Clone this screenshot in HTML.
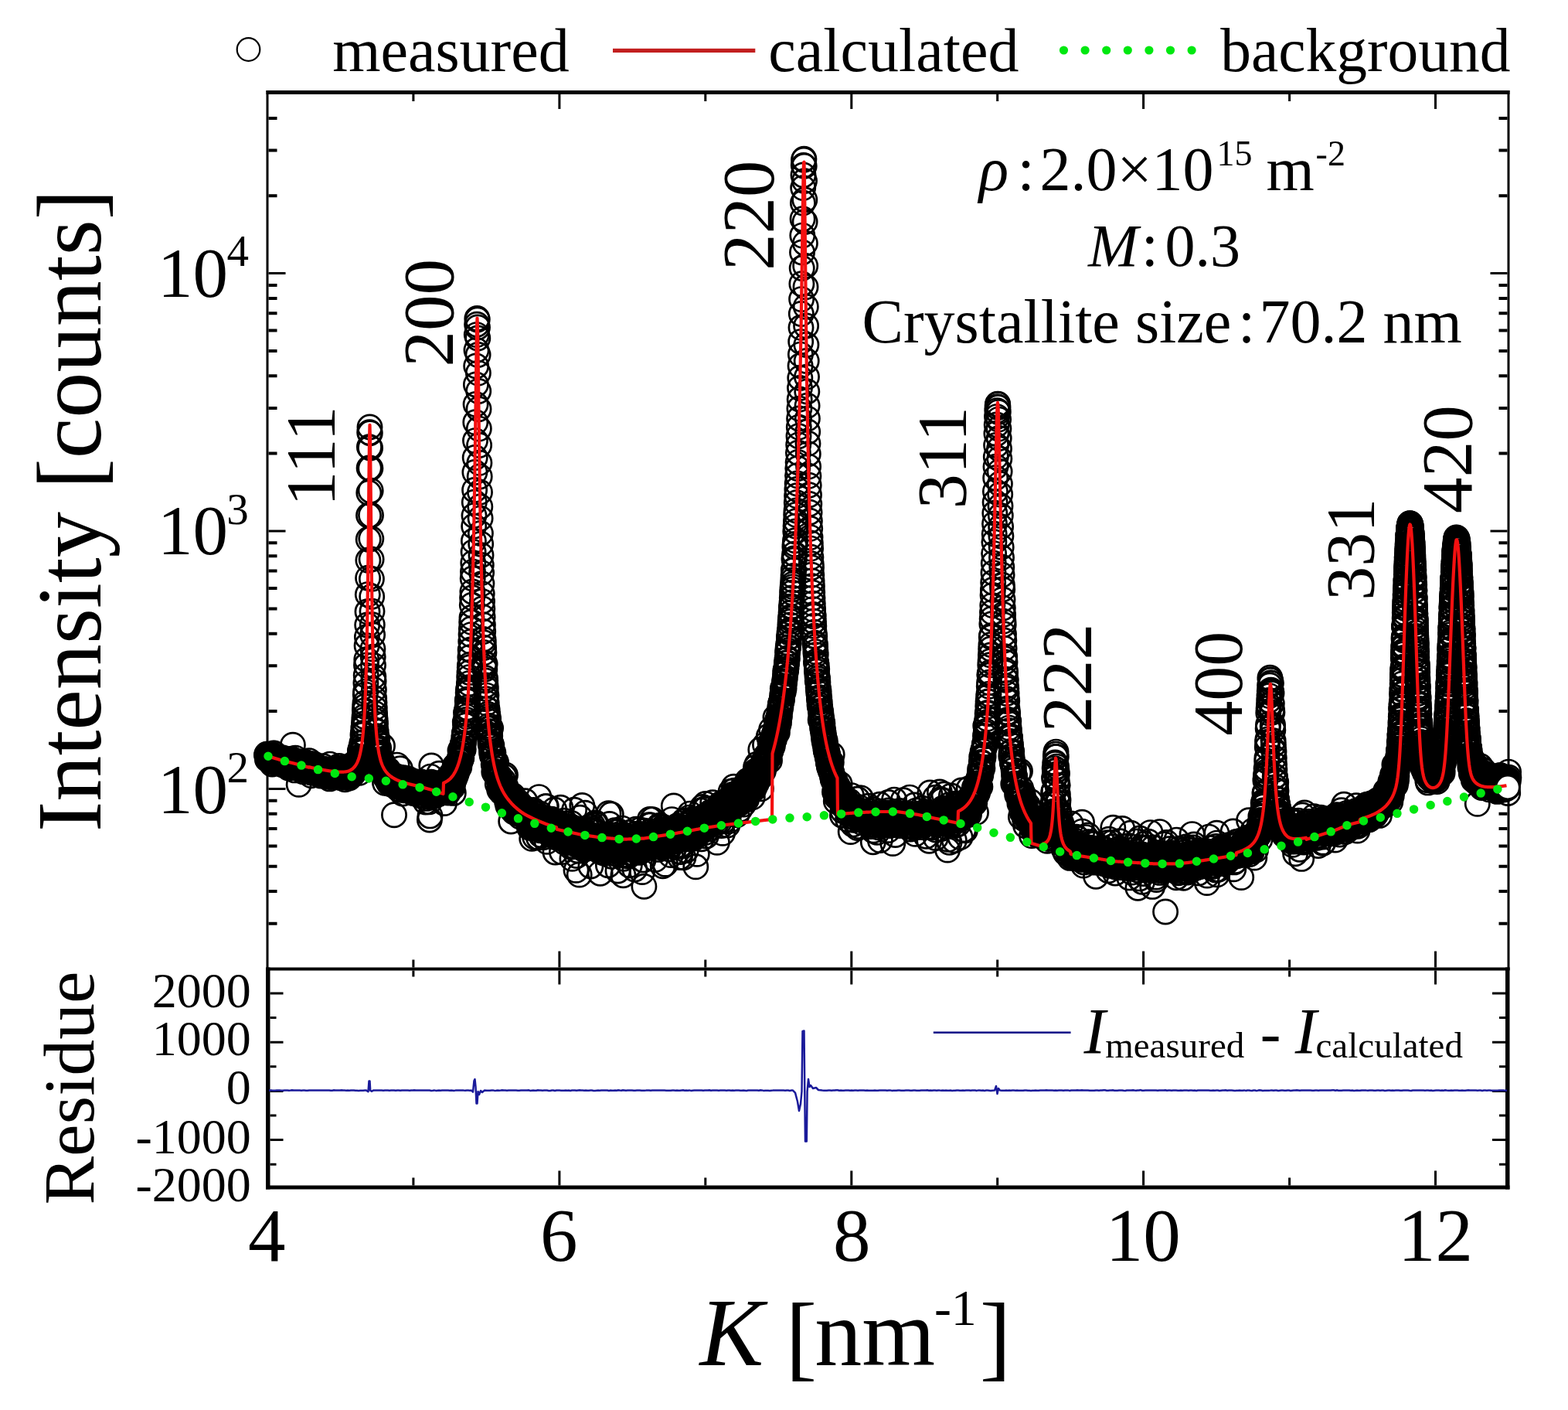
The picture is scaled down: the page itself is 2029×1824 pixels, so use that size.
<!DOCTYPE html>
<html><head><meta charset="utf-8"><title>XRD profile</title><style>html,body{margin:0;padding:0;background:#fff;}svg{display:block;}</style></head><body>
<svg width="2029" height="1824" viewBox="0 0 2029 1824">
<rect width="100%" height="100%" fill="#fff"/>
<rect x="344.5" y="117" width="1609" height="5" fill="#000"/>
<rect x="344.5" y="117" width="3" height="1138" fill="#000"/>
<rect x="1950.5" y="117" width="3" height="1138" fill="#000"/>
<rect x="344.5" y="1251.5" width="1609" height="4" fill="#000"/>
<rect x="344" y="1251.5" width="5.5" height="287" fill="#000"/>
<rect x="1948" y="1251.5" width="5.5" height="287" fill="#000"/>
<rect x="344" y="1533.5" width="1609.5" height="5" fill="#000"/>
<path d="M534.9 122V131M534.9 1251.5V1241.5M534.9 1255.5V1263.5M534.9 1533.5V1523.5M723.9 122V141M723.9 1251.5V1230.5M723.9 1255.5V1273.5M723.9 1533.5V1514.5M912.8 122V131M912.8 1251.5V1241.5M912.8 1255.5V1263.5M912.8 1533.5V1523.5M1101.8 122V141M1101.8 1251.5V1230.5M1101.8 1255.5V1273.5M1101.8 1533.5V1514.5M1290.7 122V131M1290.7 1251.5V1241.5M1290.7 1255.5V1263.5M1290.7 1533.5V1523.5M1479.6 122V141M1479.6 1251.5V1230.5M1479.6 1255.5V1273.5M1479.6 1533.5V1514.5M1668.6 122V131M1668.6 1251.5V1241.5M1668.6 1255.5V1263.5M1668.6 1533.5V1523.5M1857.5 122V141M1857.5 1251.5V1230.5M1857.5 1255.5V1273.5M1857.5 1533.5V1514.5M347.5 1020.4H369.5M1950.5 1020.4H1928.5M347.5 687H369.5M1950.5 687H1928.5M347.5 353.6H369.5M1950.5 353.6H1928.5M349.5 1506.2H357.5M1948 1506.2H1940M349.5 1474.6H366.5M1948 1474.6H1931M349.5 1443H357.5M1948 1443H1940M349.5 1411.4H366.5M1948 1411.4H1931M349.5 1379.8H357.5M1948 1379.8H1940M349.5 1348.2H366.5M1948 1348.2H1931M349.5 1316.6H357.5M1948 1316.6H1940M349.5 1285H366.5M1948 1285H1931" stroke="#000" stroke-width="3" fill="none"/><path d="M347.5 1194.7H358.5M1950.5 1194.7H1939.5M347.5 1153.1H358.5M1950.5 1153.1H1939.5M347.5 1120.8H358.5M1950.5 1120.8H1939.5M347.5 1094.4H358.5M1950.5 1094.4H1939.5M347.5 1072H358.5M1950.5 1072H1939.5M347.5 1052.7H358.5M1950.5 1052.7H1939.5M347.5 1035.7H358.5M1950.5 1035.7H1939.5M347.5 920H358.5M1950.5 920H1939.5M347.5 861.3H358.5M1950.5 861.3H1939.5M347.5 819.7H358.5M1950.5 819.7H1939.5M347.5 787.4H358.5M1950.5 787.4H1939.5M347.5 761H358.5M1950.5 761H1939.5M347.5 738.6H358.5M1950.5 738.6H1939.5M347.5 719.3H358.5M1950.5 719.3H1939.5M347.5 702.3H358.5M1950.5 702.3H1939.5M347.5 586.6H358.5M1950.5 586.6H1939.5M347.5 527.9H358.5M1950.5 527.9H1939.5M347.5 486.3H358.5M1950.5 486.3H1939.5M347.5 454H358.5M1950.5 454H1939.5M347.5 427.6H358.5M1950.5 427.6H1939.5M347.5 405.2H358.5M1950.5 405.2H1939.5M347.5 385.9H358.5M1950.5 385.9H1939.5M347.5 368.9H358.5M1950.5 368.9H1939.5M347.5 253.2H358.5M1950.5 253.2H1939.5M347.5 194.5H358.5M1950.5 194.5H1939.5M347.5 152.9H358.5M1950.5 152.9H1939.5" stroke="#000" stroke-width="4" fill="none"/>
<defs><marker id="o" markerUnits="userSpaceOnUse" markerWidth="40" markerHeight="40" refX="20" refY="20" overflow="visible"><circle cx="20" cy="20" r="15.6" fill="none" stroke="#000" stroke-width="2.7"/></marker></defs><polyline points="345,977 345.3,975.7 345.6,977.2 345.9,982.2 346.2,975.6 346.5,977 346.8,980 347.1,976.8 347.4,977.5 347.7,977.8 348,978.7 348.3,977.2 348.6,981.2 348.9,979.5 349.2,980.6 349.5,977.4 349.8,979.2 350.1,980.3 350.4,981.9 350.7,980.4 351,979.7 351.3,980.6 351.6,976 351.9,977 352.2,988.5 352.5,986 352.8,980.8 353.1,981.6 353.4,979.8 353.7,979.9 354,974.4 354.3,984.1 354.6,982 354.9,974.8 355.2,979.1 355.5,979.1 355.8,982.8 356.1,986.4 356.4,980.9 356.7,981.1 357,985.3 357.3,983.8 357.6,982 357.9,984.8 358.2,982.2 358.5,981.7 358.8,982 359.1,983.8 359.4,980.5 359.7,979.7 360,981.5 360.3,985.1 360.6,980.5 360.9,984.3 361.2,980.2 361.5,986.3 361.8,980.3 362.1,983.2 362.4,987.1 362.7,984.3 363,983.3 363.3,982.7 363.6,986.7 363.9,987.2 364.2,983.2 364.5,985.3 364.8,983.2 365.1,981.7 365.4,989.3 365.7,983.4 366,980.5 366.3,985.3 366.6,987 366.9,982.2 367.2,983.8 367.5,981.9 367.8,985.8 368.1,989.5 368.4,985.2 368.7,986.4 369,982.7 369.3,984.5 369.6,990.4 369.9,989.1 370.2,982.6 370.5,983.3 370.8,987.5 371.1,985.6 371.4,984.3 371.7,984.3 372,983.1 372.3,985.1 372.6,986.3 372.9,986.9 373.2,982.9 373.5,993.5 373.8,986.7 374.1,986.3 374.4,991 374.7,985.5 375,988.7 375.3,984 375.6,987.2 375.9,984.7 376.2,983.1 376.5,985.8 376.8,989.9 377.1,992 377.4,981.8 377.7,987.7 378,989.6 378.3,987 378.6,988.1 378.9,963.7 379.2,987.6 379.5,987.7 379.8,990.1 380.1,986.4 380.4,991.3 380.7,986 381,986 381.3,993.1 381.6,996.4 381.9,986.4 382.2,980.6 382.5,991.8 382.8,992.7 383.1,986.8 383.4,991.5 383.7,990.5 384,990.1 384.3,987.3 384.6,990.4 384.9,988.3 385.2,989.8 385.5,992.1 385.8,990.5 386.1,992.6 386.4,989.6 386.7,1014.8 387,993.3 387.3,985.2 387.6,990.1 387.9,990.2 388.2,988.5 388.5,991.5 388.8,991 389.1,989 389.4,989.5 389.7,994.3 390,987.9 390.3,992.6 390.6,994.2 390.9,993.8 391.2,992.2 391.5,985.8 391.8,994.9 392.1,990.6 392.4,998.3 392.7,991.3 393,988.5 393.3,992.2 393.6,993.6 393.9,990.9 394.2,989.5 394.5,989.7 394.8,985.6 395.1,991.3 395.4,994 395.7,994.1 396,992.4 396.3,991.9 396.6,992.5 396.9,991.9 397.2,998.1 397.5,989.9 397.8,994.6 398.1,996.6 398.4,990.8 398.7,988.7 399,991.4 399.3,992.6 399.6,996.2 399.9,984.1 400.2,990.5 400.5,997.2 400.8,996.1 401.1,993.3 401.4,998.8 401.7,993.2 402,995.3 402.3,989.9 402.6,990.8 402.9,1003.2 403.2,994 403.5,999.6 403.8,990.7 404.1,993.8 404.4,992.6 404.7,998 405,988.6 405.3,988.1 405.6,998.2 405.9,993.5 406.2,997 406.5,994.9 406.8,999.2 407.1,988.9 407.4,998.3 407.7,996.1 408,993.5 408.3,997.4 408.6,996.1 408.9,997.3 409.2,995.9 409.5,999.4 409.8,997 410.1,996.3 410.4,996.8 410.7,995.6 411,996.8 411.3,993.4 411.6,997 411.9,996.5 412.2,998.3 412.5,997.9 412.8,1000.5 413.1,994.5 413.4,1000.2 413.7,998.9 414,995.2 414.3,995.1 414.6,997.9 414.9,1003.5 415.2,995.3 415.5,995.9 415.8,1001.6 416.1,994.3 416.4,999.3 416.7,1000.8 417,996.7 417.3,997.7 417.6,996.5 417.9,1002.7 418.2,991.3 418.5,999.4 418.8,1002.7 419.1,995.3 419.4,998.7 419.7,996.4 420,998.7 420.3,997.8 420.6,996.9 420.9,1000.3 421.2,995.5 421.5,999.5 421.8,1000.9 422.1,997.7 422.4,996.5 422.7,998.9 423,1001.1 423.3,996.1 423.6,1004.3 423.9,1001.8 424.2,998.2 424.5,1003.1 424.8,998.4 425.1,998.7 425.4,995.5 425.7,1001.8 426,1000.8 426.3,997.6 426.6,1007.4 426.9,988.6 427.2,1001.2 427.5,1001.4 427.8,996 428.1,999.1 428.4,1005.2 428.7,996.9 429,996.2 429.3,1000.7 429.6,1000.2 429.9,997.6 430.2,1002.4 430.5,997.8 430.8,998.7 431.1,1001.7 431.4,1004.3 431.7,1000.2 432,1002.5 432.3,996.1 432.6,999.1 432.9,996.9 433.2,999.2 433.5,998.8 433.8,1002.4 434.1,997.4 434.4,993.7 434.7,1000.9 435,1001.9 435.3,1000.4 435.6,1001.5 435.9,1002.3 436.2,999.5 436.5,1001 436.8,995.1 437.1,1000 437.4,998.9 437.7,996.8 438,1001.1 438.3,995.2 438.6,1002.3 438.9,991 439.2,1001.4 439.5,1000.5 439.8,1005.1 440.1,1000.3 440.4,1006.1 440.7,995.4 441,1000.5 441.3,1002.5 441.6,1003.4 441.9,1001.6 442.2,1001 442.5,1003.9 442.8,1003.4 443.1,1000.9 443.4,1002 443.7,997 444,996.3 444.3,1000.1 444.6,998.5 444.9,1004.9 445.2,997.9 445.5,1000.2 445.8,992.9 446.1,994.6 446.4,1008.2 446.7,999.1 447,1003.9 447.3,997.9 447.6,1004.6 447.9,1001.6 448.2,999.1 448.5,997.6 448.8,999.5 449.1,1002.5 449.4,1001.5 449.7,996.5 450,999.5 450.3,1005.4 450.6,996.4 450.9,997.8 451.2,996.1 451.5,1000.2 451.8,1006.6 452.1,1002.5 452.4,996.6 452.7,1000.2 453,996 453.3,994.7 453.6,1000.6 453.9,998 454.2,997.5 454.5,993.4 454.8,994.8 455.1,1001.3 455.4,995.3 455.7,994.1 456,989.2 456.3,1002.1 456.6,997.8 456.9,991.1 457.2,1000.2 457.5,999.3 457.8,993.1 458.1,991 458.4,996.5 458.7,992 459,993.1 459.3,988 459.6,992.8 459.9,989 460.2,995.1 460.5,992.1 460.8,991.3 461.1,986.6 461.4,988 461.7,992 462,986.5 462.3,985.6 462.6,988 462.9,987.8 463.2,989.1 463.5,991.3 463.8,984 464.1,983 464.4,985.8 464.7,979.4 465,999.8 465.3,981.6 465.6,980.2 465.9,971 466.2,981.5 466.5,972.9 466.8,970.2 467.1,970.4 467.4,966.2 467.7,971.4 468,973.6 468.3,961.6 468.6,965.6 468.9,960.4 469.2,960.5 469.5,950.7 469.8,948.3 470.1,949.8 470.4,941.4 470.7,939.8 471,936.3 471.3,931.2 471.6,926.9 471.9,919.1 472.2,914 472.5,909.2 472.8,898.4 473.1,894.6 473.4,883.6 473.7,873.6 474,860.6 474.3,853.2 474.6,835.3 474.9,824 475.2,808.5 475.5,791.3 475.8,769.1 476.1,747.7 476.4,724.8 476.7,697.8 477,666.8 477.3,637.5 477.6,605.5 477.9,578.2 478.2,559.3 478.5,552.5 478.8,560.3 479.1,579.4 479.4,605.8 479.7,634.7 480,666.4 480.3,696.9 480.6,723.5 480.9,748.9 481.2,771.7 481.5,790.8 481.8,808.2 482.1,821.2 482.4,839.4 482.7,849.8 483,860.6 483.3,875.3 483.6,881.3 483.9,892.3 484.2,903.3 484.5,908.8 484.8,916.1 485.1,922.9 485.4,928.4 485.7,932.5 486,936.4 486.3,944.7 486.6,946 486.9,954.5 487.2,952.2 487.5,954.2 487.8,958.6 488.1,960.9 488.4,955.9 488.7,968.9 489,969.7 489.3,969.2 489.6,969.5 489.9,973.3 490.2,967.7 490.5,978.2 490.8,975.9 491.1,976.4 491.4,982.6 491.7,986.3 492,988.8 492.3,985.1 492.6,982.7 492.9,986.7 493.2,988 493.5,990.9 493.8,988.3 494.1,999.3 494.4,991.1 494.7,992.6 495,965 495.3,986.2 495.6,1000 495.9,999.4 496.2,1000.5 496.5,992.4 496.8,1000.5 497.1,995.1 497.4,995.9 497.7,997.7 498,1012.8 498.3,995 498.6,993.8 498.9,1005.5 499.2,1004.1 499.5,1001.9 499.8,998.6 500.1,1001.1 500.4,999.6 500.7,1006.9 501,999.5 501.3,1001.2 501.6,1010.1 501.9,998.2 502.2,995.7 502.5,1007.7 502.8,1004.7 503.1,999.8 503.4,1011.4 503.7,1013.8 504,1011.2 504.3,1008.5 504.6,1005 504.9,1004.3 505.2,1005.9 505.5,1012.2 505.8,1005.2 506.1,1000.4 506.4,1003.1 506.7,1004.1 507,1008.2 507.3,1004.6 507.6,1012.5 507.9,1005.9 508.2,1009.4 508.5,1004.7 508.8,1007.5 509.1,1014 509.4,1009.2 509.7,1005.1 510,1054.2 510.3,1012.5 510.6,1013.5 510.9,1016.7 511.2,1006.9 511.5,1005.6 511.8,1007.8 512.1,1010.2 512.4,1011.5 512.7,1010.5 513,1014.6 513.3,1008.1 513.6,989.6 513.9,1008.2 514.2,1014.3 514.5,1011.9 514.8,1013.1 515.1,1005.3 515.4,1011.9 515.7,1020.7 516,1011.2 516.3,1005.4 516.6,1010.3 516.9,1009.6 517.2,1013.2 517.5,1021.8 517.8,994.3 518.1,1018.9 518.4,1014.3 518.7,1012.6 519,1011.2 519.3,1015.5 519.6,1010.3 519.9,1015.5 520.2,1017.4 520.5,1011 520.8,1018.4 521.1,1026.5 521.4,1019.2 521.7,1014.4 522,1006.2 522.3,1016.5 522.6,1016.5 522.9,1021.3 523.2,1021.6 523.5,1017.3 523.8,1017.7 524.1,1010.3 524.4,1014 524.7,1022.4 525,1019.3 525.3,1012.8 525.6,1008 525.9,1014.3 526.2,1014.7 526.5,1008.4 526.8,1016.2 527.1,1017.5 527.4,1022.3 527.7,1018.5 528,1007.4 528.3,1022.6 528.6,1016.4 528.9,1022.7 529.2,1016.1 529.5,1012.9 529.8,1017.8 530.1,1013.7 530.4,1013.8 530.7,1015 531,1009.8 531.3,1013.7 531.6,1018.4 531.9,1020.1 532.2,1020.8 532.5,1015.2 532.8,1018.7 533.1,1010.6 533.4,1020.7 533.7,1018.4 534,1018.9 534.3,1010.4 534.6,1025.9 534.9,1019.6 535.2,1013.6 535.5,1021.7 535.8,1019.8 536.1,1019.3 536.4,1015 536.7,1017.3 537,1016.2 537.3,1015.4 537.6,1017.9 537.9,1013.3 538.2,1021.3 538.5,1011.7 538.8,1026.1 539.1,1025.5 539.4,1020.7 539.7,1013.9 540,1017.6 540.3,1021 540.6,1023.2 540.9,1020.8 541.2,1020.3 541.5,1021.1 541.8,1025 542.1,1020.8 542.4,1014.4 542.7,1028.7 543,1019.9 543.3,1028.5 543.6,1018.2 543.9,1022.4 544.2,1028.6 544.5,1018.7 544.8,1011.4 545.1,1018.8 545.4,1014.3 545.7,1019.7 546,1029.2 546.3,1017.3 546.6,1021.3 546.9,1026.1 547.2,1016.2 547.5,1018.4 547.8,1022 548.1,1015.6 548.4,1023.7 548.7,1017 549,1024.1 549.3,1017.5 549.6,1024.9 549.9,1013.5 550.2,1015.1 550.5,1013.8 550.8,1037.5 551.1,1022.2 551.4,1016.5 551.7,1032.9 552,1025 552.3,1015.7 552.6,1018.2 552.9,1016 553.2,1021.7 553.5,1017.9 553.8,1023.7 554.1,1026.7 554.4,1028.2 554.7,1022.9 555,1022.9 555.3,1023.3 555.6,1037.3 555.9,1060.5 556.2,1023 556.5,1055.4 556.8,1023.2 557.1,1004.6 557.4,1031.4 557.7,1011.8 558,1025.7 558.3,990.5 558.6,1013.8 558.9,1019.4 559.2,1023.2 559.5,1020.1 559.8,1025.9 560.1,1019.5 560.4,1020.6 560.7,1018.2 561,1016.3 561.3,1012.9 561.6,1022.2 561.9,1015.8 562.2,1023.9 562.5,1024.4 562.8,1023.1 563.1,1024.7 563.4,1015.8 563.7,1016 564,1014.5 564.3,1020.1 564.6,1018.7 564.9,1022.5 565.2,1025.1 565.5,1017.8 565.8,1018.5 566.1,1024.7 566.4,1017 566.7,1027.6 567,1020.3 567.3,1022.3 567.6,1021.7 567.9,1024.2 568.2,1000.8 568.5,1016.6 568.8,1013.8 569.1,1018.3 569.4,1024.8 569.7,1019 570,1024.1 570.3,1016.5 570.6,1013.2 570.9,1016.9 571.2,1021 571.5,1019.8 571.8,1017.1 572.1,1024.5 572.4,1017.1 572.7,1016.8 573,1020 573.3,1019.3 573.6,1016.5 573.9,1020.8 574.2,1020.7 574.5,1013.4 574.8,1015.7 575.1,1039.1 575.4,1020.8 575.7,1024.3 576,1011.9 576.3,1011.7 576.6,1019 576.9,1012.8 577.2,1015.5 577.5,1023.1 577.8,1016.4 578.1,1024.7 578.4,1015.6 578.7,1023.9 579,1015.1 579.3,1007.3 579.6,1014.8 579.9,1025.5 580.2,1016 580.5,1007.6 580.8,1019.3 581.1,1007.9 581.4,1012.3 581.7,1004.9 582,1016.7 582.3,1012.2 582.6,1010.5 582.9,1008.8 583.2,1002.5 583.5,1012.7 583.8,1014.5 584.1,1016.9 584.4,1003.1 584.7,1008.8 585,1010.8 585.3,1007.8 585.6,1018.6 585.9,1014.4 586.2,1002.4 586.5,1004.2 586.8,1025.9 587.1,1009.2 587.4,1001.9 587.7,996.5 588,1008.6 588.3,1002.8 588.6,990.9 588.9,1000.2 589.2,1001 589.5,1001.1 589.8,1003.5 590.1,999.2 590.4,1001.1 590.7,988.8 591,997.3 591.3,993.6 591.6,998 591.9,996.1 592.2,989.6 592.5,994 592.8,993.3 593.1,987.8 593.4,989.3 593.7,989 594,987.5 594.3,992.4 594.6,984.5 594.9,980 595.2,981.8 595.5,970.9 595.8,980.5 596.1,984 596.4,979.9 596.7,976.2 597,981 597.3,980.5 597.6,973.6 597.9,968.8 598.2,967.8 598.5,963.5 598.8,962.4 599.1,970.5 599.4,962.9 599.7,969.2 600,960.8 600.3,954.5 600.6,951.6 600.9,948.1 601.2,951.6 601.5,946.7 601.8,934.1 602.1,938.3 602.4,934.6 602.7,938.2 603,921.9 603.3,930.9 603.6,927.1 603.9,922.4 604.2,918.4 604.5,915.4 604.8,907.1 605.1,904.8 605.4,905 605.7,896.3 606,892.2 606.3,895.2 606.6,889.3 606.9,884.1 607.2,876.1 607.5,870 607.8,863.5 608.1,860 608.4,850.3 608.7,841.1 609,840.4 609.3,830.1 609.6,821.1 609.9,813.5 610.2,804.8 610.5,798.8 610.8,782.7 611.1,773.3 611.4,765.4 611.7,748.5 612,739.6 612.3,728.2 612.6,714.1 612.9,699.8 613.2,680.7 613.5,667 613.8,649.7 614.1,633.9 614.4,610.9 614.7,592 615,570.1 615.3,546.3 615.6,523 615.9,497.5 616.2,473.5 616.5,453 616.8,433.1 617.1,419.7 617.4,412 617.7,413.5 618,423.4 618.3,437.4 618.6,459 618.9,482.6 619.2,505.9 619.5,529.2 619.8,554.6 620.1,575.9 620.4,598.8 620.7,616.4 621,636.7 621.3,655.5 621.6,670.6 621.9,689.9 622.2,703.7 622.5,718.2 622.8,731 623.1,741.1 623.4,755.1 623.7,768.1 624,778 624.3,787.5 624.6,798.2 624.9,808.3 625.2,817 625.5,826.9 625.8,831.2 626.1,838 626.4,844.3 626.7,857.5 627,862.7 627.3,865.7 627.6,859.1 627.9,877 628.2,880.5 628.5,886.5 628.8,890.9 629.1,904.2 629.4,899.6 629.7,909.6 630,917.4 630.3,917.3 630.6,917.7 630.9,924 631.2,923.9 631.5,927 631.8,932.7 632.1,929.9 632.4,942.5 632.7,938.9 633,946.6 633.3,950.4 633.6,946.3 633.9,955.1 634.2,952.3 634.5,962 634.8,959.9 635.1,941.9 635.4,965.3 635.7,965.7 636,972.8 636.3,964 636.6,977.1 636.9,976.7 637.2,972.5 637.5,973.9 637.8,976.7 638.1,979.5 638.4,973.7 638.7,988.8 639,988.4 639.3,998.6 639.6,984.6 639.9,988.4 640.2,986.4 640.5,1000.4 640.8,994.2 641.1,997.9 641.4,999.8 641.7,987.9 642,986.1 642.3,1000.3 642.6,1001.3 642.9,1001.7 643.2,1003.3 643.5,1002.3 643.8,1014.2 644.1,1004.8 644.4,1007.1 644.7,1005.1 645,1006.2 645.3,1004.3 645.6,1008.8 645.9,1006.1 646.2,1021.7 646.5,1015.8 646.8,1004.4 647.1,1017.8 647.4,1014.3 647.7,1010.7 648,1018.3 648.3,1011.9 648.6,1022 648.9,1024.9 649.2,1022.8 649.5,1024.9 649.8,1018.3 650.1,1019.9 650.4,1017.7 650.7,1024.4 651,1009.4 651.3,1021.3 651.6,1021.7 651.9,1020 652.2,1023.7 652.5,1004.6 652.8,1023.3 653.1,1020.1 653.4,1021.7 653.7,1021 654,1002.4 654.3,1029.8 654.6,1017.8 654.9,1028.2 655.2,1026.8 655.5,1024.7 655.8,1022.2 656.1,1037.2 656.4,1031.6 656.7,1031.8 657,1031.7 657.3,1042.2 657.6,1031.5 657.9,1037.9 658.2,1030.5 658.5,1029.9 658.8,1030 659.1,1038.8 659.4,1029.2 659.7,1038 660,1040.1 660.3,1039.3 660.6,1039.1 660.9,1034.7 661.2,1062.5 661.5,1046.4 661.8,1039.1 662.1,1032.8 662.4,1036.3 662.7,1035.3 663,1042.9 663.3,1033.9 663.6,1029 663.9,1029.8 664.2,1033 664.5,1031 664.8,1037.6 665.1,1050.4 665.4,1043.5 665.7,1043.2 666,1035.8 666.3,1041.5 666.6,1042.5 666.9,1042.4 667.2,1041.8 667.5,1039.7 667.8,1046.9 668.1,1045.8 668.4,1036.3 668.7,1043.1 669,1045.6 669.3,1050.1 669.6,1047.8 669.9,1046.3 670.2,1052.5 670.5,1048.6 670.8,1037.6 671.1,1050.7 671.4,1048.2 671.7,1042.8 672,1048.2 672.3,1051.3 672.6,1048.2 672.9,1045.7 673.2,1056.6 673.5,1049.5 673.8,1049.1 674.1,1050.8 674.4,1045.6 674.7,1052.1 675,1051.4 675.3,1049.7 675.6,1046.6 675.9,1051.4 676.2,1043.5 676.5,1055.3 676.8,1045 677.1,1055.6 677.4,1052.4 677.7,1050 678,1051.3 678.3,1047.9 678.6,1054.4 678.9,1046.5 679.2,1053.9 679.5,1036.3 679.8,1051.1 680.1,1053 680.4,1049.1 680.7,1049.3 681,1052.2 681.3,1051.2 681.6,1053.1 681.9,1054.8 682.2,1058.3 682.5,1050.7 682.8,1054.6 683.1,1053.1 683.4,1057.4 683.7,1055.8 684,1061.2 684.3,1055.8 684.6,1052.7 684.9,1070.4 685.2,1052.7 685.5,1055.5 685.8,1064.5 686.1,1058.3 686.4,1065.8 686.7,1055.6 687,1058.7 687.3,1071 687.6,1056.2 687.9,1064.5 688.2,1084.8 688.5,1069.9 688.8,1058 689.1,1057.9 689.4,1050.9 689.7,1062.9 690,1059.8 690.3,1047.9 690.6,1068.8 690.9,1068.4 691.2,1050.1 691.5,1069.6 691.8,1057.9 692.1,1082.8 692.4,1064.9 692.7,1071.4 693,1066 693.3,1057.8 693.6,1068.8 693.9,1059 694.2,1060.6 694.5,1052.6 694.8,1064.8 695.1,1056.5 695.4,1058.4 695.7,1064.4 696,1071.6 696.3,1056 696.6,1070.4 696.9,1083.4 697.2,1058.7 697.5,1031.1 697.8,1068.4 698.1,1064.4 698.4,1065.7 698.7,1058.8 699,1052.7 699.3,1074.3 699.6,1060.5 699.9,1080.2 700.2,1065.3 700.5,1071.1 700.8,1060.2 701.1,1064.9 701.4,1069.6 701.7,1068.6 702,1069.1 702.3,1065.4 702.6,1067.3 702.9,1063.4 703.2,1059.3 703.5,1083.1 703.8,1073.3 704.1,1073.2 704.4,1071.1 704.7,1062.3 705,1069.3 705.3,1071.1 705.6,1059.4 705.9,1075.2 706.2,1043.3 706.5,1065.7 706.8,1043.1 707.1,1070.8 707.4,1067.1 707.7,1088.8 708,1072.4 708.3,1071.4 708.6,1066.2 708.9,1069 709.2,1075.6 709.5,1071.1 709.8,1066.5 710.1,1060.8 710.4,1075.8 710.7,1068.4 711,1071.5 711.3,1066.3 711.6,1068.3 711.9,1080.1 712.2,1075.2 712.5,1073.6 712.8,1073.7 713.1,1069.1 713.4,1069.2 713.7,1059.7 714,1063.2 714.3,1077.5 714.6,1069.9 714.9,1078.6 715.2,1080.4 715.5,1071.9 715.8,1061.1 716.1,1077.5 716.4,1066.1 716.7,1077.4 717,1074.6 717.3,1047.4 717.6,1071.6 717.9,1073.6 718.2,1071.4 718.5,1102.5 718.8,1073.8 719.1,1074.1 719.4,1083.2 719.7,1080.3 720,1070.5 720.3,1077.2 720.6,1071 720.9,1067.8 721.2,1075.8 721.5,1072.7 721.8,1074 722.1,1070.8 722.4,1065.4 722.7,1067 723,1070.9 723.3,1075.3 723.6,1079.1 723.9,1083.8 724.2,1072.6 724.5,1078.6 724.8,1076.1 725.1,1071.1 725.4,1044.8 725.7,1066.6 726,1075.4 726.3,1075.9 726.6,1075.8 726.9,1102.1 727.2,1073.3 727.5,1084.5 727.8,1075.3 728.1,1068 728.4,1072.9 728.7,1078.1 729,1068.1 729.3,1082.2 729.6,1085 729.9,1061.8 730.2,1084.5 730.5,1089.6 730.8,1072.9 731.1,1073.5 731.4,1086.6 731.7,1080 732,1065.4 732.3,1082.7 732.6,1069.3 732.9,1074 733.2,1074.3 733.5,1088.3 733.8,1074.2 734.1,1071 734.4,1072.4 734.7,1074.6 735,1078.6 735.3,1080.4 735.6,1089.8 735.9,1077 736.2,1077.8 736.5,1080.7 736.8,1071 737.1,1085.3 737.4,1079.5 737.7,1082.4 738,1074.5 738.3,1072.6 738.6,1095.5 738.9,1076.1 739.2,1065 739.5,1069.9 739.8,1077.6 740.1,1080.8 740.4,1110.8 740.7,1082.2 741,1078.4 741.3,1079.1 741.6,1082.6 741.9,1094.4 742.2,1081.1 742.5,1078.6 742.8,1078.5 743.1,1047.7 743.4,1084 743.7,1076.3 744,1083.9 744.3,1074.4 744.6,1091.9 744.9,1088.3 745.2,1086.5 745.5,1125.8 745.8,1087.2 746.1,1076 746.4,1106.9 746.7,1081.9 747,1074 747.3,1100.2 747.6,1085.2 747.9,1081.5 748.2,1083.5 748.5,1079.3 748.8,1090.8 749.1,1078.1 749.4,1085.5 749.7,1131.6 750,1091.4 750.3,1085.6 750.6,1057.8 750.9,1079.2 751.2,1090 751.5,1075.7 751.8,1081.5 752.1,1086.7 752.4,1078 752.7,1083.6 753,1078.5 753.3,1041.9 753.6,1080.5 753.9,1087.1 754.2,1086.7 754.5,1098.2 754.8,1083.2 755.1,1089 755.4,1088.2 755.7,1081.5 756,1073.5 756.3,1098.9 756.6,1081.5 756.9,1076.3 757.2,1051.8 757.5,1081 757.8,1085.1 758.1,1090.7 758.4,1092.7 758.7,1095.4 759,1079.6 759.3,1086.8 759.6,1088.5 759.9,1087.3 760.2,1092.8 760.5,1084.4 760.8,1079.5 761.1,1080.4 761.4,1094.7 761.7,1079.4 762,1074.3 762.3,1096.3 762.6,1092.7 762.9,1091.3 763.2,1086.5 763.5,1069.3 763.8,1094.4 764.1,1087.9 764.4,1120.5 764.7,1090.3 765,1081.1 765.3,1086.4 765.6,1074 765.9,1096.8 766.2,1081.5 766.5,1093.6 766.8,1067.6 767.1,1084.7 767.4,1071.9 767.7,1091.1 768,1097.1 768.3,1080.9 768.6,1091.6 768.9,1083.7 769.2,1087.5 769.5,1087 769.8,1088.4 770.1,1066.2 770.4,1085.7 770.7,1064.5 771,1089.9 771.3,1091.6 771.6,1093.3 771.9,1084.9 772.2,1088.1 772.5,1085.2 772.8,1085.3 773.1,1089.2 773.4,1087.1 773.7,1084.4 774,1094.4 774.3,1093.8 774.6,1089.9 774.9,1094.6 775.2,1085 775.5,1095.3 775.8,1088.1 776.1,1101.5 776.4,1094.3 776.7,1129.7 777,1094.7 777.3,1098 777.6,1088.1 777.9,1083.9 778.2,1085.5 778.5,1092.1 778.8,1091.8 779.1,1089.7 779.4,1085.7 779.7,1081.8 780,1091.6 780.3,1097.8 780.6,1087.9 780.9,1088.3 781.2,1103.5 781.5,1088.3 781.8,1085.6 782.1,1085 782.4,1086.4 782.7,1102.6 783,1083.9 783.3,1094 783.6,1093.6 783.9,1087.2 784.2,1092.8 784.5,1088 784.8,1099.3 785.1,1085.6 785.4,1085.2 785.7,1089.2 786,1088.6 786.3,1081.5 786.6,1088.7 786.9,1119.2 787.2,1095.2 787.5,1052.3 787.8,1094.8 788.1,1096 788.4,1098.2 788.7,1066 789,1097.8 789.3,1083.7 789.6,1092.5 789.9,1090.9 790.2,1086 790.5,1090.3 790.8,1053.5 791.1,1087.1 791.4,1107.7 791.7,1094.2 792,1089.1 792.3,1096.5 792.6,1083.1 792.9,1094.8 793.2,1100.7 793.5,1094.4 793.8,1094.2 794.1,1088.5 794.4,1094.7 794.7,1083.9 795,1088.3 795.3,1084 795.6,1074.3 795.9,1076.6 796.2,1083.7 796.5,1096.3 796.8,1092.4 797.1,1089.2 797.4,1080.3 797.7,1087.1 798,1084.5 798.3,1105.1 798.6,1087.6 798.9,1087 799.2,1099.9 799.5,1126.5 799.8,1085.3 800.1,1075.2 800.4,1097.6 800.7,1082.6 801,1090.4 801.3,1090.8 801.6,1092.4 801.9,1094 802.2,1101.2 802.5,1092.9 802.8,1092.5 803.1,1094.9 803.4,1098.9 803.7,1095.8 804,1085.5 804.3,1097.1 804.6,1094.3 804.9,1083 805.2,1071.6 805.5,1094.6 805.8,1088.1 806.1,1105.9 806.4,1132.2 806.7,1094.1 807,1110.7 807.3,1084.2 807.6,1081.5 807.9,1084.6 808.2,1095.2 808.5,1089.8 808.8,1092.5 809.1,1091.4 809.4,1086.9 809.7,1091.3 810,1096.1 810.3,1086.6 810.6,1087.3 810.9,1107 811.2,1085 811.5,1097.8 811.8,1098.3 812.1,1090.4 812.4,1093.5 812.7,1085.6 813,1107.5 813.3,1093.5 813.6,1097.9 813.9,1092.5 814.2,1077.2 814.5,1089.5 814.8,1119.2 815.1,1091.9 815.4,1095.7 815.7,1092.6 816,1087 816.3,1104.1 816.6,1082.3 816.9,1083.6 817.2,1090.7 817.5,1092.4 817.8,1085.1 818.1,1097 818.4,1096.9 818.7,1097.6 819,1091.2 819.3,1088.4 819.6,1090.8 819.9,1087.6 820.2,1086.2 820.5,1087.8 820.8,1094.5 821.1,1091.7 821.4,1124.4 821.7,1095.7 822,1078.9 822.3,1092.4 822.6,1091.1 822.9,1072.7 823.2,1097.2 823.5,1101.9 823.8,1085.4 824.1,1093.8 824.4,1092.8 824.7,1092.2 825,1096.9 825.3,1087 825.6,1093.2 825.9,1091.8 826.2,1090.6 826.5,1092.3 826.8,1102.9 827.1,1089.8 827.4,1088.6 827.7,1087.5 828,1073.4 828.3,1088.1 828.6,1088.8 828.9,1099.1 829.2,1101.4 829.5,1087.4 829.8,1094.7 830.1,1084.8 830.4,1079.3 830.7,1080 831,1128.1 831.3,1089.8 831.6,1086.3 831.9,1095.9 832.2,1093.8 832.5,1112.4 832.8,1086.3 833.1,1092.3 833.4,1146.7 833.7,1085.2 834,1074.7 834.3,1079.1 834.6,1082.5 834.9,1087.4 835.2,1091.8 835.5,1081.9 835.8,1095 836.1,1093.1 836.4,1097.6 836.7,1091.2 837,1095.6 837.3,1092.7 837.6,1089.4 837.9,1089 838.2,1082.3 838.5,1093.8 838.8,1086.8 839.1,1091.1 839.4,1081.7 839.7,1067.2 840,1086.8 840.3,1080 840.6,1090.9 840.9,1060 841.2,1094.7 841.5,1096.2 841.8,1067.4 842.1,1089.1 842.4,1082.2 842.7,1075.5 843,1085.4 843.3,1089.9 843.6,1091.3 843.9,1087.4 844.2,1060.3 844.5,1086.2 844.8,1085.6 845.1,1088 845.4,1083.7 845.7,1093 846,1091.4 846.3,1078.8 846.6,1076.5 846.9,1083.7 847.2,1079.8 847.5,1085.3 847.8,1088.9 848.1,1111.8 848.4,1093.7 848.7,1085.2 849,1081.1 849.3,1083.7 849.6,1082.7 849.9,1082.9 850.2,1076.7 850.5,1089.6 850.8,1085.5 851.1,1082.7 851.4,1080 851.7,1098.9 852,1088.7 852.3,1087.1 852.6,1091.2 852.9,1081.7 853.2,1068 853.5,1069.9 853.8,1094.2 854.1,1092.5 854.4,1090.7 854.7,1073.9 855,1091.8 855.3,1096.3 855.6,1092.9 855.9,1088.3 856.2,1077.1 856.5,1073.1 856.8,1087.6 857.1,1080.4 857.4,1086.1 857.7,1120.2 858,1094.9 858.3,1070 858.6,1087.3 858.9,1094.4 859.2,1083.5 859.5,1080.7 859.8,1094.4 860.1,1084.8 860.4,1083 860.7,1078.2 861,1117.8 861.3,1080.3 861.6,1087.7 861.9,1086 862.2,1078.1 862.5,1087.1 862.8,1084.2 863.1,1076.2 863.4,1083.2 863.7,1090.9 864,1085.2 864.3,1080.5 864.6,1077.6 864.9,1077.8 865.2,1077.1 865.5,1098.3 865.8,1085.9 866.1,1083.8 866.4,1089.4 866.7,1081.3 867,1084 867.3,1079.1 867.6,1093.4 867.9,1106.1 868.2,1073.9 868.5,1087.3 868.8,1085.7 869.1,1086.4 869.4,1060.1 869.7,1087.2 870,1079.5 870.3,1086 870.6,1082.8 870.9,1080.4 871.2,1078.7 871.5,1079.8 871.8,1042.5 872.1,1080 872.4,1082.5 872.7,1082.4 873,1095.4 873.3,1077.4 873.6,1082.3 873.9,1073.2 874.2,1078.3 874.5,1087.1 874.8,1088.4 875.1,1075.6 875.4,1085.6 875.7,1077.7 876,1082.6 876.3,1070.8 876.6,1068.3 876.9,1073.4 877.2,1074.2 877.5,1076.8 877.8,1082.2 878.1,1073.2 878.4,1080.4 878.7,1084.7 879,1074.3 879.3,1077.6 879.6,1080.2 879.9,1109 880.2,1093.3 880.5,1094.7 880.8,1102 881.1,1073 881.4,1074.3 881.7,1080.3 882,1078.1 882.3,1081.9 882.6,1084.9 882.9,1084.4 883.2,1079.2 883.5,1084.2 883.8,1076.6 884.1,1076 884.4,1109.2 884.7,1062 885,1078.1 885.3,1078.4 885.6,1071.7 885.9,1062.4 886.2,1082.4 886.5,1079.1 886.8,1077.2 887.1,1071.3 887.4,1080.9 887.7,1100.1 888,1080.8 888.3,1072.9 888.6,1067.5 888.9,1071 889.2,1081.4 889.5,1073.3 889.8,1074.7 890.1,1074.3 890.4,1085.2 890.7,1073 891,1082.2 891.3,1070.3 891.6,1071.3 891.9,1057.6 892.2,1078.3 892.5,1079.7 892.8,1052.6 893.1,1064.8 893.4,1078 893.7,1069.3 894,1081.8 894.3,1082.4 894.6,1077.5 894.9,1082.1 895.2,1060.2 895.5,1074.5 895.8,1078.9 896.1,1076.3 896.4,1078 896.7,1075.5 897,1076.4 897.3,1076.4 897.6,1075.3 897.9,1084.6 898.2,1059.8 898.5,1079.8 898.8,1073.9 899.1,1081.9 899.4,1069.8 899.7,1073 900,1081 900.3,1121.3 900.6,1077.5 900.9,1064.7 901.2,1070.7 901.5,1081.6 901.8,1104.8 902.1,1072.6 902.4,1066.3 902.7,1070.2 903,1069.1 903.3,1077.1 903.6,1067.3 903.9,1060.9 904.2,1067.6 904.5,1070.6 904.8,1069.4 905.1,1074.7 905.4,1062.8 905.7,1075 906,1069 906.3,1070.9 906.6,1070.7 906.9,1048.5 907.2,1075.7 907.5,1068.1 907.8,1085.2 908.1,1058.7 908.4,1057.8 908.7,1062.8 909,1044 909.3,1063.5 909.6,1063.5 909.9,1068 910.2,1070.2 910.5,1064.8 910.8,1067.8 911.1,1067.1 911.4,1047.1 911.7,1065.1 912,1072 912.3,1065 912.6,1077 912.9,1040 913.2,1068.7 913.5,1045.6 913.8,1081.5 914.1,1068 914.4,1059.1 914.7,1059.1 915,1067.1 915.3,1061 915.6,1054.5 915.9,1056.9 916.2,1053.1 916.5,1066.3 916.8,1063.9 917.1,1058.6 917.4,1053.9 917.7,1059.4 918,1061.2 918.3,1057.3 918.6,1061.7 918.9,1056.3 919.2,1072.3 919.5,1050.4 919.8,1051.4 920.1,1064.6 920.4,1054.7 920.7,1058.5 921,1055.1 921.3,1058.8 921.6,1053.8 921.9,1052.7 922.2,1038.3 922.5,1058.5 922.8,1059.3 923.1,1055.8 923.4,1062.5 923.7,1052.5 924,1054.5 924.3,1061.6 924.6,1049 924.9,1048.2 925.2,1060.9 925.5,1051.5 925.8,1048.1 926.1,1049.8 926.4,1058.1 926.7,1060.3 927,1053.8 927.3,1055.4 927.6,1063.2 927.9,1089.8 928.2,1045.8 928.5,1054.9 928.8,1052.8 929.1,1053.9 929.4,1052.2 929.7,1047.6 930,1049.8 930.3,1050 930.6,1050.8 930.9,1063.2 931.2,1050.7 931.5,1046.4 931.8,1040.5 932.1,1048.9 932.4,1046 932.7,1054.3 933,1048.6 933.3,1041.8 933.6,1068 933.9,1051.6 934.2,1047.3 934.5,1049 934.8,1049 935.1,1077.8 935.4,1038.3 935.7,1051.4 936,1049 936.3,1062 936.6,1040.8 936.9,1045.7 937.2,1040.1 937.5,1045.2 937.8,1045.8 938.1,1052.6 938.4,1039.7 938.7,1042.6 939,1043 939.3,1045.2 939.6,1046.4 939.9,1050.3 940.2,1039.6 940.5,1047.6 940.8,1045.2 941.1,1043.5 941.4,1067.4 941.7,1052.6 942,1035.1 942.3,1038.8 942.6,1045 942.9,1062.3 943.2,1042.8 943.5,1045.8 943.8,1040.9 944.1,1039.1 944.4,1037.8 944.7,1038.6 945,1041.2 945.3,1037.3 945.6,1024 945.9,1039.9 946.2,1040.5 946.5,1040.9 946.8,1044.8 947.1,1044 947.4,1046 947.7,1027.9 948,1045.1 948.3,1038.2 948.6,1029.1 948.9,1032.2 949.2,1030.8 949.5,1017.8 949.8,1032.9 950.1,1022.7 950.4,1036 950.7,1033.7 951,1036.8 951.3,1035.2 951.6,1033.2 951.9,1028.5 952.2,1038.6 952.5,1040.9 952.8,1033.9 953.1,1032.8 953.4,1054.3 953.7,1030.1 954,1035.9 954.3,1030.3 954.6,1027.6 954.9,1031.1 955.2,1027.2 955.5,1028.8 955.8,1033.2 956.1,1040.1 956.4,1025.2 956.7,1036.8 957,1032.2 957.3,1031.8 957.6,1046.8 957.9,1031.2 958.2,1036.3 958.5,1027 958.8,1029 959.1,1028.7 959.4,1023.9 959.7,1023.5 960,1022.2 960.3,1019.7 960.6,1025.5 960.9,1034.3 961.2,1026 961.5,1026.6 961.8,1026.1 962.1,1040.6 962.4,1029.8 962.7,1022 963,1021 963.3,1030 963.6,1022.3 963.9,1025.1 964.2,1025.8 964.5,1020.8 964.8,1023.7 965.1,1030.7 965.4,1022.6 965.7,1031.5 966,1034.3 966.3,1023.8 966.6,1027.8 966.9,1020.5 967.2,1010 967.5,1023.2 967.8,1021 968.1,1017 968.4,1015.1 968.7,1022.6 969,1017.5 969.3,1014.1 969.6,1018.4 969.9,1021.3 970.2,1014.7 970.5,1018.6 970.8,1021.3 971.1,1008 971.4,1018.6 971.7,1014.1 972,1014.6 972.3,1012.3 972.6,1016.2 972.9,1019.9 973.2,1007 973.5,1013.8 973.8,1031.3 974.1,1011.8 974.4,1007 974.7,1008.6 975,1006.5 975.3,1020.9 975.6,1010 975.9,1009.2 976.2,1013 976.5,1017.8 976.8,1017.6 977.1,1013.2 977.4,997.8 977.7,1001.5 978,992.6 978.3,1009.3 978.6,998.2 978.9,1013.4 979.2,1010.8 979.5,988.7 979.8,1008.8 980.1,1003.8 980.4,1003.1 980.7,995.8 981,998.9 981.3,997.6 981.6,1000.3 981.9,1002.1 982.2,1003.8 982.5,1006.8 982.8,1003.6 983.1,1001.1 983.4,996 983.7,1005.5 984,1003.6 984.3,969.7 984.6,1001.2 984.9,1020.3 985.2,997.5 985.5,998.3 985.8,1000.1 986.1,997.5 986.4,996.5 986.7,995.4 987,994.9 987.3,991 987.6,990.6 987.9,997.4 988.2,990.6 988.5,987.8 988.8,984.7 989.1,985 989.4,986.6 989.7,991.2 990,963.4 990.3,981.9 990.6,983.2 990.9,980.1 991.2,978.5 991.5,986.7 991.8,977 992.1,981.6 992.4,978.8 992.7,976.5 993,980.8 993.3,976.6 993.6,980.8 993.9,977.1 994.2,975 994.5,977.6 994.8,952.5 995.1,976.7 995.4,979.4 995.7,972.9 996,984 996.3,972.4 996.6,961.4 996.9,963.9 997.2,967.8 997.5,971.4 997.8,970 998.1,943.7 998.4,959.6 998.7,963.4 999,960.9 999.3,959.4 999.6,955.6 999.9,965 1000.2,956.7 1000.5,954.9 1000.8,952.1 1001.1,952.9 1001.4,957.1 1001.7,954.2 1002,956.5 1002.3,951.2 1002.6,948.4 1002.9,946.2 1003.2,950.1 1003.5,927.9 1003.8,950.7 1004.1,942.7 1004.4,942.9 1004.7,939.4 1005,944.4 1005.3,935.8 1005.6,933.1 1005.9,947.6 1006.2,940.7 1006.5,931 1006.8,932.4 1007.1,929.4 1007.4,937.4 1007.7,926 1008,934.6 1008.3,927.1 1008.6,920.2 1008.9,926.9 1009.2,915.5 1009.5,919.4 1009.8,911.6 1010.1,910 1010.4,914.8 1010.7,909.4 1011,907.8 1011.3,906.9 1011.6,904.8 1011.9,906.1 1012.2,899.8 1012.5,897.2 1012.8,890.8 1013.1,893.6 1013.4,892.4 1013.7,895.3 1014,889 1014.3,887.5 1014.6,890.5 1014.9,883.6 1015.2,881.8 1015.5,878.7 1015.8,876.5 1016.1,871.4 1016.4,867.6 1016.7,867 1017,868.8 1017.3,865.6 1017.6,862.3 1017.9,858.1 1018.2,857.1 1018.5,853.1 1018.8,851.5 1019.1,844.2 1019.4,841.4 1019.7,838 1020,837.2 1020.3,832.7 1020.6,832.3 1020.9,824.3 1021.2,824.6 1021.5,818.7 1021.8,816.5 1022.1,814.8 1022.4,808.5 1022.7,803.9 1023,800.4 1023.3,798 1023.6,792.4 1023.9,786 1024.2,784.4 1024.5,779.5 1024.8,773.4 1025.1,766.8 1025.4,762.5 1025.7,759.1 1026,755.8 1026.3,750.4 1026.6,745 1026.9,737.3 1027.2,737.7 1027.5,722.5 1027.8,724.6 1028.1,716.7 1028.4,707.4 1028.7,704 1029,699.2 1029.3,687.5 1029.6,680.6 1029.9,674.2 1030.2,665.8 1030.5,660.5 1030.8,650.2 1031.1,641.3 1031.4,633 1031.7,625.5 1032,615.3 1032.3,606 1032.6,597.9 1032.9,585.7 1033.2,575.6 1033.5,564.2 1033.8,552.6 1034.1,541.5 1034.4,528.6 1034.7,516.5 1035,501.9 1035.3,488.9 1035.6,473.3 1035.9,458.6 1036.2,442.1 1036.5,423.8 1036.8,406 1037.1,387.1 1037.4,367.2 1037.7,346.9 1038,326.4 1038.3,304.6 1038.6,283.2 1038.9,262.5 1039.2,243.1 1039.5,226.5 1039.8,214 1040.1,206.7 1040.4,205.8 1040.7,214.7 1041,234.1 1041.3,258.4 1041.6,286.9 1041.9,314.7 1042.2,343.9 1042.5,371.2 1042.8,396.7 1043.1,421.5 1043.4,446 1043.7,466.9 1044,487.6 1044.3,506.5 1044.6,524.8 1044.9,541.6 1045.2,558.5 1045.5,573.8 1045.8,587.2 1046.1,603.6 1046.4,615.8 1046.7,627.7 1047,640.2 1047.3,652 1047.6,662.7 1047.9,673.7 1048.2,683.8 1048.5,695.1 1048.8,702.4 1049.1,709.6 1049.4,720.8 1049.7,729.3 1050,734.2 1050.3,743.7 1050.6,751.4 1050.9,758.3 1051.2,766.5 1051.5,773.6 1051.8,780.8 1052.1,788.1 1052.4,794.9 1052.7,797.3 1053,803.7 1053.3,809.7 1053.6,817.8 1053.9,822.5 1054.2,823.2 1054.5,831.6 1054.8,833.2 1055.1,836.8 1055.4,843.1 1055.7,847.1 1056,855.8 1056.3,858.3 1056.6,859.9 1056.9,868.4 1057.2,865.5 1057.5,874.5 1057.8,881.1 1058.1,878 1058.4,883.1 1058.7,889.3 1059,891.4 1059.3,897.1 1059.6,894.2 1059.9,904.6 1060.2,902.2 1060.5,911.7 1060.8,908.2 1061.1,915 1061.4,915.8 1061.7,931.2 1062,920 1062.3,922.1 1062.6,926 1062.9,928.6 1063.2,932.9 1063.5,931.3 1063.8,934.1 1064.1,941.7 1064.4,936.2 1064.7,942.3 1065,944.6 1065.3,948.6 1065.6,948 1065.9,951.8 1066.2,956.4 1066.5,954.4 1066.8,957.8 1067.1,961.3 1067.4,960.1 1067.7,958.2 1068,962.9 1068.3,968.3 1068.6,965.5 1068.9,971.8 1069.2,972.6 1069.5,969.8 1069.8,974.7 1070.1,970.8 1070.4,974.9 1070.7,980.1 1071,978.1 1071.3,976 1071.6,982.2 1071.9,986.6 1072.2,986.5 1072.5,988.4 1072.8,991 1073.1,992.6 1073.4,987.9 1073.7,986.8 1074,993 1074.3,995.9 1074.6,991 1074.9,989.5 1075.2,997 1075.5,998.7 1075.8,986.2 1076.1,999.2 1076.4,999.6 1076.7,976.2 1077,1004.2 1077.3,1002.9 1077.6,1008.2 1077.9,1006.1 1078.2,1009 1078.5,1010.2 1078.8,1009.1 1079.1,1010.9 1079.4,1008.8 1079.7,1008.1 1080,1024.6 1080.3,1009.1 1080.6,1021.9 1080.9,1013.4 1081.2,1012.6 1081.5,1018.4 1081.8,1036.6 1082.1,1020.4 1082.4,1015 1082.7,1031.3 1083,1023.4 1083.3,1027.9 1083.6,1020.5 1083.9,1017.1 1084.2,1018.2 1084.5,1020.8 1084.8,1023 1085.1,1027.5 1085.4,1020.7 1085.7,1023.6 1086,1029.8 1086.3,1032.2 1086.6,1014.1 1086.9,1024.4 1087.2,1024.4 1087.5,1023.6 1087.8,1033.3 1088.1,1032.2 1088.4,1026.2 1088.7,1031.2 1089,1029.6 1089.3,1038.3 1089.6,1035.1 1089.9,1054.7 1090.2,1036.1 1090.5,1049 1090.8,1042.3 1091.1,1030.1 1091.4,1036.3 1091.7,1043.1 1092,1033.7 1092.3,1038 1092.6,1036 1092.9,1040 1093.2,1042.8 1093.5,1032 1093.8,1039.3 1094.1,1043.2 1094.4,1039.7 1094.7,1039.5 1095,1037.8 1095.3,1041.8 1095.6,1039.4 1095.9,1039.4 1096.2,1043 1096.5,1044.9 1096.8,1046.7 1097.1,1059.9 1097.4,1052.1 1097.7,1041.1 1098,1046.7 1098.3,1049.2 1098.6,1041.2 1098.9,1036.2 1099.2,1047.9 1099.5,1044.6 1099.8,1049.7 1100.1,1047.8 1100.4,1042.3 1100.7,1076.1 1101,1050.9 1101.3,1047.2 1101.6,1045.5 1101.9,1029.1 1102.2,1052.2 1102.5,1043.3 1102.8,1052 1103.1,1056.4 1103.4,1050.5 1103.7,1066.5 1104,1048.9 1104.3,1047.7 1104.6,1060.7 1104.9,1049.1 1105.2,1047.1 1105.5,1053.7 1105.8,1046.9 1106.1,1050.4 1106.4,1050.8 1106.7,1045.8 1107,1054.7 1107.3,1054.7 1107.6,1052.5 1107.9,1052.1 1108.2,1059.3 1108.5,1048.3 1108.8,1052.4 1109.1,1054.2 1109.4,1033.8 1109.7,1071.1 1110,1049 1110.3,1053.7 1110.6,1051.1 1110.9,1057.9 1111.2,1069.1 1111.5,1044.1 1111.8,1058.5 1112.1,1057.4 1112.4,1055 1112.7,1050.3 1113,1051.8 1113.3,1051.3 1113.6,1053.9 1113.9,1032.3 1114.2,1049.1 1114.5,1054.8 1114.8,1053.7 1115.1,1053.2 1115.4,1064.3 1115.7,1056.2 1116,1054.2 1116.3,1052.9 1116.6,1057.4 1116.9,1052.1 1117.2,1059 1117.5,1057.1 1117.8,1049.5 1118.1,1062.3 1118.4,1056.9 1118.7,1058.4 1119,1057.1 1119.3,1059.1 1119.6,1054.1 1119.9,1061.5 1120.2,1062.7 1120.5,1055.1 1120.8,1062.3 1121.1,1053.4 1121.4,1057.2 1121.7,1060.3 1122,1058.9 1122.3,1057.9 1122.6,1055.6 1122.9,1060.3 1123.2,1058.6 1123.5,1064 1123.8,1042.8 1124.1,1066.3 1124.4,1058.1 1124.7,1059.9 1125,1049.3 1125.3,1052.7 1125.6,1058.8 1125.9,1054.2 1126.2,1057 1126.5,1063.3 1126.8,1069.1 1127.1,1053.7 1127.4,1056.8 1127.7,1067.1 1128,1055.8 1128.3,1054.7 1128.6,1059.6 1128.9,1055.2 1129.2,1066.3 1129.5,1047.3 1129.8,1089.2 1130.1,1074.4 1130.4,1047.8 1130.7,1057.9 1131,1056.5 1131.3,1061.8 1131.6,1052.6 1131.9,1060.4 1132.2,1056.6 1132.5,1059 1132.8,1060.1 1133.1,1056.5 1133.4,1057.1 1133.7,1053.3 1134,1054.5 1134.3,1061.6 1134.6,1057 1134.9,1076.8 1135.2,1062.7 1135.5,1064.1 1135.8,1058.1 1136.1,1061.6 1136.4,1065.4 1136.7,1070.2 1137,1058.3 1137.3,1058.9 1137.6,1064.7 1137.9,1061.9 1138.2,1053.5 1138.5,1040.7 1138.8,1087.1 1139.1,1049.6 1139.4,1057.9 1139.7,1061.7 1140,1068.3 1140.3,1058.2 1140.6,1065.8 1140.9,1059.7 1141.2,1063.5 1141.5,1067.2 1141.8,1052.5 1142.1,1060.1 1142.4,1055.6 1142.7,1056.4 1143,1063 1143.3,1059.3 1143.6,1061.3 1143.9,1055.5 1144.2,1057.8 1144.5,1061.3 1144.8,1052.5 1145.1,1057.5 1145.4,1057.7 1145.7,1063.3 1146,1058 1146.3,1066.5 1146.6,1057.8 1146.9,1064 1147.2,1059 1147.5,1061.1 1147.8,1058.8 1148.1,1058.2 1148.4,1060.1 1148.7,1060.1 1149,1066.7 1149.3,1074.1 1149.6,1038 1149.9,1048.4 1150.2,1066.6 1150.5,1051.5 1150.8,1063.1 1151.1,1057.5 1151.4,1068.1 1151.7,1059.3 1152,1057 1152.3,1066.1 1152.6,1064 1152.9,1052.1 1153.2,1059.3 1153.5,1060.9 1153.8,1062.6 1154.1,1063 1154.4,1055.7 1154.7,1063.5 1155,1058 1155.3,1091.1 1155.6,1060 1155.9,1057.6 1156.2,1057.1 1156.5,1061.9 1156.8,1058 1157.1,1034.6 1157.4,1064.4 1157.7,1060.8 1158,1062.9 1158.3,1050.6 1158.6,1080 1158.9,1059.3 1159.2,1055.1 1159.5,1063.3 1159.8,1059.9 1160.1,1063.4 1160.4,1065.4 1160.7,1059.5 1161,1056.9 1161.3,1061 1161.6,1058.4 1161.9,1056.1 1162.2,1053.8 1162.5,1064.9 1162.8,1056.4 1163.1,1062.1 1163.4,1068.1 1163.7,1062.8 1164,1056.4 1164.3,1049 1164.6,1064.4 1164.9,1052.1 1165.2,1067.2 1165.5,1059.6 1165.8,1061.8 1166.1,1057.4 1166.4,1061.1 1166.7,1054.2 1167,1057.9 1167.3,1056.6 1167.6,1060.8 1167.9,1066.3 1168.2,1057 1168.5,1064.1 1168.8,1035.2 1169.1,1059.5 1169.4,1062 1169.7,1055.4 1170,1059.4 1170.3,1052.7 1170.6,1062.2 1170.9,1055.1 1171.2,1053.6 1171.5,1063.5 1171.8,1062.9 1172.1,1055.2 1172.4,1058.6 1172.7,1059.1 1173,1068.1 1173.3,1067.2 1173.6,1057 1173.9,1053 1174.2,1062.8 1174.5,1063.5 1174.8,1058.5 1175.1,1057.4 1175.4,1056.9 1175.7,1061.5 1176,1068.7 1176.3,1052.9 1176.6,1061.8 1176.9,1053.8 1177.2,1031.6 1177.5,1057.8 1177.8,1061.8 1178.1,1072.6 1178.4,1055 1178.7,1053.6 1179,1062.2 1179.3,1056.5 1179.6,1064.5 1179.9,1062.3 1180.2,1069.1 1180.5,1061.1 1180.8,1056.5 1181.1,1065.1 1181.4,1055 1181.7,1055 1182,1060.4 1182.3,1065 1182.6,1070.9 1182.9,1059.7 1183.2,1062.7 1183.5,1041.5 1183.8,1064.3 1184.1,1059.3 1184.4,1078.8 1184.7,1059.3 1185,1060.2 1185.3,1048.6 1185.6,1055.1 1185.9,1063 1186.2,1056 1186.5,1058.5 1186.8,1061.2 1187.1,1064 1187.4,1052.6 1187.7,1058.2 1188,1061.7 1188.3,1059 1188.6,1059.3 1188.9,1061.8 1189.2,1065.9 1189.5,1058.6 1189.8,1060.1 1190.1,1060.7 1190.4,1054.8 1190.7,1065.6 1191,1063.9 1191.3,1058.6 1191.6,1055.5 1191.9,1056.5 1192.2,1056 1192.5,1070 1192.8,1057.1 1193.1,1057.5 1193.4,1045.8 1193.7,1062.6 1194,1057 1194.3,1054.8 1194.6,1052.1 1194.9,1059.8 1195.2,1065.7 1195.5,1059.1 1195.8,1056.4 1196.1,1057 1196.4,1050.7 1196.7,1060.3 1197,1050.3 1197.3,1062.4 1197.6,1056.3 1197.9,1063.2 1198.2,1064.3 1198.5,1081.7 1198.8,1053.8 1199.1,1058.2 1199.4,1060.9 1199.7,1055.4 1200,1056.1 1200.3,1064 1200.6,1055.5 1200.9,1058.2 1201.2,1069.4 1201.5,1065 1201.8,1058.2 1202.1,1057.1 1202.4,1087.7 1202.7,1064.2 1203,1058.3 1203.3,1025.5 1203.6,1056.8 1203.9,1060.1 1204.2,1059.6 1204.5,1062.5 1204.8,1055.6 1205.1,1070.8 1205.4,1063.6 1205.7,1056.7 1206,1062.8 1206.3,1052.7 1206.6,1057.4 1206.9,1063.1 1207.2,1054.3 1207.5,1059.8 1207.8,1056.7 1208.1,1062.3 1208.4,1062.2 1208.7,1062.1 1209,1058.9 1209.3,1063 1209.6,1063.5 1209.9,1056.3 1210.2,1031.8 1210.5,1063.3 1210.8,1083.9 1211.1,1073.6 1211.4,1065.9 1211.7,1056.1 1212,1051.9 1212.3,1058.9 1212.6,1056.6 1212.9,1057.9 1213.2,1054.4 1213.5,1064.3 1213.8,1062 1214.1,1061.1 1214.4,1060.6 1214.7,1059 1215,1059.9 1215.3,1049.8 1215.6,1060.1 1215.9,1024.4 1216.2,1052 1216.5,1055.6 1216.8,1060.8 1217.1,1034.3 1217.4,1052.8 1217.7,1056.4 1218,1072 1218.3,1057.4 1218.6,1055.9 1218.9,1052.2 1219.2,1059.4 1219.5,1035.2 1219.8,1048 1220.1,1052 1220.4,1045.5 1220.7,1050.6 1221,1056 1221.3,1053.1 1221.6,1027.4 1221.9,1055.4 1222.2,1057.9 1222.5,1059.4 1222.8,1060.9 1223.1,1060.1 1223.4,1060.3 1223.7,1061 1224,1048.9 1224.3,1066 1224.6,1056.6 1224.9,1062.4 1225.2,1063.6 1225.5,1057.1 1225.8,1065.1 1226.1,1099.6 1226.4,1047 1226.7,1057.9 1227,1085.8 1227.3,1061.3 1227.6,1054.9 1227.9,1064.3 1228.2,1041.3 1228.5,1089.7 1228.8,1047 1229.1,1057.3 1229.4,1058.5 1229.7,1059.4 1230,1062.4 1230.3,1053 1230.6,1067.1 1230.9,1029.5 1231.2,1053 1231.5,1057.9 1231.8,1054.3 1232.1,1053.9 1232.4,1059.4 1232.7,1059.6 1233,1051.4 1233.3,1065 1233.6,1055.6 1233.9,1042.4 1234.2,1059.9 1234.5,1055.1 1234.8,1087.2 1235.1,1052.6 1235.4,1068 1235.7,1047.1 1236,1057 1236.3,1049.8 1236.6,1055.1 1236.9,1057.2 1237.2,1039.7 1237.5,1039.8 1237.8,1046.7 1238.1,1055.5 1238.4,1052.6 1238.7,1048.9 1239,1050.7 1239.3,1040.9 1239.6,1054 1239.9,1066 1240.2,1049.3 1240.5,1047.5 1240.8,1059.5 1241.1,1055 1241.4,1049.2 1241.7,1052.2 1242,1046.1 1242.3,1052.2 1242.6,1083.1 1242.9,1059.6 1243.2,1047.9 1243.5,1050.3 1243.8,1045.6 1244.1,1053.2 1244.4,1022.4 1244.7,1051.1 1245,1047.6 1245.3,1047.9 1245.6,1044.5 1245.9,1050.2 1246.2,1053.5 1246.5,1053.6 1246.8,1073.3 1247.1,1047.9 1247.4,1046.6 1247.7,1055.2 1248,1047 1248.3,1074 1248.6,1044.3 1248.9,1074.3 1249.2,1050.2 1249.5,1038.5 1249.8,1047.8 1250.1,1046.1 1250.4,1051.6 1250.7,1052.2 1251,1049.8 1251.3,1042.7 1251.6,1047.2 1251.9,1049.9 1252.2,1050.4 1252.5,1052.2 1252.8,1044.4 1253.1,1053.3 1253.4,1035.7 1253.7,1020.2 1254,1053.8 1254.3,1047.3 1254.6,1032.2 1254.9,1036.9 1255.2,1033.8 1255.5,1037.9 1255.8,1036.1 1256.1,1037.2 1256.4,1033.3 1256.7,1038.8 1257,1034 1257.3,1038.5 1257.6,1032.2 1257.9,1036 1258.2,1037.1 1258.5,1036.7 1258.8,1026.6 1259.1,1039.4 1259.4,1038.4 1259.7,1028.3 1260,1034.8 1260.3,1031.8 1260.6,1031.2 1260.9,1018.7 1261.2,1038.9 1261.5,1029.9 1261.8,1024.7 1262.1,1024.2 1262.4,1022.2 1262.7,1029.9 1263,1051.2 1263.3,1013.6 1263.6,1028.5 1263.9,1017.4 1264.2,1015.6 1264.5,1017.1 1264.8,1017.6 1265.1,1025.8 1265.4,1009.7 1265.7,1014.8 1266,1013.1 1266.3,1019.6 1266.6,1019.7 1266.9,1008.9 1267.2,1004.9 1267.5,1003.1 1267.8,1002.2 1268.1,995.3 1268.4,1017.8 1268.7,996.2 1269,995.6 1269.3,1002.9 1269.6,998.3 1269.9,985.9 1270.2,979.3 1270.5,992.9 1270.8,993.2 1271.1,987.5 1271.4,993.8 1271.7,972 1272,978.1 1272.3,981 1272.6,977.9 1272.9,968.7 1273.2,969.3 1273.5,966.7 1273.8,962.5 1274.1,965.2 1274.4,961.9 1274.7,964.8 1275,952.3 1275.3,938.9 1275.6,948.6 1275.9,945.9 1276.2,940 1276.5,936.5 1276.8,934.3 1277.1,936.1 1277.4,929.8 1277.7,923.3 1278,922 1278.3,913.6 1278.6,907.4 1278.9,907.7 1279.2,901.2 1279.5,897.6 1279.8,887.8 1280.1,882.8 1280.4,872.8 1280.7,873.6 1281,869.9 1281.3,860.3 1281.6,855.3 1281.9,847.5 1282.2,839.5 1282.5,834 1282.8,824.2 1283.1,822.1 1283.4,807.3 1283.7,800.4 1284,792.1 1284.3,783.1 1284.6,769.9 1284.9,763 1285.2,753.5 1285.5,741.1 1285.8,728.6 1286.1,716.1 1286.4,701.3 1286.7,690.8 1287,677.4 1287.3,663.8 1287.6,649.8 1287.9,635.7 1288.2,618.2 1288.5,603.7 1288.8,591.1 1289.1,576 1289.4,560.9 1289.7,549.5 1290,539.1 1290.3,531.1 1290.6,526.1 1290.9,523 1291.2,522.8 1291.5,527.1 1291.8,533.1 1292.1,542.6 1292.4,554.6 1292.7,567 1293,580.6 1293.3,593.6 1293.6,609.9 1293.9,625.9 1294.2,639.6 1294.5,654.5 1294.8,667 1295.1,681.3 1295.4,693.4 1295.7,707.7 1296,721.3 1296.3,733.4 1296.6,743.7 1296.9,756.8 1297.2,762.4 1297.5,775.4 1297.8,786.5 1298.1,795 1298.4,803.6 1298.7,808.2 1299,820.2 1299.3,828.5 1299.6,838.8 1299.9,852.1 1300.2,849.3 1300.5,856.4 1300.8,867 1301.1,870.3 1301.4,878.6 1301.7,879.7 1302,887.8 1302.3,890.8 1302.6,896.9 1302.9,904.2 1303.2,907 1303.5,916.8 1303.8,921.3 1304.1,922.9 1304.4,930.9 1304.7,932.5 1305,936 1305.3,933 1305.6,941.6 1305.9,945.3 1306.2,952 1306.5,951.9 1306.8,953.4 1307.1,954.5 1307.4,959 1307.7,963.3 1308,963.8 1308.3,978.3 1308.6,973.2 1308.9,972.4 1309.2,971.7 1309.5,979.3 1309.8,987.1 1310.1,984.3 1310.4,988 1310.7,990.1 1311,988.8 1311.3,1014 1311.6,996.3 1311.9,992.2 1312.2,1003.9 1312.5,1003.1 1312.8,1003.1 1313.1,1005.4 1313.4,1008.8 1313.7,1016.7 1314,1015.4 1314.3,1013.6 1314.6,1015.2 1314.9,1015.5 1315.2,1017 1315.5,1017.2 1315.8,1020 1316.1,1028 1316.4,1019.7 1316.7,1018.9 1317,1019.8 1317.3,1029.7 1317.6,1025.1 1317.9,1028.5 1318.2,999.5 1318.5,1027.6 1318.8,1031.5 1319.1,1030.1 1319.4,1039.2 1319.7,1031.7 1320,997.4 1320.3,1038.8 1320.6,1037.8 1320.9,1056.7 1321.2,1019.9 1321.5,1038.2 1321.8,1026.7 1322.1,1042.7 1322.4,1047.3 1322.7,1050.9 1323,1043.5 1323.3,1044.8 1323.6,1026.5 1323.9,1030.8 1324.2,1046.6 1324.5,1051.2 1324.8,1051.3 1325.1,1040.3 1325.4,1045.8 1325.7,1051.2 1326,1059.8 1326.3,1054.9 1326.6,1043.6 1326.9,1037.7 1327.2,1068.2 1327.5,1054.5 1327.8,1049 1328.1,1054.9 1328.4,1056.5 1328.7,1058.9 1329,1052.8 1329.3,1056 1329.6,1053.8 1329.9,1057.5 1330.2,1042.2 1330.5,1055.6 1330.8,1062.8 1331.1,1059.8 1331.4,1062.1 1331.7,1054.6 1332,1056.8 1332.3,1059.9 1332.6,1062.9 1332.9,1065.6 1333.2,1055.7 1333.5,1037 1333.8,1049.7 1334.1,1063.8 1334.4,1068.5 1334.7,1066.7 1335,1081.1 1335.3,1071 1335.6,1058.2 1335.9,1066.8 1336.2,1069 1336.5,1068.2 1336.8,1062.2 1337.1,1070.2 1337.4,1067.9 1337.7,1067.3 1338,1062.3 1338.3,1076.9 1338.6,1073.4 1338.9,1070.3 1339.2,1065.8 1339.5,1073.4 1339.8,1068.4 1340.1,1073.3 1340.4,1073 1340.7,1065.6 1341,1072.8 1341.3,1058.7 1341.6,1070.6 1341.9,1067.3 1342.2,1069.3 1342.5,1080.6 1342.8,1076.8 1343.1,1071.2 1343.4,1079.1 1343.7,1076.6 1344,1075.8 1344.3,1078.8 1344.6,1069.1 1344.9,1071.2 1345.2,1074.2 1345.5,1072.6 1345.8,1079.8 1346.1,1071.5 1346.4,1079.9 1346.7,1068.7 1347,1079.4 1347.3,1075.9 1347.6,1071 1347.9,1073.6 1348.2,1081.4 1348.5,1074.1 1348.8,1077 1349.1,1077.1 1349.4,1074.3 1349.7,1074.4 1350,1072.7 1350.3,1075.2 1350.6,1076.1 1350.9,1078.1 1351.2,1070.7 1351.5,1081.5 1351.8,1068.9 1352.1,1067.7 1352.4,1067.8 1352.7,1078.4 1353,1068 1353.3,1072.3 1353.6,1072.6 1353.9,1062.7 1354.2,1076.5 1354.5,1074.6 1354.8,1083.2 1355.1,1087.8 1355.4,1075.3 1355.7,1074.4 1356,1072.8 1356.3,1074.3 1356.6,1085.1 1356.9,1073.2 1357.2,1069.3 1357.5,1066.7 1357.8,1077.8 1358.1,1076.8 1358.4,1077.5 1358.7,1073.9 1359,1059.3 1359.3,1072 1359.6,1060.5 1359.9,1071 1360.2,1073.2 1360.5,1064 1360.8,1063 1361.1,1055.4 1361.4,1059.1 1361.7,1053.6 1362,1053.2 1362.3,1050 1362.6,1040.1 1362.9,1036.4 1363.2,1024.6 1363.5,1024.4 1363.8,1022.7 1364.1,1006.9 1364.4,1004.7 1364.7,994.1 1365,998.1 1365.3,986.4 1365.6,988.1 1365.9,978.9 1366.2,975.6 1366.5,972.6 1366.8,978.9 1367.1,991.6 1367.4,996.2 1367.7,1009.6 1368,1001.1 1368.3,1015.9 1368.6,1015.8 1368.9,1027.4 1369.2,1038.4 1369.5,1034.9 1369.8,1049.9 1370.1,1048.8 1370.4,1053.7 1370.7,1053.1 1371,1055.8 1371.3,1064.6 1371.6,1068.7 1371.9,1067.9 1372.2,1072.5 1372.5,1067.5 1372.8,1071.8 1373.1,1068.8 1373.4,1064.8 1373.7,1082 1374,1081.9 1374.3,1077.9 1374.6,1079.3 1374.9,1083.8 1375.2,1077.8 1375.5,1072.2 1375.8,1084.2 1376.1,1091 1376.4,1098 1376.7,1080 1377,1085.6 1377.3,1087.7 1377.6,1093.4 1377.9,1089.2 1378.2,1091.1 1378.5,1102.4 1378.8,1077.5 1379.1,1103.6 1379.4,1092.5 1379.7,1086.5 1380,1094.5 1380.3,1080.4 1380.6,1090.3 1380.9,1099.2 1381.2,1088.5 1381.5,1090.6 1381.8,1090.8 1382.1,1094.3 1382.4,1094.7 1382.7,1093.1 1383,1095.4 1383.3,1101.8 1383.6,1099.9 1383.9,1095 1384.2,1103.4 1384.5,1109.9 1384.8,1097.3 1385.1,1092.3 1385.4,1095.3 1385.7,1065.4 1386,1097.9 1386.3,1094.5 1386.6,1092.2 1386.9,1102.4 1387.2,1105 1387.5,1106.8 1387.8,1109.5 1388.1,1101.6 1388.4,1093.7 1388.7,1093.1 1389,1086.6 1389.3,1097.9 1389.6,1097.6 1389.9,1101.5 1390.2,1100.5 1390.5,1097.4 1390.8,1094.5 1391.1,1097 1391.4,1109.8 1391.7,1096.9 1392,1099.5 1392.3,1102.6 1392.6,1082.7 1392.9,1109.7 1393.2,1097.6 1393.5,1106.3 1393.8,1084.4 1394.1,1103.6 1394.4,1098.2 1394.7,1094.4 1395,1105.1 1395.3,1098.1 1395.6,1105.3 1395.9,1102.4 1396.2,1101 1396.5,1092.6 1396.8,1108.4 1397.1,1098.8 1397.4,1101.3 1397.7,1111.9 1398,1093.2 1398.3,1104.7 1398.6,1103.2 1398.9,1100.8 1399.2,1106.7 1399.5,1095.1 1399.8,1102.4 1400.1,1063.8 1400.4,1075.6 1400.7,1096.2 1401,1107.7 1401.3,1110.8 1401.6,1103.3 1401.9,1119.6 1402.2,1099.5 1402.5,1097.9 1402.8,1115.4 1403.1,1098.7 1403.4,1099.6 1403.7,1095.8 1404,1108.2 1404.3,1100.6 1404.6,1098.4 1404.9,1083.1 1405.2,1098.4 1405.5,1096.6 1405.8,1100.8 1406.1,1101.1 1406.4,1100.2 1406.7,1105.3 1407,1111.5 1407.3,1108.8 1407.6,1105.1 1407.9,1080.4 1408.2,1099.2 1408.5,1089.3 1408.8,1105 1409.1,1099.7 1409.4,1102.6 1409.7,1099.7 1410,1097.3 1410.3,1113.7 1410.6,1103.2 1410.9,1107 1411.2,1106.8 1411.5,1096.7 1411.8,1090.6 1412.1,1109.5 1412.4,1098.4 1412.7,1108.6 1413,1101.4 1413.3,1114.5 1413.6,1107.1 1413.9,1107 1414.2,1107.3 1414.5,1113.9 1414.8,1115.6 1415.1,1111.5 1415.4,1091.5 1415.7,1091.9 1416,1107.7 1416.3,1113.8 1416.6,1107.5 1416.9,1109 1417.2,1109.9 1417.5,1105.4 1417.8,1106.2 1418.1,1133.7 1418.4,1107.8 1418.7,1110.8 1419,1107.6 1419.3,1108.2 1419.6,1115.2 1419.9,1108.5 1420.2,1115.5 1420.5,1100 1420.8,1111.2 1421.1,1110.3 1421.4,1103.6 1421.7,1108.7 1422,1104.6 1422.3,1115.2 1422.6,1106.7 1422.9,1101.1 1423.2,1111 1423.5,1103.5 1423.8,1107.3 1424.1,1107.3 1424.4,1113.5 1424.7,1112.6 1425,1111.3 1425.3,1112.2 1425.6,1102.6 1425.9,1115.9 1426.2,1109.9 1426.5,1109.7 1426.8,1097.2 1427.1,1109.3 1427.4,1111.1 1427.7,1104.7 1428,1104.7 1428.3,1112.7 1428.6,1117.3 1428.9,1098.8 1429.2,1108.9 1429.5,1110.9 1429.8,1115.6 1430.1,1109.6 1430.4,1108.5 1430.7,1112.7 1431,1103.1 1431.3,1110.8 1431.6,1108.7 1431.9,1107.8 1432.2,1102.6 1432.5,1111.2 1432.8,1109 1433.1,1090.2 1433.4,1106.4 1433.7,1119.1 1434,1103.9 1434.3,1126.2 1434.6,1113.4 1434.9,1085.8 1435.2,1119.8 1435.5,1113.8 1435.8,1108.9 1436.1,1104.5 1436.4,1110.4 1436.7,1108.1 1437,1111.6 1437.3,1105.9 1437.6,1112.2 1437.9,1115.8 1438.2,1112 1438.5,1115.3 1438.8,1115.5 1439.1,1113.8 1439.4,1090 1439.7,1095.3 1440,1111.7 1440.3,1070.7 1440.6,1108.1 1440.9,1108.3 1441.2,1113.5 1441.5,1101.5 1441.8,1106.5 1442.1,1106.2 1442.4,1110.6 1442.7,1110.3 1443,1129.5 1443.3,1118.2 1443.6,1115.1 1443.9,1110.6 1444.2,1118.6 1444.5,1121.7 1444.8,1107 1445.1,1113.3 1445.4,1109.5 1445.7,1103.7 1446,1111.4 1446.3,1115.1 1446.6,1116 1446.9,1110.1 1447.2,1114.2 1447.5,1099.8 1447.8,1099.4 1448.1,1104.6 1448.4,1097.5 1448.7,1117.6 1449,1088.3 1449.3,1122 1449.6,1113.7 1449.9,1105.5 1450.2,1115 1450.5,1107.4 1450.8,1114.1 1451.1,1108.2 1451.4,1117.3 1451.7,1111.5 1452,1119.2 1452.3,1072 1452.6,1108.7 1452.9,1111.9 1453.2,1121.6 1453.5,1111.7 1453.8,1110.6 1454.1,1111.1 1454.4,1110 1454.7,1112.3 1455,1115 1455.3,1114 1455.6,1114.3 1455.9,1106.3 1456.2,1111.3 1456.5,1102.4 1456.8,1113 1457.1,1117.4 1457.4,1115.4 1457.7,1111.7 1458,1114.5 1458.3,1116.7 1458.6,1111.5 1458.9,1104.4 1459.2,1116.8 1459.5,1115.7 1459.8,1112.6 1460.1,1111.1 1460.4,1106 1460.7,1094.3 1461,1113.2 1461.3,1135.4 1461.6,1117.1 1461.9,1115.1 1462.2,1123.4 1462.5,1110.4 1462.8,1107.5 1463.1,1077.7 1463.4,1116.5 1463.7,1106.2 1464,1114 1464.3,1105.5 1464.6,1128.6 1464.9,1113.8 1465.2,1118.3 1465.5,1115.8 1465.8,1109 1466.1,1107.7 1466.4,1114 1466.7,1108.4 1467,1119.1 1467.3,1111.8 1467.6,1114 1467.9,1122.3 1468.2,1114.7 1468.5,1116.8 1468.8,1111.1 1469.1,1117.4 1469.4,1112.5 1469.7,1113.7 1470,1113.5 1470.3,1116 1470.6,1110.4 1470.9,1088.5 1471.2,1115.7 1471.5,1113.3 1471.8,1114 1472.1,1125.4 1472.4,1148.7 1472.7,1120.9 1473,1116.3 1473.3,1114.3 1473.6,1118.6 1473.9,1120.8 1474.2,1108 1474.5,1136.4 1474.8,1084.5 1475.1,1121 1475.4,1117.2 1475.7,1106 1476,1111.5 1476.3,1122.3 1476.6,1096.3 1476.9,1112.8 1477.2,1096.9 1477.5,1105.5 1477.8,1111.1 1478.1,1140.7 1478.4,1119.5 1478.7,1116.7 1479,1115.8 1479.3,1106.2 1479.6,1130.1 1479.9,1118.4 1480.2,1119.7 1480.5,1096.6 1480.8,1091.6 1481.1,1124.2 1481.4,1125.5 1481.7,1112.8 1482,1123.2 1482.3,1108.8 1482.6,1109 1482.9,1097.3 1483.2,1116.3 1483.5,1114.5 1483.8,1108.7 1484.1,1121.2 1484.4,1116.4 1484.7,1114.9 1485,1113.3 1485.3,1124.9 1485.6,1113.5 1485.9,1088.8 1486.2,1116.2 1486.5,1117.3 1486.8,1109.6 1487.1,1107 1487.4,1117.4 1487.7,1115.9 1488,1123.6 1488.3,1123.3 1488.6,1077.1 1488.9,1120.6 1489.2,1113.2 1489.5,1115.7 1489.8,1114.6 1490.1,1111.7 1490.4,1116.5 1490.7,1125.8 1491,1116.3 1491.3,1146.9 1491.6,1115.1 1491.9,1118.1 1492.2,1096.5 1492.5,1107.2 1492.8,1113.3 1493.1,1109.4 1493.4,1112 1493.7,1122.3 1494,1117.7 1494.3,1116.6 1494.6,1121.2 1494.9,1102.9 1495.2,1117.6 1495.5,1115.1 1495.8,1103.8 1496.1,1134.6 1496.4,1138 1496.7,1106.4 1497,1112.8 1497.3,1116.9 1497.6,1112.1 1497.9,1113 1498.2,1119.3 1498.5,1119.3 1498.8,1119.1 1499.1,1114.9 1499.4,1125.8 1499.7,1117.1 1500,1114.7 1500.3,1115.3 1500.6,1076.1 1500.9,1128.9 1501.2,1117.3 1501.5,1118.2 1501.8,1104.8 1502.1,1126.1 1502.4,1118.8 1502.7,1111.2 1503,1125.5 1503.3,1120 1503.6,1119.7 1503.9,1107.3 1504.2,1109.1 1504.5,1112.1 1504.8,1118.8 1505.1,1115.3 1505.4,1121.6 1505.7,1123.5 1506,1117.9 1506.3,1122.9 1506.6,1092.3 1506.9,1114.8 1507.2,1113.3 1507.5,1107.5 1507.8,1109.1 1508.1,1179.5 1508.4,1119.5 1508.7,1106.7 1509,1115.7 1509.3,1117.5 1509.6,1089.9 1509.9,1119.5 1510.2,1118.5 1510.5,1117.1 1510.8,1123.2 1511.1,1116.3 1511.4,1122.6 1511.7,1109.9 1512,1107.1 1512.3,1119.8 1512.6,1117.6 1512.9,1098.3 1513.2,1125 1513.5,1118.2 1513.8,1106.5 1514.1,1108.9 1514.4,1117.8 1514.7,1105.6 1515,1108.7 1515.3,1110.9 1515.6,1119.3 1515.9,1122.5 1516.2,1107.3 1516.5,1104 1516.8,1103.2 1517.1,1117.6 1517.4,1112.4 1517.7,1116.4 1518,1117.4 1518.3,1116.4 1518.6,1111.9 1518.9,1122.2 1519.2,1119 1519.5,1110.4 1519.8,1119.6 1520.1,1114.6 1520.4,1123.1 1520.7,1116.8 1521,1109.8 1521.3,1115.2 1521.6,1114.5 1521.9,1117.8 1522.2,1135.2 1522.5,1086.6 1522.8,1124.8 1523.1,1113.4 1523.4,1125.5 1523.7,1108.7 1524,1111 1524.3,1122.2 1524.6,1127.9 1524.9,1129.3 1525.2,1113.8 1525.5,1116 1525.8,1108.3 1526.1,1097.8 1526.4,1107.2 1526.7,1110.7 1527,1120.6 1527.3,1116.3 1527.6,1119.9 1527.9,1117 1528.2,1118.1 1528.5,1116.5 1528.8,1108 1529.1,1118.2 1529.4,1121.8 1529.7,1118.6 1530,1117.7 1530.3,1118.3 1530.6,1115.9 1530.9,1117.3 1531.2,1135.7 1531.5,1110 1531.8,1119.1 1532.1,1109.6 1532.4,1107.4 1532.7,1109.1 1533,1119.4 1533.3,1102.4 1533.6,1115.1 1533.9,1112.8 1534.2,1120.5 1534.5,1095.4 1534.8,1098.5 1535.1,1111.6 1535.4,1117.8 1535.7,1113.6 1536,1127.5 1536.3,1121.7 1536.6,1128.5 1536.9,1109 1537.2,1117.5 1537.5,1123 1537.8,1108.1 1538.1,1116.8 1538.4,1115 1538.7,1108.2 1539,1111.3 1539.3,1112.2 1539.6,1110.3 1539.9,1124.9 1540.2,1106.8 1540.5,1106.6 1540.8,1103.9 1541.1,1125.6 1541.4,1105 1541.7,1116.6 1542,1104.4 1542.3,1110.3 1542.6,1079.1 1542.9,1110.8 1543.2,1116.8 1543.5,1109.4 1543.8,1116.3 1544.1,1105.6 1544.4,1096.4 1544.7,1123.2 1545,1092.4 1545.3,1105.6 1545.6,1100.1 1545.9,1106.1 1546.2,1107.5 1546.5,1123 1546.8,1114.8 1547.1,1114.8 1547.4,1111.9 1547.7,1117.8 1548,1108.2 1548.3,1105.7 1548.6,1111.9 1548.9,1114 1549.2,1111.3 1549.5,1110.2 1549.8,1102.6 1550.1,1121.8 1550.4,1104.4 1550.7,1129.4 1551,1113.1 1551.3,1108.3 1551.6,1116 1551.9,1107.2 1552.2,1100.5 1552.5,1109.5 1552.8,1110.7 1553.1,1114.5 1553.4,1103.7 1553.7,1105.6 1554,1120.4 1554.3,1106.4 1554.6,1115.4 1554.9,1118.3 1555.2,1112 1555.5,1103.6 1555.8,1105.2 1556.1,1118.7 1556.4,1118.8 1556.7,1116.8 1557,1112.1 1557.3,1108 1557.6,1117.4 1557.9,1115.3 1558.2,1120.2 1558.5,1106.4 1558.8,1116.9 1559.1,1111.7 1559.4,1100.6 1559.7,1116.2 1560,1110.1 1560.3,1108.5 1560.6,1113.9 1560.9,1112.9 1561.2,1107.1 1561.5,1112.2 1561.8,1142.1 1562.1,1132.6 1562.4,1103.7 1562.7,1111.9 1563,1108.2 1563.3,1109.2 1563.6,1106.3 1563.9,1111.3 1564.2,1082.6 1564.5,1114 1564.8,1108.7 1565.1,1109.2 1565.4,1111.4 1565.7,1108.7 1566,1097.2 1566.3,1105.5 1566.6,1120.4 1566.9,1102.6 1567.2,1108.9 1567.5,1115.4 1567.8,1102.2 1568.1,1109.9 1568.4,1103.8 1568.7,1112.9 1569,1103.5 1569.3,1110.9 1569.6,1120.8 1569.9,1104.6 1570.2,1115.7 1570.5,1113.6 1570.8,1106.4 1571.1,1109.3 1571.4,1119.3 1571.7,1107.3 1572,1110.6 1572.3,1102.2 1572.6,1114.8 1572.9,1103.2 1573.2,1125.4 1573.5,1094.9 1573.8,1114.3 1574.1,1103.1 1574.4,1077.7 1574.7,1090.6 1575,1131.3 1575.3,1104.8 1575.6,1102.4 1575.9,1117.5 1576.2,1112.7 1576.5,1124.7 1576.8,1112.8 1577.1,1100.6 1577.4,1098.7 1577.7,1108.5 1578,1107.5 1578.3,1107.5 1578.6,1109.2 1578.9,1107.7 1579.2,1108.7 1579.5,1105 1579.8,1109.2 1580.1,1110.2 1580.4,1108.9 1580.7,1110.6 1581,1107.5 1581.3,1104 1581.6,1095.7 1581.9,1116.4 1582.2,1114.8 1582.5,1105.5 1582.8,1106.5 1583.1,1106.9 1583.4,1096.3 1583.7,1117.2 1584,1107.3 1584.3,1113.8 1584.6,1108 1584.9,1109 1585.2,1114.6 1585.5,1100.4 1585.8,1110.9 1586.1,1112 1586.4,1115.6 1586.7,1109.9 1587,1110 1587.3,1101.1 1587.6,1114.8 1587.9,1104.3 1588.2,1100.8 1588.5,1106.9 1588.8,1101 1589.1,1109.3 1589.4,1102.9 1589.7,1107 1590,1093.3 1590.3,1106.6 1590.6,1106.6 1590.9,1102.6 1591.2,1107.8 1591.5,1105.8 1591.8,1102.7 1592.1,1099.6 1592.4,1107.9 1592.7,1104 1593,1105.3 1593.3,1100.3 1593.6,1099.6 1593.9,1101.8 1594.2,1102.5 1594.5,1094.1 1594.8,1108.9 1595.1,1094.7 1595.4,1100.7 1595.7,1075.5 1596,1102.8 1596.3,1124.3 1596.6,1104.1 1596.9,1115.4 1597.2,1099.1 1597.5,1107.7 1597.8,1093.9 1598.1,1107.1 1598.4,1102.5 1598.7,1114 1599,1103.4 1599.3,1102.3 1599.6,1099.6 1599.9,1088.9 1600.2,1106.6 1600.5,1097.8 1600.8,1103.9 1601.1,1103.6 1601.4,1103.6 1601.7,1106.6 1602,1106.8 1602.3,1101.7 1602.6,1098.3 1602.9,1102.5 1603.2,1097.2 1603.5,1091.2 1603.8,1100.3 1604.1,1095.4 1604.4,1087.9 1604.7,1101.1 1605,1102.3 1605.3,1097.1 1605.6,1098.1 1605.9,1103.5 1606.2,1135.1 1606.5,1098.6 1606.8,1102.2 1607.1,1099.2 1607.4,1092.3 1607.7,1103.8 1608,1092.4 1608.3,1094.4 1608.6,1097.2 1608.9,1095.5 1609.2,1102.5 1609.5,1093.7 1609.8,1105.8 1610.1,1103.8 1610.4,1094.1 1610.7,1103.3 1611,1085.9 1611.3,1094.7 1611.6,1091.4 1611.9,1090.9 1612.2,1098.3 1612.5,1095.7 1612.8,1093 1613.1,1095.4 1613.4,1086.6 1613.7,1089.3 1614,1093.6 1614.3,1087.7 1614.6,1096.2 1614.9,1089.9 1615.2,1093.1 1615.5,1095.3 1615.8,1098.9 1616.1,1061.2 1616.4,1092.8 1616.7,1090.5 1617,1105.1 1617.3,1094.8 1617.6,1089 1617.9,1092.9 1618.2,1098 1618.5,1097.2 1618.8,1082.1 1619.1,1100.1 1619.4,1092.5 1619.7,1085.8 1620,1101.6 1620.3,1086.1 1620.6,1098.4 1620.9,1083.6 1621.2,1074.7 1621.5,1095.5 1621.8,1088.4 1622.1,1085.7 1622.4,1090.5 1622.7,1081.9 1623,1090.5 1623.3,1109.6 1623.6,1084.5 1623.9,1085.5 1624.2,1082.2 1624.5,1079 1624.8,1084.4 1625.1,1099.6 1625.4,1085.3 1625.7,1084.9 1626,1083.6 1626.3,1077.8 1626.6,1081 1626.9,1079.1 1627.2,1078.6 1627.5,1078.7 1627.8,1080 1628.1,1072.8 1628.4,1076.3 1628.7,1075.6 1629,1080.2 1629.3,1076.9 1629.6,1075.4 1629.9,1068.2 1630.2,1065 1630.5,1085.9 1630.8,1067.1 1631.1,1070.3 1631.4,1055.9 1631.7,1061.2 1632,1061.3 1632.3,1071.3 1632.6,1062.7 1632.9,1062.2 1633.2,1056 1633.5,1056.9 1633.8,1049.4 1634.1,1052.1 1634.4,1048.5 1634.7,1038.8 1635,1043.3 1635.3,1041.7 1635.6,1036.2 1635.9,1039.4 1636.2,1037.4 1636.5,1026.4 1636.8,1025.1 1637.1,1024.8 1637.4,1010 1637.7,1006.4 1638,1003.4 1638.3,1001.3 1638.6,994.3 1638.9,998.1 1639.2,984.5 1639.5,980.1 1639.8,966.4 1640.1,960 1640.4,956.5 1640.7,942.4 1641,937.5 1641.3,922.3 1641.6,916.5 1641.9,912.5 1642.2,906 1642.5,900.1 1642.8,894.3 1643.1,886.5 1643.4,876.8 1643.7,879.4 1644,879.8 1644.3,883.5 1644.6,892.6 1644.9,883.8 1645.2,894.8 1645.5,897 1645.8,910.1 1646.1,918.5 1646.4,921.6 1646.7,939.4 1647,937.6 1647.3,944.6 1647.6,958.1 1647.9,963.4 1648.2,970.3 1648.5,972.6 1648.8,980.4 1649.1,988.8 1649.4,996.1 1649.7,1004.5 1650,1004.5 1650.3,1021.6 1650.6,1010 1650.9,1018.3 1651.2,1012 1651.5,1022.9 1651.8,1033 1652.1,1034 1652.4,1043.4 1652.7,1041 1653,1039 1653.3,1042.6 1653.6,1042.9 1653.9,1050 1654.2,1045.5 1654.5,1057.7 1654.8,1054.7 1655.1,1067.5 1655.4,1056.4 1655.7,1066.8 1656,1058.5 1656.3,1055.8 1656.6,1053.3 1656.9,1067.3 1657.2,1063.3 1657.5,1073.7 1657.8,1054.6 1658.1,1058.1 1658.4,1063.2 1658.7,1057.2 1659,1062.6 1659.3,1071.2 1659.6,1064.6 1659.9,1062.9 1660.2,1065.3 1660.5,1070.6 1660.8,1072.8 1661.1,1058.8 1661.4,1070.2 1661.7,1069.2 1662,1080.4 1662.3,1069.3 1662.6,1072 1662.9,1078.5 1663.2,1067.1 1663.5,1074.4 1663.8,1071.2 1664.1,1072.5 1664.4,1079.2 1664.7,1074 1665,1068.4 1665.3,1082.3 1665.6,1082.2 1665.9,1081.7 1666.2,1072.7 1666.5,1079.5 1666.8,1075.5 1667.1,1071.1 1667.4,1083.9 1667.7,1060.2 1668,1077.6 1668.3,1078.9 1668.6,1069.7 1668.9,1075.5 1669.2,1085.7 1669.5,1078.6 1669.8,1082.7 1670.1,1076.9 1670.4,1081.1 1670.7,1080.5 1671,1073.3 1671.3,1088.5 1671.6,1077.1 1671.9,1080 1672.2,1076.9 1672.5,1092.8 1672.8,1084.3 1673.1,1081.2 1673.4,1069.8 1673.7,1086.1 1674,1086.3 1674.3,1080 1674.6,1077.1 1674.9,1063.1 1675.2,1078.4 1675.5,1088.5 1675.8,1069.6 1676.1,1104.2 1676.4,1078.1 1676.7,1064.3 1677,1082 1677.3,1086 1677.6,1084.5 1677.9,1069.6 1678.2,1079.8 1678.5,1083.2 1678.8,1078.9 1679.1,1078.9 1679.4,1073 1679.7,1074.5 1680,1061.7 1680.3,1075.7 1680.6,1083.1 1680.9,1070.3 1681.2,1076 1681.5,1075.3 1681.8,1098.7 1682.1,1076.5 1682.4,1074.6 1682.7,1084.7 1683,1080 1683.3,1083 1683.6,1088.9 1683.9,1074.8 1684.2,1110.9 1684.5,1075.4 1684.8,1074.1 1685.1,1082.8 1685.4,1054.4 1685.7,1075.7 1686,1071.8 1686.3,1068 1686.6,1080 1686.9,1089.6 1687.2,1076.1 1687.5,1070.8 1687.8,1070.6 1688.1,1051.4 1688.4,1064.8 1688.7,1079.3 1689,1073.9 1689.3,1084.4 1689.6,1069.6 1689.9,1074.4 1690.2,1086.9 1690.5,1071.7 1690.8,1079.3 1691.1,1074.5 1691.4,1070.2 1691.7,1079.1 1692,1068.5 1692.3,1062.9 1692.6,1072.1 1692.9,1065.6 1693.2,1074.8 1693.5,1076.7 1693.8,1070.2 1694.1,1074.8 1694.4,1063.3 1694.7,1071.1 1695,1071.5 1695.3,1076.8 1695.6,1079.9 1695.9,1075.1 1696.2,1073.4 1696.5,1071.7 1696.8,1073.2 1697.1,1075.8 1697.4,1073.8 1697.7,1073.9 1698,1079.7 1698.3,1078.9 1698.6,1070.9 1698.9,1069.5 1699.2,1074.8 1699.5,1074.2 1699.8,1070.2 1700.1,1074 1700.4,1056.2 1700.7,1072.4 1701,1076.1 1701.3,1083.8 1701.6,1071.8 1701.9,1067.1 1702.2,1073.2 1702.5,1065.8 1702.8,1076.2 1703.1,1073.2 1703.4,1073.7 1703.7,1076.9 1704,1081.2 1704.3,1078 1704.6,1083.7 1704.9,1068 1705.2,1073.2 1705.5,1072.8 1705.8,1094 1706.1,1066.7 1706.4,1076.9 1706.7,1068.6 1707,1065.8 1707.3,1075.8 1707.6,1072.9 1707.9,1068.1 1708.2,1064.6 1708.5,1076.1 1708.8,1074.3 1709.1,1057.7 1709.4,1066.2 1709.7,1066.2 1710,1060.5 1710.3,1068.6 1710.6,1073.7 1710.9,1065.9 1711.2,1066.1 1711.5,1073.2 1711.8,1090.7 1712.1,1082.5 1712.4,1089.6 1712.7,1070.7 1713,1077.9 1713.3,1073.6 1713.6,1075.2 1713.9,1069.6 1714.2,1077.6 1714.5,1071.7 1714.8,1062.5 1715.1,1062.2 1715.4,1059.5 1715.7,1067.5 1716,1072.2 1716.3,1067.9 1716.6,1065.7 1716.9,1068 1717.2,1061.5 1717.5,1073.3 1717.8,1070.6 1718.1,1078.3 1718.4,1071.7 1718.7,1062.3 1719,1068.8 1719.3,1064.8 1719.6,1066.5 1719.9,1063.5 1720.2,1073.7 1720.5,1065.7 1720.8,1064.8 1721.1,1062.1 1721.4,1060.8 1721.7,1071.3 1722,1076.8 1722.3,1072 1722.6,1060.9 1722.9,1073.9 1723.2,1078.3 1723.5,1075.7 1723.8,1075.6 1724.1,1063.8 1724.4,1072.2 1724.7,1071.3 1725,1061.2 1725.3,1062.3 1725.6,1062.5 1725.9,1071.8 1726.2,1077.3 1726.5,1065.1 1726.8,1057.3 1727.1,1069 1727.4,1068.4 1727.7,1086.6 1728,1057 1728.3,1067.6 1728.6,1076.7 1728.9,1068.2 1729.2,1069.6 1729.5,1062.5 1729.8,1054.1 1730.1,1070.5 1730.4,1064.8 1730.7,1067.8 1731,1069.4 1731.3,1062.8 1731.6,1056.7 1731.9,1062.7 1732.2,1067.5 1732.5,1062 1732.8,1063.5 1733.1,1060.2 1733.4,1067.8 1733.7,1079.5 1734,1055.3 1734.3,1064.2 1734.6,1058.7 1734.9,1064.1 1735.2,1063.6 1735.5,1068.1 1735.8,1048.3 1736.1,1056.9 1736.4,1056.9 1736.7,1056.9 1737,1069.2 1737.3,1067.6 1737.6,1064.1 1737.9,1072.8 1738.2,1068.1 1738.5,1058 1738.8,1075.3 1739.1,1040.8 1739.4,1062.9 1739.7,1062.8 1740,1069.8 1740.3,1066.4 1740.6,1056.8 1740.9,1075.9 1741.2,1059.3 1741.5,1070.4 1741.8,1065.6 1742.1,1061.7 1742.4,1052.3 1742.7,1066.4 1743,1069.4 1743.3,1055.4 1743.6,1061.2 1743.9,1060.5 1744.2,1057.3 1744.5,1054.7 1744.8,1059.3 1745.1,1072.7 1745.4,1061.2 1745.7,1059.8 1746,1066.6 1746.3,1065.8 1746.6,1056.1 1746.9,1058.3 1747.2,1064.8 1747.5,1056.3 1747.8,1058.6 1748.1,1066.9 1748.4,1060.8 1748.7,1066.8 1749,1064.1 1749.3,1057.3 1749.6,1066 1749.9,1066.1 1750.2,1056.6 1750.5,1064.5 1750.8,1060.1 1751.1,1059.9 1751.4,1059.3 1751.7,1056.2 1752,1060.7 1752.3,1062.6 1752.6,1051.9 1752.9,1051.5 1753.2,1052.7 1753.5,1058.1 1753.8,1050.9 1754.1,1053.6 1754.4,1063.7 1754.7,1049.1 1755,1042.2 1755.3,1055.2 1755.6,1066.6 1755.9,1048.8 1756.2,1053.5 1756.5,1074.6 1756.8,1068.7 1757.1,1051.3 1757.4,1058.3 1757.7,1058.2 1758,1058.8 1758.3,1050.9 1758.6,1058.5 1758.9,1053.6 1759.2,1067.2 1759.5,1061.5 1759.8,1055.8 1760.1,1060.8 1760.4,1055.3 1760.7,1055.6 1761,1054.1 1761.3,1049.3 1761.6,1051.4 1761.9,1062.7 1762.2,1056.9 1762.5,1046.1 1762.8,1056.7 1763.1,1045.8 1763.4,1052.2 1763.7,1055.3 1764,1053.3 1764.3,1050.8 1764.6,1055.4 1764.9,1059.9 1765.2,1050.5 1765.5,1049.2 1765.8,1048.3 1766.1,1061.8 1766.4,1050.6 1766.7,1052.3 1767,1053.9 1767.3,1055 1767.6,1049.6 1767.9,1052.5 1768.2,1052.2 1768.5,1041 1768.8,1051.3 1769.1,1058.2 1769.4,1056.6 1769.7,1055.6 1770,1060.4 1770.3,1045 1770.6,1040.7 1770.9,1054.2 1771.2,1045.5 1771.5,1054.6 1771.8,1054 1772.1,1060.1 1772.4,1050.2 1772.7,1042.9 1773,1042.6 1773.3,1046.4 1773.6,1050.7 1773.9,1042.4 1774.2,1039.4 1774.5,1053 1774.8,1047 1775.1,1048.6 1775.4,1051.7 1775.7,1054.6 1776,1052.4 1776.3,1046.9 1776.6,1045.9 1776.9,1046.4 1777.2,1040 1777.5,1050.7 1777.8,1053.7 1778.1,1053.1 1778.4,1044 1778.7,1049 1779,1055.2 1779.3,1040.5 1779.6,1037.8 1779.9,1044.1 1780.2,1041.4 1780.5,1052.6 1780.8,1052.5 1781.1,1043.3 1781.4,1042.9 1781.7,1044.8 1782,1045.1 1782.3,1046.8 1782.6,1035.3 1782.9,1047.6 1783.2,1043.3 1783.5,1036.7 1783.8,1047.7 1784.1,1040.9 1784.4,1042.1 1784.7,1037.9 1785,1054.9 1785.3,1042.3 1785.6,1044.7 1785.9,1034.2 1786.2,1040.1 1786.5,1042.6 1786.8,1034.4 1787.1,1035.4 1787.4,1033.1 1787.7,1032.5 1788,1033.8 1788.3,1040.7 1788.6,1035.7 1788.9,1035.3 1789.2,1034.7 1789.5,1034.4 1789.8,1035.4 1790.1,1037.8 1790.4,1035.6 1790.7,1040.2 1791,1039.4 1791.3,1030.2 1791.6,1035.4 1791.9,1032.8 1792.2,1035.8 1792.5,1041.5 1792.8,1034.2 1793.1,1023.3 1793.4,1031.8 1793.7,1034.5 1794,1026.7 1794.3,1032.5 1794.6,1032.7 1794.9,1037.5 1795,1038.2 1795.1,1026.4 1795.2,1027.7 1795.4,1028 1795.5,1024.4 1795.6,1030.3 1795.7,1027.5 1795.8,1032.1 1796,1031.8 1796.1,1031 1796.2,1021.8 1796.3,1023 1796.4,1031.8 1796.6,1027.9 1796.7,1025.4 1796.8,1030.1 1796.9,1022.1 1797,1029.5 1797.2,1026.9 1797.3,1026.7 1797.4,1034.7 1797.5,1033.9 1797.6,1028.8 1797.8,1018 1797.9,1020.8 1798,1021.2 1798.1,1026.6 1798.2,1025.5 1798.4,1022.6 1798.5,1021.2 1798.6,1030.5 1798.7,1025.9 1798.8,1025.9 1799,1015 1799.1,1024.2 1799.2,1025.4 1799.3,1037.3 1799.4,1010.9 1799.6,1015.6 1799.7,1025.2 1799.8,1010.5 1799.9,1020 1800,1018.6 1800.2,1020.3 1800.3,1019 1800.4,1018.4 1800.5,1019.9 1800.6,1011.7 1800.8,1029.6 1800.9,1023.7 1801,1019 1801.1,1017.4 1801.2,1009.3 1801.4,1013.4 1801.5,1015.9 1801.6,1019.7 1801.7,1005.6 1801.8,1010.6 1802,1002.3 1802.1,1022 1802.2,1005.5 1802.3,1014.1 1802.4,1017.7 1802.6,1012.3 1802.7,1012 1802.8,1013.9 1802.9,1019.4 1803,1013.4 1803.2,1017.8 1803.3,1010.4 1803.4,1017.5 1803.5,1009.1 1803.6,1011.9 1803.8,1004.7 1803.9,1013 1804,1015.6 1804.1,1015.4 1804.2,1006.6 1804.4,989.2 1804.5,1014.1 1804.6,1009.8 1804.7,998.9 1804.8,1002.7 1805,999.3 1805.1,1003.5 1805.2,1002.2 1805.3,1003.8 1805.4,1009.2 1805.6,1002.1 1805.7,1007.5 1805.8,999.2 1805.9,1015.6 1806,1011.7 1806.2,1001.5 1806.3,999.8 1806.4,991.1 1806.5,1003.2 1806.6,995.7 1806.8,1007.1 1806.9,986.6 1807,1010 1807.1,989.3 1807.2,997.5 1807.4,1004 1807.5,997.2 1807.6,989.6 1807.7,993.8 1807.8,996.4 1808,990.8 1808.1,990.9 1808.2,985.9 1808.3,986.1 1808.4,990.6 1808.6,991.2 1808.7,986.5 1808.8,986.5 1808.9,983.6 1809,988.6 1809.2,982.2 1809.3,985.5 1809.4,978.1 1809.5,978.3 1809.6,979.4 1809.8,984.4 1809.9,970.9 1810,978.5 1810.1,975.4 1810.2,972.3 1810.4,968.7 1810.5,971.5 1810.6,969.8 1810.7,972.3 1810.8,960 1811,964.9 1811.1,963.1 1811.2,968.4 1811.3,960 1811.4,952 1811.6,949.4 1811.7,956.1 1811.8,949.5 1811.9,945.2 1812,951.4 1812.2,944.9 1812.3,945.1 1812.4,934.6 1812.5,942.2 1812.6,938.4 1812.8,927.2 1812.9,930.6 1813,925.2 1813.1,928.3 1813.2,917 1813.4,917.1 1813.5,910.7 1813.6,916.3 1813.7,912 1813.8,911.5 1814,908.5 1814.1,905.8 1814.2,897.5 1814.3,898.2 1814.4,892 1814.6,891.1 1814.7,884.4 1814.8,879.7 1814.9,876.5 1815,873 1815.2,872.8 1815.3,866.8 1815.4,866.4 1815.5,864.7 1815.6,862.6 1815.8,851.4 1815.9,851.1 1816,843.7 1816.1,846.2 1816.2,837.3 1816.4,842.3 1816.5,834.6 1816.6,824.6 1816.7,828.2 1816.8,826.2 1817,823 1817.1,811.1 1817.2,810.2 1817.3,811.3 1817.4,807.5 1817.6,809.2 1817.7,800 1817.8,792.4 1817.9,797.4 1818,786.8 1818.2,784.6 1818.3,779.1 1818.4,780.6 1818.5,775.5 1818.6,769.9 1818.8,768.6 1818.9,765 1819,764.1 1819.1,760.7 1819.2,758.5 1819.4,754 1819.5,751.1 1819.6,748.8 1819.7,749.8 1819.8,743.3 1820,739.8 1820.1,734.6 1820.2,735.9 1820.3,732.6 1820.4,729 1820.6,724.5 1820.7,720.7 1820.8,720.8 1820.9,718.9 1821,718 1821.2,713.5 1821.3,712.5 1821.4,709.4 1821.5,707.8 1821.6,703.6 1821.8,704.2 1821.9,704.3 1822,699.7 1822.1,699.8 1822.2,695.2 1822.4,692.1 1822.5,691.9 1822.6,691.5 1822.7,691.2 1822.8,689.2 1823,683.6 1823.1,684.1 1823.2,686.4 1823.3,685.3 1823.4,682.1 1823.6,681.7 1823.7,680.9 1823.8,679.4 1823.9,681.5 1824,680.6 1824.2,677.2 1824.3,678 1824.4,678.7 1824.5,678.3 1824.6,677.1 1824.8,677.7 1824.9,679.5 1825,680.6 1825.1,677.8 1825.2,681.5 1825.4,678.7 1825.5,682.6 1825.6,682.5 1825.7,680.5 1825.8,680.8 1826,684.1 1826.1,689.8 1826.2,686.7 1826.3,691.3 1826.4,689.9 1826.6,689.1 1826.7,690.6 1826.8,693.3 1826.9,694.8 1827,695.8 1827.2,699.4 1827.3,701.2 1827.4,700.4 1827.5,703.6 1827.6,704.3 1827.8,707.9 1827.9,710.1 1828,711.5 1828.1,714 1828.2,714.5 1828.4,718.9 1828.5,723.3 1828.6,725.7 1828.7,729.3 1828.8,729.6 1829,734.1 1829.1,738 1829.2,736.8 1829.3,738 1829.4,747 1829.6,744.6 1829.7,749 1829.8,754.6 1829.9,756.9 1830,758.8 1830.2,756.6 1830.3,764 1830.4,764.2 1830.5,772.2 1830.6,771.6 1830.8,775.4 1830.9,782 1831,785 1831.1,785.8 1831.2,794.1 1831.4,793.7 1831.5,800.2 1831.6,800.2 1831.7,802.6 1831.8,805.3 1832,809.5 1832.1,814.4 1832.2,818.7 1832.3,823 1832.4,825.8 1832.6,828.8 1832.7,832.5 1832.8,834 1832.9,839.8 1833,845.9 1833.2,842.8 1833.3,850.4 1833.4,856.5 1833.5,857.7 1833.6,859.3 1833.8,862.2 1833.9,864.2 1834,867.8 1834.1,875.6 1834.2,869.6 1834.4,877.3 1834.5,882 1834.6,891.7 1834.7,888.2 1834.8,888 1835,896.9 1835.1,901.6 1835.2,903.8 1835.3,901.4 1835.4,904.7 1835.6,901.9 1835.7,912.1 1835.8,910.1 1835.9,920.2 1836,919 1836.2,916.6 1836.3,924.2 1836.4,923.5 1836.5,932.9 1836.6,933.9 1836.8,934.5 1836.9,939.1 1837,938.5 1837.1,933 1837.2,941.7 1837.4,941.6 1837.5,938.2 1837.6,946.3 1837.7,948.7 1837.8,951.9 1838,946.9 1838.1,949.3 1838.2,946.2 1838.3,947.6 1838.4,964.2 1838.6,955.8 1838.7,951.5 1838.8,960.3 1838.9,962.2 1839,969.3 1839.2,960.4 1839.3,971 1839.4,966.8 1839.5,970.2 1839.6,967.6 1839.8,972.6 1839.9,973.5 1840,967.9 1840.1,973.6 1840.2,970.2 1840.4,978.2 1840.5,969.3 1840.6,974.3 1840.7,971.9 1840.8,974.6 1841,986.3 1841.1,992 1841.2,975.3 1841.3,983.1 1841.4,983.3 1841.6,986 1841.7,985.2 1841.8,981.7 1841.9,979.5 1842,985.6 1842.2,995.4 1842.3,982.4 1842.4,984.2 1842.5,989.1 1842.6,992.9 1842.8,993.5 1842.9,981.5 1843,990.8 1843.1,982.5 1843.2,989.8 1843.4,984.8 1843.5,993.8 1843.6,995.9 1843.7,991 1843.8,999 1844,997.3 1844.1,988.7 1844.2,983.9 1844.3,990.7 1844.4,1000.1 1844.6,997.2 1844.7,991.6 1844.8,993.4 1844.9,981.7 1845,984.3 1845.2,994.9 1845.3,983.8 1845.4,998.7 1845.5,999 1845.6,987.6 1845.8,999.9 1845.9,997.7 1846,987.4 1846.1,997.4 1846.2,988.9 1846.4,992.3 1846.5,998 1846.6,993 1846.7,990.8 1846.8,992.4 1847,1000.9 1847.1,992.2 1847.2,1009.2 1847.3,998.8 1847.4,997.2 1847.6,993 1847.7,991 1847.8,1012.4 1847.9,1000.9 1848,998.9 1848.2,1000.8 1848.3,996.7 1848.4,995.5 1848.5,995.5 1848.6,1000.7 1848.8,983.9 1848.9,1005.2 1849,1000.4 1849.1,991.8 1849.2,995.5 1849.4,995.7 1849.5,993.5 1849.6,1000.7 1849.7,999.3 1849.8,994.4 1850,992.1 1850.1,1006.7 1850.2,1002.8 1850.3,1000.2 1850.4,995.8 1850.6,1006.8 1850.7,995.8 1850.8,1004 1850.9,996.9 1851,999.4 1851.2,993.4 1851.3,1006.1 1851.4,998 1851.5,1002.4 1851.6,1004.6 1851.8,996.3 1851.9,1006.1 1852,997.5 1852.1,1006.6 1852.2,1007.4 1852.4,997.9 1852.5,990.9 1852.6,999.1 1852.7,1006.4 1852.8,999.9 1853,994.1 1853.1,1005.1 1853.2,1000.6 1853.3,999 1853.4,997.7 1853.6,1007.1 1853.7,993.7 1853.8,1003.3 1853.9,1010.2 1854,1006.2 1854.2,1001.2 1854.3,1006.3 1854.4,1000.9 1854.5,1006.6 1854.6,996.8 1854.8,1001 1854.9,1003.3 1855,997 1855.1,1006.8 1855.2,1002.7 1855.4,998.9 1855.5,1000 1855.6,1001.6 1855.7,997.5 1855.8,1004.5 1856,1001.9 1856.1,1006.3 1856.2,1002.1 1856.3,1007.8 1856.4,1007.8 1856.6,1001.7 1856.7,1006.9 1856.8,997.7 1856.9,996.7 1857,995.4 1857.2,997.6 1857.3,998.7 1857.4,1009.2 1857.5,1006.9 1857.6,999.5 1857.8,1006.7 1857.9,1004.5 1858,1001.1 1858.1,999.3 1858.2,1009 1858.4,1000.6 1858.5,996.3 1858.6,998.6 1858.7,993 1858.8,1002.7 1859,993.9 1859.1,989.6 1859.2,996.4 1859.3,994.9 1859.4,994.7 1859.6,1011.1 1859.7,987.6 1859.8,994 1859.9,1005.9 1860,997.7 1860.2,996.3 1860.3,992.7 1860.4,999.5 1860.5,994.4 1860.6,998.6 1860.8,990.6 1860.9,1001.5 1861,1000.8 1861.1,996 1861.2,989.6 1861.4,996.4 1861.5,997.7 1861.6,1000.5 1861.7,992 1861.8,1000.5 1862,987.5 1862.1,998.1 1862.2,991 1862.3,1000.6 1862.4,1000.3 1862.6,994.8 1862.7,995.5 1862.8,1003 1862.9,999.7 1863,998.3 1863.2,994.6 1863.3,998.8 1863.4,986.3 1863.5,992.7 1863.6,988 1863.8,992 1863.9,992.1 1864,989.5 1864.1,994.5 1864.2,1001.8 1864.4,990.1 1864.5,995.7 1864.6,985.3 1864.7,995.8 1864.8,990.2 1865,990.5 1865.1,993.1 1865.2,991.9 1865.3,990.5 1865.4,988.4 1865.6,987.6 1865.7,988.2 1865.8,988.1 1865.9,998.9 1866,980.7 1866.2,983.5 1866.3,992.6 1866.4,990 1866.5,996.1 1866.6,999.9 1866.8,986.7 1866.9,976.1 1867,982.6 1867.1,981.7 1867.2,981.8 1867.4,978.8 1867.5,981.1 1867.6,984.3 1867.7,982.5 1867.8,975.7 1868,980.1 1868.1,986.8 1868.2,974.2 1868.3,974.9 1868.4,969 1868.6,973.8 1868.7,973.4 1868.8,973 1868.9,975.3 1869,969.4 1869.2,972.1 1869.3,973.5 1869.4,968.1 1869.5,966.1 1869.6,963.8 1869.8,961.2 1869.9,953.5 1870,963 1870.1,954.6 1870.2,959.2 1870.4,957.3 1870.5,952.9 1870.6,958.8 1870.7,953.9 1870.8,949.1 1871,956.8 1871.1,952.9 1871.2,949.1 1871.3,945.6 1871.4,940.5 1871.6,947.4 1871.7,934.5 1871.8,935.4 1871.9,933.9 1872,942.6 1872.2,931 1872.3,923.2 1872.4,925.3 1872.5,926.4 1872.6,925.5 1872.8,925.2 1872.9,920.2 1873,914.5 1873.1,921 1873.2,915.1 1873.4,910.8 1873.5,908.1 1873.6,906.6 1873.7,901.6 1873.8,899.4 1874,904.8 1874.1,890.9 1874.2,896.9 1874.3,885.1 1874.4,883.7 1874.6,889.7 1874.7,880.4 1874.8,873.5 1874.9,870.6 1875,871.7 1875.2,872 1875.3,862.7 1875.4,868.5 1875.5,865.5 1875.6,855.4 1875.8,858.6 1875.9,850.2 1876,852.2 1876.1,847.9 1876.2,839.6 1876.4,840.2 1876.5,835.2 1876.6,834.6 1876.7,832.4 1876.8,830.1 1877,827.8 1877.1,821.1 1877.2,818 1877.3,811.8 1877.4,812.6 1877.6,811.2 1877.7,806.2 1877.8,800.9 1877.9,805.6 1878,794.7 1878.2,798.2 1878.3,795.3 1878.4,784.2 1878.5,787.3 1878.6,786.3 1878.8,780.1 1878.9,776.3 1879,775.2 1879.1,771.6 1879.2,770.7 1879.4,767.7 1879.5,769 1879.6,766.1 1879.7,760.8 1879.8,761.8 1880,754.8 1880.1,754.1 1880.2,749 1880.3,747.2 1880.4,747.7 1880.6,750.4 1880.7,745.4 1880.8,740.1 1880.9,733.8 1881,735.8 1881.2,732.6 1881.3,731.8 1881.4,735.2 1881.5,726.6 1881.6,726.4 1881.8,727 1881.9,720.9 1882,720.6 1882.1,713.1 1882.2,721.5 1882.4,717.1 1882.5,713.9 1882.6,713.2 1882.7,709.8 1882.8,708 1883,707.5 1883.1,707.1 1883.2,707.3 1883.3,704.6 1883.4,702.2 1883.6,702.7 1883.7,706 1883.8,698.2 1883.9,701.5 1884,698.3 1884.2,700.3 1884.3,696.9 1884.4,699.1 1884.5,695.5 1884.6,695.6 1884.8,698.9 1884.9,703.1 1885,697.1 1885.1,699.7 1885.2,696.3 1885.4,697.7 1885.5,699.4 1885.6,700.9 1885.7,701.3 1885.8,697.6 1886,699.2 1886.1,702.2 1886.2,702 1886.3,701.9 1886.4,704.9 1886.6,709 1886.7,703.7 1886.8,708.6 1886.9,710.4 1887,710.5 1887.2,713.8 1887.3,715.5 1887.4,714.5 1887.5,717.9 1887.6,717.3 1887.8,721.4 1887.9,717.7 1888,723.9 1888.1,725 1888.2,728.2 1888.4,726.6 1888.5,730 1888.6,732.2 1888.7,731.2 1888.8,736.6 1889,738.7 1889.1,744.3 1889.2,747.5 1889.3,747.1 1889.4,748.1 1889.6,753 1889.7,755.1 1889.8,753.7 1889.9,759.1 1890,761.6 1890.2,763.6 1890.3,767.9 1890.4,765.9 1890.5,767.2 1890.6,770.7 1890.8,772.1 1890.9,783.3 1891,778.9 1891.1,784.2 1891.2,783.2 1891.4,791 1891.5,790.1 1891.6,796.8 1891.7,796.2 1891.8,800.2 1892,803.9 1892.1,804.9 1892.2,809.7 1892.3,815.3 1892.4,813.3 1892.6,813.4 1892.7,819.7 1892.8,820.8 1892.9,823.3 1893,829.6 1893.2,832.8 1893.3,838 1893.4,837.9 1893.5,840 1893.6,847.4 1893.8,848.3 1893.9,847.2 1894,855.4 1894.1,853.9 1894.2,858 1894.4,863.1 1894.5,862.1 1894.6,865.9 1894.7,870.9 1894.8,873.3 1895,875.1 1895.1,877.5 1895.2,880.5 1895.3,882.3 1895.4,889.3 1895.6,885.1 1895.7,893.3 1895.8,896.2 1895.9,893.4 1896,897.1 1896.2,910.4 1896.3,905.8 1896.4,905.4 1896.5,908.6 1896.6,919.7 1896.8,918.2 1896.9,920.9 1897,917.6 1897.1,918.9 1897.2,923.1 1897.4,926.8 1897.5,932.1 1897.6,926.5 1897.7,942.3 1897.8,932.6 1898,934.3 1898.1,937.4 1898.2,940.5 1898.3,941.7 1898.4,941.2 1898.6,948.7 1898.7,944.3 1898.8,949 1898.9,950.2 1899,964.4 1899.2,959.7 1899.3,956.1 1899.4,959.5 1899.5,953.9 1899.6,966.2 1899.8,955.1 1899.9,958.2 1900,962 1900.1,966.5 1900.2,970.8 1900.4,972.2 1900.5,970.9 1900.6,968.6 1900.7,966.4 1900.8,967.2 1901,966.4 1901.1,967.6 1901.2,977.5 1901.3,976.7 1901.4,969.9 1901.6,979.6 1901.7,971.6 1901.8,977 1901.9,984.8 1902,976.5 1902.2,978.2 1902.3,987.3 1902.4,992.8 1902.5,979.8 1902.6,979.6 1902.8,978.4 1902.9,980.9 1903,987 1903.1,992.5 1903.2,985.2 1903.4,980.3 1903.5,986 1903.6,992.2 1903.7,995 1903.8,1000.7 1904,986.3 1904.1,985.5 1904.2,999.4 1904.3,991.6 1904.4,981.9 1904.6,1000.5 1904.7,982.3 1904.8,984.2 1904.9,986 1905,988.2 1905.2,988.4 1905.3,988.1 1905.4,983.5 1905.5,997.7 1905.6,1001.5 1905.8,1003 1905.9,991.7 1906,988 1906.1,997.1 1906.2,991.5 1906.4,992.8 1906.5,988.3 1906.6,990.7 1906.7,1009.1 1906.8,998.4 1907,997.2 1907.1,990.9 1907.2,994.8 1907.3,989.3 1907.4,999.4 1907.6,991.5 1907.7,997.6 1907.8,994.7 1907.9,1006.3 1908,993.7 1908.2,1002.2 1908.3,991.6 1908.4,993.5 1908.5,1001.4 1908.6,990.8 1908.8,990.8 1908.9,989.8 1909,992.5 1909.1,1000.8 1909.2,991.7 1909.4,1005.9 1909.5,1001.2 1909.6,997.9 1909.7,1008.5 1909.8,993.8 1910,996.9 1910.1,1001 1910.2,1012.1 1910.3,1004.2 1910.4,996.6 1910.6,992.4 1910.7,1005.9 1910.8,1008.3 1910.9,1001.3 1911,1007.8 1911.2,1010.6 1911.3,994.5 1911.4,1002 1911.5,1000.3 1911.6,1003.7 1911.8,1039.8 1911.9,997.6 1912,1003.6 1912.1,1005.2 1912.2,1005.2 1912.4,998.5 1912.5,1002.6 1912.6,1009.9 1912.7,996.7 1912.8,1003.6 1913,1001.2 1913.1,996.6 1913.2,1001.4 1913.3,999.9 1913.4,1004.8 1913.6,1001.3 1913.7,999.8 1913.8,1002.6 1913.9,1005.3 1914,1005.8 1914.2,1006.5 1914.3,1003.8 1914.4,1007.8 1914.5,1002.4 1914.6,1007.9 1914.8,1000.3 1914.9,1005.1 1915,1009.3 1915.1,1003.6 1915.2,1011.9 1915.4,990.9 1915.5,1009.9 1915.6,1007 1915.7,999.1 1915.8,1009.5 1916,1011.6 1916.1,1012 1916.2,1000.9 1916.3,1013.1 1916.4,998.2 1916.6,1003.8 1916.7,1007.8 1916.8,1001.3 1916.9,1007.3 1917,1008.9 1917.2,1014.5 1917.3,1015.5 1917.4,1006.4 1917.5,1019.1 1917.6,1016.6 1917.8,1016.5 1917.9,1008.5 1918,1015.9 1918.1,1009.4 1918.2,995.4 1918.4,1008.4 1918.5,999.5 1918.6,1007.9 1918.7,1014.9 1918.8,1012 1919,1012.7 1919.1,1006.8 1919.2,1005.6 1919.3,1008.4 1919.4,1011.6 1919.6,1013.8 1919.7,1011.8 1919.8,1014.5 1919.9,1014.1 1920,996.8 1920.3,1005.1 1920.6,1015.9 1920.9,1010.1 1921.2,1008.5 1921.5,1010.7 1921.8,1014.4 1922.1,1008.8 1922.4,1010.2 1922.7,1008.4 1923,1005.1 1923.3,1014.3 1923.6,1010.3 1923.9,1014.2 1924.2,1016.4 1924.5,1014.7 1924.8,1010.7 1925.1,1015 1925.4,1017.4 1925.7,1016.1 1926,1011.3 1926.3,1004.6 1926.6,1005.3 1926.9,1021.3 1927.2,1014.1 1927.5,1009.3 1927.8,1014.8 1928.1,1013.4 1928.4,1017.9 1928.7,1011.8 1929,1013.5 1929.3,1017.7 1929.6,1010 1929.9,1007.3 1930.2,1010.3 1930.5,1019.4 1930.8,1011.5 1931.1,1008.8 1931.4,1007.1 1931.7,1006.6 1932,1008 1932.3,1014.2 1932.6,1010.4 1932.9,1009.4 1933.2,1012.6 1933.5,1011.5 1933.8,1019.1 1934.1,1011.7 1934.4,1015.9 1934.7,1014.2 1935,1004.2 1935.3,1012.2 1935.6,1011.7 1935.9,1017 1936.2,1022 1936.5,1020.4 1936.8,1015.4 1937.1,1014.8 1937.4,1023.9 1937.7,1017.4 1938,1013.6 1938.3,1018.2 1938.6,1015.7 1938.9,1013 1939.2,1007 1939.5,1011.8 1939.8,1005.4 1940.1,1021.5 1940.4,1006.6 1940.7,1014.6 1941,1008.2 1941.3,1003 1941.6,1008.4 1941.9,1011.3 1942.2,1005 1942.5,1016.3 1942.8,1007.9 1943.1,1011.4 1943.4,1011.5 1943.7,1017 1944,1011.7 1944.3,1011.5 1944.6,1013.6 1944.9,1011.7 1945.2,1021.5 1945.5,1008.4 1945.8,1014.9 1946.1,1012.1 1946.4,1017 1946.7,1015.4 1947,1017.1 1947.3,1006.6 1947.6,1018.1 1947.9,1017.7 1948.2,1014.4 1948.5,1020.4 1948.8,1019.2 1949.1,1012.2 1949.4,1011.7 1949.7,1009.1 1950,1010.8 1950.3,1018.2 1950.6,1019.2 1950.9,1007.6 1951.2,1026 1951.5,1012.3 1951.8,1009.4 1952.1,998.6 1952.4,1005.7" fill="none" stroke="none" marker-start="url(#o)" marker-mid="url(#o)" marker-end="url(#o)"/>
<circle cx="1951" cy="1018.5" r="15.4" fill="#fff" stroke="#000" stroke-width="3"/>
<polyline points="347,978.3 347.5,978.5 348,978.6 348.5,978.8 349,978.9 349.5,979.1 350,979.2 350.5,979.4 351,979.5 351.5,979.7 352,979.8 352.5,980 353,980.1 353.5,980.3 354,980.4 354.5,980.6 355,980.7 355.5,980.9 356,981 356.5,981.2 357,981.3 357.5,981.5 358,981.6 358.5,981.8 359,981.9 359.5,982.1 360,982.2 360.5,982.4 361,982.5 361.5,982.7 362,982.8 362.5,983 363,983.1 363.5,983.3 364,983.4 364.5,983.6 365,983.7 365.5,983.8 366,984 366.5,984.1 367,984.2 367.5,984.3 368,984.5 368.5,984.6 369,984.7 369.5,984.8 370,985 370.5,985.1 371,985.2 371.5,985.3 372,985.4 372.5,985.6 373,985.7 373.5,985.8 374,986 374.5,986.1 375,986.2 375.5,986.3 376,986.5 376.5,986.6 377,986.7 377.5,986.8 378,986.9 378.5,987.1 379,987.2 379.5,987.3 380,987.5 380.5,987.6 381,987.7 381.5,987.8 382,988 382.5,988.1 383,988.2 383.5,988.4 384,988.5 384.5,988.6 385,988.8 385.5,988.9 386,989 386.5,989.2 387,989.3 387.5,989.4 388,989.6 388.5,989.7 389,989.9 389.5,990 390,990.1 390.5,990.3 391,990.4 391.5,990.5 392,990.7 392.5,990.8 393,990.9 393.5,991.1 394,991.2 394.5,991.3 395,991.5 395.5,991.6 396,991.7 396.5,991.9 397,992 397.5,992.2 398,992.3 398.5,992.4 399,992.6 399.5,992.7 400,992.2 400.5,992.3 401,992.5 401.5,992.6 402,992.7 402.5,992.8 403,993 403.5,993.1 404,993.2 404.5,993.3 405,993.4 405.5,993.5 406,993.6 406.5,993.7 407,993.8 407.5,993.9 408,994 408.5,994.1 409,994.2 409.5,994.3 410,994.4 410.5,994.5 411,994.6 411.5,994.7 412,994.8 412.5,994.9 413,995 413.5,995.1 414,995.2 414.5,995.3 415,995.4 415.5,995.5 416,995.6 416.5,995.6 417,995.7 417.5,995.8 418,995.9 418.5,996 419,996.1 419.5,996.2 420,996.3 420.5,996.4 421,996.4 421.5,996.5 422,996.6 422.5,996.7 423,996.8 423.5,996.9 424,996.9 424.5,997 425,997.1 425.5,997.2 426,997.3 426.5,997.3 427,997.4 427.5,997.5 428,997.5 428.5,997.6 429,997.7 429.5,997.7 430,997.8 430.5,997.9 431,997.9 431.5,998 432,998 432.5,998.1 433,998.1 433.5,998.2 434,998.2 434.5,998.3 435,998.3 435.5,998.4 436,998.4 436.5,998.4 437,998.5 437.5,998.5 438,998.5 438.5,998.6 439,998.6 439.5,998.6 440,998.6 440.5,998.6 441,998.6 441.5,998.6 442,998.6 442.5,998.6 443,998.6 443.5,998.6 444,998.6 444.5,998.6 445,998.5 445.5,998.5 446,998.5 446.5,998.4 447,998.4 447.5,998.3 448,998.2 448.5,998.1 449,998 449.5,997.9 450,997.8 450.5,997.7 451,997.6 451.5,997.3 452,997.1 452.5,996.9 453,996.6 453.5,996.4 454,996.1 454.5,995.7 455,995.4 455.5,995 456,994.7 456.5,994.2 457,993.8 457.5,993.3 458,992.8 458.5,992.3 459,991.7 459.5,991 460,990.3 460.5,989.6 461,988.7 461.5,987.8 462,986.9 462.5,985.8 463,984.6 463.5,983.4 464,982 464.5,980.5 465,978.8 465.5,976.9 466,974.8 466.5,972.5 467,970 467.5,967.1 468,963.9 468.5,960.3 469,956.2 469.5,951.6 470,946.4 470.5,940.4 471,933.5 471.5,925.6 472,916.4 472.5,905.7 473,893.2 473.5,878.6 474,861.2 474.5,840.7 475,816.4 475.5,787.3 476,752.6 476.5,711.7 477,664.4 477.5,613.5 478,568.8 478.5,549.8 479,568.8 479.5,613.5 480,664.4 480.5,711.7 481,752.8 481.5,787.5 482,816.6 482.5,841.1 483,861.7 483.5,879.1 484,893.9 484.5,906.5 485,917.3 485.5,926.7 486,934.7 486.5,941.7 487,947.9 487.5,953.3 488,958 488.5,962.2 489,966 489.5,969.3 490,972.3 490.5,975 491,977.4 491.5,979.6 492,981.6 492.5,983.4 493,985.1 493.5,986.6 494,988 494.5,989.3 495,990.5 495.5,991.6 496,992.6 496.5,993.6 497,994.5 497.5,995.3 498,996.1 498.5,996.9 499,997.6 499.5,998.3 500,998.9 500.5,999.5 501,1000.1 501.5,1000.6 502,1001.2 502.5,1001.7 503,1002.1 503.5,1002.6 504,1003 504.5,1003.4 505,1003.8 505.5,1004.2 506,1004.6 506.5,1004.9 507,1005.3 507.5,1005.6 508,1005.9 508.5,1006.2 509,1006.5 509.5,1006.8 510,1007.1 510.5,1007.4 511,1007.7 511.5,1007.9 512,1008.2 512.5,1008.4 513,1008.7 513.5,1008.9 514,1009.1 514.5,1009.4 515,1009.6 515.5,1009.8 516,1010 516.5,1010.2 517,1010.4 517.5,1010.6 518,1010.8 518.5,1011 519,1011.2 519.5,1011.4 520,1011.6 520.5,1011.8 521,1011.9 521.5,1012.1 522,1012.2 522.5,1012.4 523,1012.5 523.5,1012.6 524,1012.8 524.5,1012.9 525,1013.1 525.5,1013.2 526,1013.3 526.5,1013.5 527,1013.6 527.5,1013.7 528,1013.9 528.5,1014 529,1014.1 529.5,1014.2 530,1014.4 530.5,1014.5 531,1014.6 531.5,1014.7 532,1014.8 532.5,1015 533,1015.1 533.5,1015.2 534,1015.3 534.5,1015.4 535,1015.5 535.5,1015.7 536,1015.8 536.5,1015.9 537,1016 537.5,1016.1 538,1016.2 538.5,1016.3 539,1016.4 539.5,1016.5 540,1016.6 540.5,1016.7 541,1016.9 541.5,1017 542,1017.1 542.5,1017.3 543,1017.4 543.5,1017.6 544,1017.7 544.5,1017.9 545,1018 545.5,1018.2 546,1018.3 546.5,1018.5 547,1018.6 547.5,1018.7 548,1018.9 548.5,1019 549,1019.2 549.5,1019.3 550,1019.4 550.5,1019.6 551,1019.7 551.5,1019.9 552,1020 552.5,1020.1 553,1020.3 553.5,1020.4 554,1020.6 554.5,1020.7 555,1020.8 555.5,1021 556,1021.1 556.5,1021.3 557,1021.4 557.5,1021.5 558,1021.7 558.5,1021.8 559,1021.9 559.5,1022.1 560,1022.2 560.5,1023 561,1023.1 561.5,1023.3 562,1023.4 562.5,1023.6 563,1023.7 563.5,1023.9 564,1024 564.5,1024.2 565,1024.3 565.5,1024.5 566,1024.6 566.5,1024.8 567,1024.9 567.5,1025.1 568,1025.2 568.5,1025.4 569,1025.5 569.5,1025.7 570,1025.8 570.5,1026 571,1026.1 571.5,1026.3 572,1026.4 572.5,1026.6 573,1026.7 573.5,1026.9 574,1012.9 574.5,1012.6 575,1012.4 575.5,1012.2 576,1012 576.5,1011.7 577,1011.4 577.5,1011.1 578,1010.8 578.5,1010.5 579,1010.2 579.5,1009.9 580,1009.5 580.5,1009.1 581,1008.7 581.5,1008.3 582,1007.8 582.5,1007.4 583,1006.9 583.5,1006.3 584,1005.8 584.5,1005.2 585,1004.6 585.5,1004 586,1003.3 586.5,1002.6 587,1001.8 587.5,1001 588,1000.2 588.5,999.3 589,998.4 589.5,997.4 590,996.4 590.5,995.3 591,994.2 591.5,992.9 592,991.7 592.5,990.3 593,988.9 593.5,987.4 594,985.8 594.5,984.1 595,982.3 595.5,980.4 596,978.4 596.5,976.3 597,974 597.5,971.6 598,969.1 598.5,966.4 599,963.5 599.5,960.4 600,957.1 600.5,953.7 601,949.9 601.5,946 602,941.7 602.5,937.2 603,932.4 603.5,927.2 604,921.6 604.5,915.6 605,909.2 605.5,902.3 606,894.9 606.5,887 607,878.3 607.5,869 608,859 608.5,848.1 609,836.3 609.5,823.5 610,809.6 610.5,794.4 611,777.8 611.5,759.6 612,739.7 612.5,717.7 613,693.5 613.5,666.8 614,637.3 614.5,604.7 615,568.8 615.5,530.1 616,490 616.5,451.9 617,422.8 617.5,411.6 618,422.8 618.5,451.9 619,490 619.5,530.2 620,568.9 620.5,604.8 621,637.4 621.5,667 622,693.8 622.5,718 623,740.1 623.5,760.1 624,778.4 624.5,795.1 625,810.5 625.5,824.6 626,837.6 626.5,849.6 627,860.7 627.5,871 628,880.5 628.5,889.4 629,897.6 629.5,905.3 630,912.5 630.5,919.2 631,925.5 631.5,931.3 632,936.8 632.5,942 633,946.9 633.5,951.5 634,955.8 634.5,959.9 635,963.7 635.5,967.4 636,970.8 636.5,974.1 637,977.2 637.5,980.1 638,982.9 638.5,985.5 639,988.1 639.5,990.5 640,992.8 640.5,994.9 641,997 641.5,999 642,1000.9 642.5,1002.7 643,1004.4 643.5,1006 644,1007.6 644.5,1009.1 645,1010.5 645.5,1011.9 646,1013.3 646.5,1014.5 647,1015.8 647.5,1017 648,1018.1 648.5,1019.2 649,1020.3 649.5,1021.3 650,1022.3 650.5,1023.3 651,1024.2 651.5,1025.1 652,1026 652.5,1026.8 653,1027.7 653.5,1028.5 654,1029.2 654.5,1030 655,1030.7 655.5,1031.4 656,1032.1 656.5,1032.8 657,1033.4 657.5,1034.1 658,1034.7 658.5,1035.3 659,1035.9 659.5,1036.5 660,1037.1 660.5,1037.7 661,1038.3 661.5,1038.8 662,1039.4 662.5,1039.9 663,1040.4 663.5,1041 664,1041.5 664.5,1042 665,1042.4 665.5,1042.9 666,1043.4 666.5,1043.8 667,1044.3 667.5,1044.7 668,1045.2 668.5,1045.6 669,1046 669.5,1046.4 670,1046.9 670.5,1047.3 671,1047.7 671.5,1048.1 672,1048.4 672.5,1048.8 673,1049.2 673.5,1049.6 674,1050 674.5,1050.3 675,1050.7 675.5,1051 676,1051.4 676.5,1051.7 677,1052.1 677.5,1052.4 678,1052.7 678.5,1053 679,1053.3 679.5,1053.6 680,1053.9 680.5,1054.1 681,1054.4 681.5,1054.7 682,1055 682.5,1055.2 683,1055.5 683.5,1055.8 684,1056 684.5,1056.3 685,1056.5 685.5,1056.8 686,1057 686.5,1057.3 687,1057.5 687.5,1057.8 688,1058 688.5,1058.3 689,1058.5 689.5,1058.7 690,1059 690.5,1059.2 691,1059.4 691.5,1059.7 692,1059.9 692.5,1060.1 693,1060.3 693.5,1060.6 694,1060.8 694.5,1061 695,1061.2 695.5,1061.4 696,1061.6 696.5,1061.9 697,1062.1 697.5,1062.3 698,1062.5 698.5,1062.7 699,1062.9 699.5,1063.1 700,1063.3 700.5,1063.5 701,1063.7 701.5,1063.9 702,1064.1 702.5,1064.3 703,1064.5 703.5,1064.7 704,1064.9 704.5,1065.1 705,1065.3 705.5,1065.5 706,1065.7 706.5,1065.9 707,1066.1 707.5,1066.3 708,1066.4 708.5,1066.6 709,1066.8 709.5,1067 710,1067.2 710.5,1067.4 711,1067.6 711.5,1067.7 712,1067.9 712.5,1068.1 713,1068.2 713.5,1068.4 714,1068.5 714.5,1068.7 715,1068.8 715.5,1069 716,1069.1 716.5,1069.3 717,1069.4 717.5,1069.6 718,1069.7 718.5,1069.8 719,1070 719.5,1070.1 720,1070.3 720.5,1072.9 721,1073 721.5,1073.1 722,1073.2 722.5,1073.3 723,1073.4 723.5,1073.5 724,1073.6 724.5,1073.7 725,1073.9 725.5,1074 726,1074.1 726.5,1074.2 727,1074.3 727.5,1074.4 728,1074.5 728.5,1074.6 729,1074.7 729.5,1074.8 730,1074.9 730.5,1075 731,1075.2 731.5,1075.3 732,1075.4 732.5,1075.5 733,1075.6 733.5,1075.7 734,1075.8 734.5,1075.9 735,1076 735.5,1076.1 736,1076.2 736.5,1076.4 737,1076.5 737.5,1076.6 738,1076.7 738.5,1076.8 739,1076.9 739.5,1077 740,1077.1 740.5,1077.2 741,1077.3 741.5,1077.4 742,1077.6 742.5,1077.7 743,1077.8 743.5,1077.9 744,1078 744.5,1078.1 745,1078.2 745.5,1078.3 746,1078.4 746.5,1078.5 747,1078.6 747.5,1078.8 748,1078.9 748.5,1079 749,1079.1 749.5,1079.2 750,1079.3 750.5,1079.4 751,1079.5 751.5,1079.6 752,1079.7 752.5,1079.8 753,1079.8 753.5,1079.9 754,1080 754.5,1080.1 755,1080.1 755.5,1080.2 756,1080.3 756.5,1080.4 757,1080.4 757.5,1080.5 758,1080.6 758.5,1080.7 759,1080.7 759.5,1080.8 760,1080.9 760.5,1081 761,1081 761.5,1081.1 762,1081.2 762.5,1081.3 763,1081.3 763.5,1081.4 764,1081.5 764.5,1081.6 765,1081.6 765.5,1081.7 766,1081.8 766.5,1081.9 767,1081.9 767.5,1082 768,1082.1 768.5,1082.2 769,1082.2 769.5,1082.3 770,1082.4 770.5,1082.5 771,1082.5 771.5,1082.6 772,1082.7 772.5,1082.8 773,1082.8 773.5,1082.9 774,1083 774.5,1083.1 775,1083.1 775.5,1083.2 776,1083.3 776.5,1083.3 777,1083.4 777.5,1083.4 778,1083.5 778.5,1083.5 779,1083.6 779.5,1083.6 780,1083.6 780.5,1083.7 781,1083.7 781.5,1083.8 782,1083.8 782.5,1083.8 783,1083.9 783.5,1083.9 784,1084 784.5,1084 785,1084.1 785.5,1084.1 786,1084.1 786.5,1084.2 787,1084.2 787.5,1084.3 788,1084.3 788.5,1084.4 789,1084.4 789.5,1084.4 790,1084.5 790.5,1084.5 791,1084.6 791.5,1084.6 792,1084.6 792.5,1084.7 793,1084.7 793.5,1084.8 794,1084.8 794.5,1084.9 795,1084.9 795.5,1084.9 796,1085 796.5,1085 797,1085.1 797.5,1085.1 798,1085.2 798.5,1085.2 799,1085.2 799.5,1085.3 800,1085.3 800.5,1085.4 801,1085.4 801.5,1085.4 802,1085.5 802.5,1085.5 803,1085.6 803.5,1085.6 804,1085.7 804.5,1085.7 805,1085.7 805.5,1085.8 806,1085.8 806.5,1085.8 807,1085.7 807.5,1085.7 808,1085.7 808.5,1085.7 809,1085.7 809.5,1085.6 810,1085.6 810.5,1085.6 811,1085.6 811.5,1085.5 812,1085.5 812.5,1085.5 813,1085.5 813.5,1085.5 814,1085.4 814.5,1085.4 815,1085.4 815.5,1085.4 816,1085.3 816.5,1085.3 817,1085.3 817.5,1085.3 818,1085.3 818.5,1085.2 819,1085.2 819.5,1085.2 820,1085.2 820.5,1085.1 821,1085.1 821.5,1085.1 822,1085.1 822.5,1085.1 823,1085 823.5,1085 824,1085 824.5,1085 825,1084.9 825.5,1084.9 826,1084.9 826.5,1084.9 827,1084.9 827.5,1084.8 828,1084.8 828.5,1084.8 829,1084.8 829.5,1084.7 830,1084.7 830.5,1084.7 831,1084.7 831.5,1084.7 832,1084.6 832.5,1084.6 833,1084.6 833.5,1084.5 834,1084.4 834.5,1084.3 835,1084.3 835.5,1084.2 836,1084.1 836.5,1084 837,1083.9 837.5,1083.9 838,1083.8 838.5,1083.7 839,1083.6 839.5,1083.5 840,1083.5 840.5,1083.4 841,1083.3 841.5,1083.2 842,1083.2 842.5,1083.1 843,1083 843.5,1082.9 844,1082.8 844.5,1082.8 845,1082.7 845.5,1082.6 846,1082.5 846.5,1082.4 847,1082.4 847.5,1082.3 848,1082.2 848.5,1082.1 849,1082.1 849.5,1082 850,1081.9 850.5,1081.8 851,1081.7 851.5,1081.7 852,1081.6 852.5,1081.5 853,1081.4 853.5,1081.4 854,1081.3 854.5,1081.2 855,1081.1 855.5,1081 856,1081 856.5,1080.9 857,1080.8 857.5,1080.7 858,1080.6 858.5,1080.6 859,1080.5 859.5,1080.4 860,1080.3 860.5,1080.3 861,1080.2 861.5,1080.1 862,1080 862.5,1079.9 863,1079.9 863.5,1079.8 864,1079.7 864.5,1079.6 865,1079.5 865.5,1079.5 866,1079.4 866.5,1079.3 867,1079.2 867.5,1079.2 868,1079.1 868.5,1079 869,1078.9 869.5,1078.8 870,1078.8 870.5,1078.7 871,1078.6 871.5,1078.5 872,1078.4 872.5,1078.4 873,1078.3 873.5,1078.2 874,1078.1 874.5,1078 875,1077.9 875.5,1077.8 876,1077.7 876.5,1077.6 877,1077.5 877.5,1077.4 878,1077.3 878.5,1077.2 879,1077.1 879.5,1077.1 880,1077 880.5,1076.9 881,1076.8 881.5,1076.7 882,1076.6 882.5,1076.5 883,1076.4 883.5,1076.3 884,1076.2 884.5,1076.1 885,1076 885.5,1075.9 886,1075.8 886.5,1075.7 887,1075.7 887.5,1075.6 888,1075.5 888.5,1075.4 889,1075.3 889.5,1075.2 890,1075.1 890.5,1075 891,1074.9 891.5,1074.8 892,1074.7 892.5,1074.6 893,1074.5 893.5,1074.4 894,1074.3 894.5,1074.3 895,1074.2 895.5,1074.1 896,1074 896.5,1073.9 897,1073.8 897.5,1073.7 898,1073.6 898.5,1073.5 899,1073.4 899.5,1073.3 900,1073.2 900.5,1073.1 901,1073 901.5,1072.9 902,1072.8 902.5,1072.8 903,1072.7 903.5,1072.6 904,1072.5 904.5,1072.4 905,1072.3 905.5,1072.2 906,1072.1 906.5,1072 907,1071.9 907.5,1071.8 908,1071.7 908.5,1071.6 909,1071.5 909.5,1071.4 910,1071.4 910.5,1071.3 911,1071.2 911.5,1071.1 912,1071 912.5,1070.9 913,1070.8 913.5,1070.8 914,1070.7 914.5,1070.6 915,1070.5 915.5,1070.5 916,1070.4 916.5,1070.3 917,1070.2 917.5,1070.2 918,1070.1 918.5,1070 919,1069.9 919.5,1069.9 920,1069.8 920.5,1069.7 921,1069.6 921.5,1069.6 922,1069.5 922.5,1069.4 923,1069.3 923.5,1069.3 924,1069.2 924.5,1069.1 925,1069 925.5,1069 926,1068.9 926.5,1068.8 927,1068.7 927.5,1068.7 928,1068.6 928.5,1068.5 929,1068.4 929.5,1068.4 930,1068.3 930.5,1068.2 931,1068.1 931.5,1068.1 932,1068 932.5,1067.9 933,1067.8 933.5,1067.8 934,1067.7 934.5,1067.6 935,1067.5 935.5,1067.5 936,1067.4 936.5,1067.3 937,1067.2 937.5,1067.2 938,1067.1 938.5,1067.1 939,1067 939.5,1066.9 940,1066.9 940.5,1066.8 941,1066.8 941.5,1066.7 942,1066.7 942.5,1066.6 943,1066.5 943.5,1066.5 944,1066.4 944.5,1066.4 945,1066.3 945.5,1066.2 946,1066.2 946.5,1066.1 947,1066.1 947.5,1066 948,1065.9 948.5,1065.9 949,1065.8 949.5,1065.8 950,1065.7 950.5,1065.7 951,1065.6 951.5,1065.5 952,1065.5 952.5,1065.4 953,1065.4 953.5,1065.3 954,1065.2 954.5,1065.2 955,1065.1 955.5,1065.1 956,1065 956.5,1064.9 957,1064.9 957.5,1064.8 958,1064.8 958.5,1064.7 959,1064.7 959.5,1064.6 960,1064.5 960.5,1064.5 961,1064.4 961.5,1064.4 962,1064.3 962.5,1064.2 963,1064.2 963.5,1064.1 964,1064.1 964.5,1064 965,1063.9 965.5,1063.9 966,1063.8 966.5,1063.8 967,1063.7 967.5,1063.6 968,1063.6 968.5,1063.5 969,1063.5 969.5,1063.4 970,1063.3 970.5,1063.3 971,1063.2 971.5,1063.2 972,1063.1 972.5,1063 973,1063 973.5,1062.9 974,1062.8 974.5,1062.8 975,1062.7 975.5,1062.7 976,1062.6 976.5,1062.5 977,1062.5 977.5,1062.4 978,1062.4 978.5,1062.3 979,1062.2 979.5,1062.2 980,1062.1 980.5,1062.1 981,1062 981.5,1061.9 982,1061.9 982.5,1061.8 983,1061.8 983.5,1061.7 984,1061.6 984.5,1061.6 985,1061.5 985.5,1061.5 986,1061.4 986.5,1061.3 987,1061.3 987.5,1061.2 988,1061.1 988.5,1061.1 989,1061 989.5,1061 990,1060.9 990.5,1060.9 991,1060.8 991.5,1060.8 992,1060.7 992.5,1060.7 993,1060.6 993.5,1060.6 994,1060.5 994.5,1060.5 995,1060.4 995.5,1060.4 996,1060.3 996.5,1060.3 997,1060.2 997.5,1060.2 998,1060.1 998.5,1060.1 999,1060 999.5,974.7 1000,972.9 1000.5,971.1 1001,969.3 1001.5,967.4 1002,965.5 1002.5,963.5 1003,961.5 1003.5,959.4 1004,957.3 1004.5,955.1 1005,952.9 1005.5,950.6 1006,948.2 1006.5,945.8 1007,943.3 1007.5,940.7 1008,938.1 1008.5,935.4 1009,932.6 1009.5,929.8 1010,926.8 1010.5,923.8 1011,920.7 1011.5,917.5 1012,914.2 1012.5,910.8 1013,907.3 1013.5,903.7 1014,900 1014.5,896.1 1015,892.2 1015.5,888.1 1016,883.9 1016.5,879.6 1017,875.1 1017.5,870.5 1018,865.7 1018.5,860.8 1019,855.7 1019.5,850.4 1020,845 1020.5,839.3 1021,833.5 1021.5,827.4 1022,821.1 1022.5,814.6 1023,807.9 1023.5,800.8 1024,793.6 1024.5,786 1025,778.1 1025.5,769.9 1026,761.3 1026.5,752.4 1027,743.1 1027.5,733.4 1028,723.2 1028.5,712.5 1029,701.4 1029.5,689.7 1030,677.3 1030.5,664.4 1031,650.7 1031.5,636.3 1032,621 1032.5,604.8 1033,587.5 1033.5,569.2 1034,549.6 1034.5,528.5 1035,506 1035.5,481.6 1036,455.4 1036.5,427 1037,396.4 1037.5,363.5 1038,328.6 1038.5,292.7 1039,258 1039.5,228.6 1040,210.3 1040.5,209.7 1041,235.6 1041.5,278.5 1042,326.2 1042.5,372.5 1043,415 1043.5,453.5 1044,488.2 1044.5,519.6 1045,548.1 1045.5,574 1046,597.8 1046.5,619.7 1047,639.9 1047.5,658.7 1048,676.1 1048.5,692.4 1049,707.7 1049.5,722 1050,735.4 1050.5,748.1 1051,760 1051.5,771.3 1052,782 1052.5,792.1 1053,801.7 1053.5,810.9 1054,819.5 1054.5,827.8 1055,835.7 1055.5,843.2 1056,850.3 1056.5,857.2 1057,863.7 1057.5,870 1058,875.9 1058.5,881.6 1059,887.1 1059.5,892.4 1060,897.4 1060.5,902.2 1061,906.8 1061.5,911.3 1062,915.6 1062.5,919.6 1063,923.6 1063.5,927.4 1064,931 1064.5,934.5 1065,937.9 1065.5,941.1 1066,944.3 1066.5,947.3 1067,950.2 1067.5,953 1068,955.7 1068.5,958.3 1069,960.8 1069.5,963.2 1070,965.5 1070.5,967.8 1071,970 1071.5,972.1 1072,974.1 1072.5,976.1 1073,978 1073.5,979.8 1074,981.6 1074.5,983.3 1075,985 1075.5,986.6 1076,988.1 1076.5,989.7 1077,991.1 1077.5,992.5 1078,993.9 1078.5,995.2 1079,996.5 1079.5,997.8 1080,999 1080.5,1000.2 1081,1001.3 1081.5,1002.4 1082,1003.5 1082.5,1004.5 1083,1005.5 1083.5,1006.5 1084,1053.3 1084.5,1053.2 1085,1053.2 1085.5,1053.1 1086,1053.1 1086.5,1053.1 1087,1053 1087.5,1053 1088,1052.9 1088.5,1052.9 1089,1052.9 1089.5,1052.8 1090,1052.8 1090.5,1052.7 1091,1052.7 1091.5,1052.6 1092,1052.6 1092.5,1052.6 1093,1052.5 1093.5,1052.5 1094,1052.4 1094.5,1052.4 1095,1052.4 1095.5,1052.3 1096,1052.3 1096.5,1052.2 1097,1052.2 1097.5,1052.2 1098,1052.1 1098.5,1052.1 1099,1052 1099.5,1052 1100,1052 1100.5,1051.9 1101,1051.9 1101.5,1051.8 1102,1051.8 1102.5,1051.8 1103,1051.7 1103.5,1051.7 1104,1051.6 1104.5,1051.6 1105,1051.6 1105.5,1051.5 1106,1051.5 1106.5,1051.4 1107,1051.4 1107.5,1051.4 1108,1051.3 1108.5,1051.3 1109,1051.2 1109.5,1051.2 1110,1051.2 1110.5,1051.2 1111,1051.1 1111.5,1051.1 1112,1051.1 1112.5,1051.1 1113,1051 1113.5,1051 1114,1051 1114.5,1051 1115,1051 1115.5,1050.9 1116,1050.9 1116.5,1050.9 1117,1050.9 1117.5,1050.8 1118,1050.8 1118.5,1050.8 1119,1050.8 1119.5,1050.8 1120,1050.7 1120.5,1050.7 1121,1050.7 1121.5,1050.7 1122,1050.6 1122.5,1050.6 1123,1050.6 1123.5,1050.6 1124,1050.6 1124.5,1050.5 1125,1050.5 1125.5,1050.5 1126,1050.5 1126.5,1050.4 1127,1050.4 1127.5,1050.4 1128,1050.4 1128.5,1050.4 1129,1050.3 1129.5,1050.3 1130,1050.3 1130.5,1050.3 1131,1050.2 1131.5,1050.2 1132,1050.2 1132.5,1050.2 1133,1050.2 1133.5,1050.1 1134,1050.1 1134.5,1050.1 1135,1050.1 1135.5,1050 1136,1050 1136.5,1050 1137,1050 1137.5,1050 1138,1050 1138.5,1050 1139,1050 1139.5,1050 1140,1050 1140.5,1050 1141,1050 1141.5,1050 1142,1050 1142.5,1050 1143,1050 1143.5,1050 1144,1050 1144.5,1050 1145,1050 1145.5,1050 1146,1050 1146.5,1050 1147,1050 1147.5,1050 1148,1050 1148.5,1050 1149,1050 1149.5,1050 1150,1050 1150.5,1050 1151,1050 1151.5,1050 1152,1050 1152.5,1050 1153,1050 1153.5,1050 1154,1050 1154.5,1050 1155,1050 1155.5,1050 1156,1050 1156.5,1050 1157,1050 1157.5,1050 1158,1050 1158.5,1050 1159,1050 1159.5,1050 1160,1050 1160.5,1050 1161,1050 1161.5,1050.1 1162,1050.1 1162.5,1050.2 1163,1050.3 1163.5,1050.3 1164,1050.4 1164.5,1050.5 1165,1050.6 1165.5,1050.6 1166,1050.7 1166.5,1050.8 1167,1050.8 1167.5,1050.9 1168,1051 1168.5,1051.1 1169,1051.1 1169.5,1051.2 1170,1051.3 1170.5,1051.3 1171,1051.4 1171.5,1051.5 1172,1051.6 1172.5,1051.6 1173,1051.7 1173.5,1051.8 1174,1051.8 1174.5,1051.9 1175,1052 1175.5,1052.1 1176,1052.1 1176.5,1052.2 1177,1052.3 1177.5,1052.3 1178,1052.4 1178.5,1052.5 1179,1052.6 1179.5,1052.6 1180,1052.7 1180.5,1052.8 1181,1052.8 1181.5,1052.9 1182,1053 1182.5,1053.1 1183,1053.1 1183.5,1053.2 1184,1053.3 1184.5,1053.3 1185,1053.4 1185.5,1053.5 1186,1053.6 1186.5,1053.6 1187,1053.7 1187.5,1053.8 1188,1053.9 1188.5,1054 1189,1054.1 1189.5,1054.2 1190,1054.4 1190.5,1054.5 1191,1054.6 1191.5,1054.7 1192,1054.8 1192.5,1054.9 1193,1055 1193.5,1055.1 1194,1055.2 1194.5,1055.3 1195,1055.5 1195.5,1055.6 1196,1055.7 1196.5,1055.8 1197,1055.9 1197.5,1056 1198,1056.1 1198.5,1056.2 1199,1056.3 1199.5,1056.4 1200,1056.6 1200.5,1056.7 1201,1056.8 1201.5,1056.9 1202,1057 1202.5,1057.1 1203,1057.2 1203.5,1057.3 1204,1057.4 1204.5,1057.5 1205,1057.7 1205.5,1057.8 1206,1057.9 1206.5,1058 1207,1058.1 1207.5,1058.2 1208,1058.3 1208.5,1058.4 1209,1058.5 1209.5,1058.6 1210,1058.7 1210.5,1058.8 1211,1058.9 1211.5,1059 1212,1059.1 1212.5,1059.2 1213,1059.3 1213.5,1059.4 1214,1059.5 1214.5,1059.6 1215,1059.7 1215.5,1059.8 1216,1059.9 1216.5,1060 1217,1060.1 1217.5,1060.2 1218,1060.3 1218.5,1060.4 1219,1060.5 1219.5,1060.6 1220,1060.7 1220.5,1060.8 1221,1060.9 1221.5,1061 1222,1061.1 1222.5,1061.2 1223,1061.3 1223.5,1061.4 1224,1061.5 1224.5,1061.6 1225,1061.7 1225.5,1061.8 1226,1061.9 1226.5,1062 1227,1062.1 1227.5,1062.2 1228,1062.3 1228.5,1062.4 1229,1062.6 1229.5,1062.7 1230,1062.8 1230.5,1062.9 1231,1063 1231.5,1063.1 1232,1063.2 1232.5,1063.3 1233,1063.4 1233.5,1063.5 1234,1063.6 1234.5,1063.7 1235,1063.8 1235.5,1063.9 1236,1064.1 1236.5,1064.2 1237,1064.3 1237.5,1064.4 1238,1064.5 1238.5,1064.6 1239,1064.7 1239.5,1064.8 1240,1049.5 1240.5,1049.3 1241,1049 1241.5,1048.8 1242,1048.5 1242.5,1048.3 1243,1048 1243.5,1047.7 1244,1047.4 1244.5,1047.1 1245,1046.8 1245.5,1046.4 1246,1046.1 1246.5,1045.7 1247,1045.3 1247.5,1044.9 1248,1044.5 1248.5,1044.1 1249,1043.6 1249.5,1043.2 1250,1042.7 1250.5,1042.2 1251,1041.6 1251.5,1041.1 1252,1040.5 1252.5,1040 1253,1039.4 1253.5,1038.7 1254,1038.1 1254.5,1037.4 1255,1036.7 1255.5,1035.9 1256,1035.2 1256.5,1034.3 1257,1033.5 1257.5,1032.6 1258,1031.7 1258.5,1030.7 1259,1029.7 1259.5,1028.7 1260,1027.6 1260.5,1026.4 1261,1025.2 1261.5,1024 1262,1022.7 1262.5,1021.3 1263,1019.9 1263.5,1018.4 1264,1016.8 1264.5,1015.1 1265,1013.4 1265.5,1011.6 1266,1009.7 1266.5,1007.7 1267,1005.6 1267.5,1003.4 1268,1001.1 1268.5,998.7 1269,996.1 1269.5,993.4 1270,990.6 1270.5,987.6 1271,984.5 1271.5,981.2 1272,977.7 1272.5,974.1 1273,970.2 1273.5,966.2 1274,961.8 1274.5,957.3 1275,952.5 1275.5,947.4 1276,942 1276.5,936.2 1277,930.1 1277.5,923.7 1278,916.8 1278.5,909.6 1279,901.8 1279.5,893.6 1280,884.8 1280.5,875.5 1281,865.5 1281.5,854.9 1282,843.5 1282.5,831.4 1283,818.4 1283.5,804.5 1284,789.6 1284.5,773.7 1285,756.6 1285.5,738.4 1286,718.8 1286.5,697.9 1287,675.8 1287.5,652.4 1288,628.1 1288.5,603.3 1289,579 1289.5,556.5 1290,537.9 1290.5,525.3 1291,520.9 1291.5,525.3 1292,537.9 1292.5,556.5 1293,579 1293.5,603.4 1294,628.2 1294.5,652.5 1295,675.9 1295.5,698.1 1296,719.1 1296.5,738.7 1297,757 1297.5,774.2 1298,790.2 1298.5,805.2 1299,819.2 1299.5,832.3 1300,844.6 1300.5,856.1 1301,866.9 1301.5,877 1302,886.6 1302.5,895.5 1303,904 1303.5,911.9 1304,919.4 1304.5,926.5 1305,933.2 1305.5,939.6 1306,945.5 1306.5,951.2 1307,956.6 1307.5,961.7 1308,966.5 1308.5,971.1 1309,975.5 1309.5,979.7 1310,983.6 1310.5,987.4 1311,991 1311.5,994.4 1312,997.7 1312.5,1000.8 1313,1003.7 1313.5,1006.6 1314,1009.3 1314.5,1011.9 1315,1014.4 1315.5,1016.8 1316,1019.1 1316.5,1021.3 1317,1023.4 1317.5,1025.5 1318,1027.4 1318.5,1029.3 1319,1031.1 1319.5,1032.9 1320,1034.6 1320.5,1036.2 1321,1037.8 1321.5,1039.3 1322,1040.7 1322.5,1042.1 1323,1043.5 1323.5,1044.8 1324,1046.1 1324.5,1047.3 1325,1048.5 1325.5,1049.7 1326,1050.8 1326.5,1051.9 1327,1052.9 1327.5,1053.9 1328,1054.9 1328.5,1055.9 1329,1056.8 1329.5,1057.7 1330,1058.6 1330.5,1059.5 1331,1060.3 1331.5,1061.1 1332,1061.9 1332.5,1062.7 1333,1063.5 1333.5,1064.2 1334,1064.9 1334.5,1090.8 1335,1091 1335.5,1091.1 1336,1091.3 1336.5,1091.4 1337,1091.6 1337.5,1091.7 1338,1091.9 1338.5,1092 1339,1092.2 1339.5,1092.3 1340,1092.5 1340.5,1092.6 1341,1092.8 1341.5,1092.9 1342,1093.1 1342.5,1093.2 1343,1093.4 1343.5,1093.5 1344,1093.7 1344.5,1093.8 1345,1093.9 1345.5,1094.1 1346,1094.2 1346.5,1094.4 1347,1094.5 1347.5,1094.7 1348,1094.8 1348.5,1095 1349,1095.1 1349.5,1095.3 1350,1091.3 1350.5,1091.2 1351,1091.1 1351.5,1090.9 1352,1090.7 1352.5,1090.5 1353,1090.2 1353.5,1089.9 1354,1089.5 1354.5,1089 1355,1088.5 1355.5,1087.9 1356,1087.2 1356.5,1086.4 1357,1085.4 1357.5,1084.3 1358,1083 1358.5,1081.4 1359,1079.5 1359.5,1077.3 1360,1074.7 1360.5,1071.4 1361,1067.6 1361.5,1062.9 1362,1057.2 1362.5,1050.3 1363,1041.9 1363.5,1032 1364,1020.7 1364.5,1008.3 1365,996.2 1365.5,986.2 1366,980.7 1366.5,981.4 1367,988.1 1367.5,998.9 1368,1011.4 1368.5,1023.9 1369,1035.2 1369.5,1045 1370,1053.3 1370.5,1060.3 1371,1066.1 1371.5,1070.9 1372,1074.9 1372.5,1078.3 1373,1081.2 1373.5,1083.6 1374,1085.7 1374.5,1087.5 1375,1089 1375.5,1090.4 1376,1091.6 1376.5,1092.7 1377,1093.6 1377.5,1094.5 1378,1095.3 1378.5,1096 1379,1096.6 1379.5,1097.2 1380,1097.7 1380.5,1098.2 1381,1098.7 1381.5,1099.1 1382,1099.5 1382.5,1099.9 1383,1100.2 1383.5,1100.6 1384,1100.9 1384.5,1101.2 1385,1101.5 1385.5,1104.8 1386,1104.9 1386.5,1105.1 1387,1105.2 1387.5,1105.3 1388,1105.4 1388.5,1105.5 1389,1105.6 1389.5,1105.7 1390,1105.8 1390.5,1105.9 1391,1106 1391.5,1106.2 1392,1106.3 1392.5,1106.4 1393,1106.5 1393.5,1106.6 1394,1106.7 1394.5,1106.8 1395,1106.9 1395.5,1107 1396,1107 1396.5,1107.1 1397,1107.2 1397.5,1107.3 1398,1107.3 1398.5,1107.4 1399,1107.5 1399.5,1107.6 1400,1107.6 1400.5,1107.7 1401,1107.8 1401.5,1107.9 1402,1107.9 1402.5,1108 1403,1108.1 1403.5,1108.2 1404,1108.2 1404.5,1108.3 1405,1108.4 1405.5,1108.5 1406,1108.5 1406.5,1108.6 1407,1108.7 1407.5,1108.8 1408,1108.8 1408.5,1108.9 1409,1109 1409.5,1109.1 1410,1109.1 1410.5,1109.2 1411,1109.3 1411.5,1109.4 1412,1109.4 1412.5,1109.5 1413,1109.6 1413.5,1109.7 1414,1109.7 1414.5,1109.8 1415,1109.9 1415.5,1110 1416,1110 1416.5,1110.1 1417,1110.2 1417.5,1110.3 1418,1110.3 1418.5,1110.4 1419,1110.5 1419.5,1110.6 1420,1110.6 1420.5,1110.7 1421,1110.8 1421.5,1110.9 1422,1111 1422.5,1111.1 1423,1111.1 1423.5,1111.2 1424,1111.3 1424.5,1111.4 1425,1111.5 1425.5,1111.6 1426,1111.6 1426.5,1111.7 1427,1111.8 1427.5,1111.9 1428,1112 1428.5,1112.1 1429,1112.1 1429.5,1112.2 1430,1112.3 1430.5,1112.4 1431,1112.5 1431.5,1112.6 1432,1112.6 1432.5,1112.7 1433,1112.8 1433.5,1112.9 1434,1113 1434.5,1113.1 1435,1113.1 1435.5,1113.2 1436,1113.3 1436.5,1113.4 1437,1113.5 1437.5,1113.6 1438,1113.6 1438.5,1113.7 1439,1113.8 1439.5,1113.9 1440,1114 1440.5,1114.1 1441,1114.1 1441.5,1114.2 1442,1114.2 1442.5,1114.3 1443,1114.3 1443.5,1114.3 1444,1114.4 1444.5,1114.4 1445,1114.4 1445.5,1114.5 1446,1114.5 1446.5,1114.5 1447,1114.6 1447.5,1114.6 1448,1114.6 1448.5,1114.6 1449,1114.7 1449.5,1114.7 1450,1114.7 1450.5,1114.8 1451,1114.8 1451.5,1114.8 1452,1114.9 1452.5,1114.9 1453,1114.9 1453.5,1115 1454,1115 1454.5,1115 1455,1115.1 1455.5,1115.1 1456,1115.1 1456.5,1115.1 1457,1115.2 1457.5,1115.2 1458,1115.2 1458.5,1115.3 1459,1115.3 1459.5,1115.3 1460,1115.4 1460.5,1115.4 1461,1115.4 1461.5,1115.5 1462,1115.5 1462.5,1115.5 1463,1115.6 1463.5,1115.6 1464,1115.6 1464.5,1115.6 1465,1115.7 1465.5,1115.7 1466,1115.7 1466.5,1115.8 1467,1115.8 1467.5,1115.8 1468,1115.9 1468.5,1115.9 1469,1115.9 1469.5,1116 1470,1116 1470.5,1116 1471,1116 1471.5,1116.1 1472,1116.1 1472.5,1116.1 1473,1116.2 1473.5,1116.2 1474,1116.2 1474.5,1116.2 1475,1116.3 1475.5,1116.3 1476,1116.3 1476.5,1116.4 1477,1116.4 1477.5,1116.4 1478,1116.5 1478.5,1116.5 1479,1116.5 1479.5,1116.5 1480,1116.6 1480.5,1116.6 1481,1116.6 1481.5,1116.7 1482,1116.7 1482.5,1116.7 1483,1116.7 1483.5,1116.8 1484,1116.8 1484.5,1116.8 1485,1116.9 1485.5,1116.9 1486,1116.9 1486.5,1116.9 1487,1117 1487.5,1117 1488,1117 1488.5,1117.1 1489,1117.1 1489.5,1117.1 1490,1117.1 1490.5,1117.2 1491,1117.2 1491.5,1117.2 1492,1117.3 1492.5,1117.3 1493,1117.3 1493.5,1117.3 1494,1117.4 1494.5,1117.4 1495,1117.4 1495.5,1117.4 1496,1117.4 1496.5,1117.4 1497,1117.4 1497.5,1117.4 1498,1117.4 1498.5,1117.4 1499,1117.4 1499.5,1117.4 1500,1117.4 1500.5,1117.4 1501,1117.4 1501.5,1117.4 1502,1117.4 1502.5,1117.4 1503,1117.4 1503.5,1117.4 1504,1117.4 1504.5,1117.4 1505,1117.4 1505.5,1117.4 1506,1117.4 1506.5,1117.4 1507,1117.4 1507.5,1117.4 1508,1117.4 1508.5,1117.4 1509,1117.4 1509.5,1117.4 1510,1117.4 1510.5,1117.4 1511,1117.4 1511.5,1117.4 1512,1117.4 1512.5,1117.4 1513,1117.4 1513.5,1117.4 1514,1117.4 1514.5,1117.4 1515,1117.4 1515.5,1117.4 1516,1117.4 1516.5,1117.4 1517,1117.4 1517.5,1117.4 1518,1117.4 1518.5,1117.4 1519,1117.4 1519.5,1117.4 1520,1117.4 1520.5,1117.4 1521,1117.4 1521.5,1117.4 1522,1117.4 1522.5,1117.4 1523,1117.4 1523.5,1117.3 1524,1117.3 1524.5,1117.2 1525,1117.2 1525.5,1117.1 1526,1117.1 1526.5,1117 1527,1117 1527.5,1116.9 1528,1116.9 1528.5,1116.8 1529,1116.8 1529.5,1116.7 1530,1116.7 1530.5,1116.6 1531,1116.6 1531.5,1116.5 1532,1116.5 1532.5,1116.4 1533,1116.4 1533.5,1116.3 1534,1116.3 1534.5,1116.2 1535,1116.2 1535.5,1116.1 1536,1116.1 1536.5,1116 1537,1116 1537.5,1115.9 1538,1115.9 1538.5,1115.8 1539,1115.7 1539.5,1115.6 1540,1115.6 1540.5,1115.5 1541,1115.4 1541.5,1115.3 1542,1115.3 1542.5,1115.2 1543,1115.1 1543.5,1115 1544,1115 1544.5,1114.9 1545,1114.8 1545.5,1114.8 1546,1114.7 1546.5,1114.6 1547,1114.5 1547.5,1114.5 1548,1114.4 1548.5,1114.3 1549,1114.2 1549.5,1114.2 1550,1114.1 1550.5,1114 1551,1113.9 1551.5,1113.9 1552,1113.8 1552.5,1113.7 1553,1113.6 1553.5,1113.6 1554,1113.5 1554.5,1113.4 1555,1113.4 1555.5,1113.3 1556,1113.2 1556.5,1113.1 1557,1113.1 1557.5,1113 1558,1112.9 1558.5,1112.8 1559,1112.7 1559.5,1112.7 1560,1112.6 1560.5,1112.5 1561,1112.4 1561.5,1112.4 1562,1112.3 1562.5,1112.2 1563,1112.1 1563.5,1112 1564,1112 1564.5,1111.9 1565,1111.8 1565.5,1111.7 1566,1111.6 1566.5,1111.6 1567,1111.5 1567.5,1111.4 1568,1111.3 1568.5,1111.3 1569,1111.2 1569.5,1111.1 1570,1111 1570.5,1110.9 1571,1110.9 1571.5,1110.8 1572,1110.7 1572.5,1110.6 1573,1110.5 1573.5,1110.5 1574,1110.4 1574.5,1110.3 1575,1110.2 1575.5,1110.2 1576,1110.1 1576.5,1110 1577,1109.9 1577.5,1109.8 1578,1109.8 1578.5,1109.7 1579,1109.6 1579.5,1109.5 1580,1109.4 1580.5,1109.4 1581,1109.3 1581.5,1109.2 1582,1109.1 1582.5,1109 1583,1108.9 1583.5,1108.9 1584,1108.8 1584.5,1108.7 1585,1108.6 1585.5,1108.5 1586,1108.4 1586.5,1108.3 1587,1108.2 1587.5,1108.2 1588,1108.1 1588.5,1108 1589,1107.9 1589.5,1107.8 1590,1107.7 1590.5,1107.6 1591,1107.6 1591.5,1107.5 1592,1107.4 1592.5,1107.3 1593,1107.2 1593.5,1107.1 1594,1107 1594.5,1107 1595,1106.9 1595.5,1106.8 1596,1106.7 1596.5,1106.6 1597,1106.5 1597.5,1106.4 1598,1106.4 1598.5,1106.3 1599,1106.2 1599.5,1106.1 1600,1103.1 1600.5,1102.9 1601,1102.8 1601.5,1102.6 1602,1102.4 1602.5,1102.3 1603,1102.1 1603.5,1101.9 1604,1101.7 1604.5,1101.6 1605,1101.4 1605.5,1101.2 1606,1101 1606.5,1100.8 1607,1100.6 1607.5,1100.4 1608,1100.2 1608.5,1100 1609,1099.7 1609.5,1099.5 1610,1099.3 1610.5,1099 1611,1098.8 1611.5,1098.5 1612,1098.3 1612.5,1098 1613,1097.7 1613.5,1097.4 1614,1097.1 1614.5,1096.8 1615,1096.5 1615.5,1096.2 1616,1095.9 1616.5,1095.5 1617,1095.1 1617.5,1094.8 1618,1094.4 1618.5,1093.9 1619,1093.5 1619.5,1093.1 1620,1092.6 1620.5,1092.1 1621,1091.6 1621.5,1091 1622,1090.4 1622.5,1089.8 1623,1089.2 1623.5,1088.5 1624,1087.8 1624.5,1087 1625,1086.2 1625.5,1085.3 1626,1084.3 1626.5,1083.3 1627,1082.2 1627.5,1081.1 1628,1079.8 1628.5,1078.5 1629,1077 1629.5,1075.5 1630,1073.8 1630.5,1071.9 1631,1069.9 1631.5,1067.8 1632,1065.4 1632.5,1062.8 1633,1059.9 1633.5,1056.8 1634,1053.3 1634.5,1049.5 1635,1045.2 1635.5,1040.5 1636,1035.2 1636.5,1029.4 1637,1022.9 1637.5,1015.6 1638,1007.5 1638.5,998.5 1639,988.5 1639.5,977.5 1640,965.6 1640.5,952.9 1641,939.5 1641.5,925.9 1642,912.9 1642.5,901.2 1643,892 1643.5,886.3 1644,884.9 1644.5,888 1645,895.2 1645.5,905.4 1646,917.7 1646.5,930.9 1647,944.4 1647.5,957.4 1648,969.7 1648.5,981.1 1649,991.5 1649.5,1000.9 1650,1009.3 1650.5,1016.9 1651,1023.6 1651.5,1029.7 1652,1035 1652.5,1039.9 1653,1044.2 1653.5,1048 1654,1051.5 1654.5,1054.6 1655,1057.4 1655.5,1059.9 1656,1062.2 1656.5,1064.2 1657,1066.1 1657.5,1067.8 1658,1069.4 1658.5,1070.8 1659,1072 1659.5,1073.2 1660,1074.3 1660.5,1075.3 1661,1076.2 1661.5,1077 1662,1077.8 1662.5,1078.5 1663,1079.2 1663.5,1079.8 1664,1080.3 1664.5,1080.8 1665,1081.3 1665.5,1081.8 1666,1082.2 1666.5,1082.5 1667,1082.9 1667.5,1083.2 1668,1083.5 1668.5,1083.7 1669,1083.9 1669.5,1084.1 1670,1084.2 1670.5,1084.4 1671,1084.5 1671.5,1084.6 1672,1084.7 1672.5,1084.8 1673,1084.9 1673.5,1085 1674,1085 1674.5,1085.1 1675,1085.1 1675.5,1085.1 1676,1085.1 1676.5,1085.2 1677,1085.2 1677.5,1085.2 1678,1085.2 1678.5,1085.1 1679,1085.1 1679.5,1085.1 1680,1085.1 1680.5,1085 1681,1085 1681.5,1085 1682,1084.9 1682.5,1084.9 1683,1084.8 1683.5,1084.8 1684,1084.7 1684.5,1084.6 1685,1084.6 1685.5,1084.5 1686,1084.4 1686.5,1084.4 1687,1084.3 1687.5,1084.2 1688,1084.1 1688.5,1084 1689,1083.9 1689.5,1083.8 1690,1083.7 1690.5,1085.9 1691,1085.7 1691.5,1085.6 1692,1085.4 1692.5,1085.3 1693,1085.1 1693.5,1084.9 1694,1084.8 1694.5,1084.6 1695,1084.5 1695.5,1084.3 1696,1084.1 1696.5,1084 1697,1083.8 1697.5,1083.7 1698,1083.5 1698.5,1083.3 1699,1083.2 1699.5,1083 1700,1082.9 1700.5,1082.7 1701,1082.6 1701.5,1082.4 1702,1082.2 1702.5,1082.1 1703,1081.9 1703.5,1081.8 1704,1081.6 1704.5,1081.4 1705,1081.3 1705.5,1081.1 1706,1081 1706.5,1080.8 1707,1080.6 1707.5,1080.5 1708,1080.3 1708.5,1080.2 1709,1080 1709.5,1079.9 1710,1079.7 1710.5,1079.5 1711,1079.4 1711.5,1079.2 1712,1079.1 1712.5,1078.9 1713,1078.8 1713.5,1078.6 1714,1078.4 1714.5,1078.3 1715,1078.1 1715.5,1078 1716,1077.8 1716.5,1077.7 1717,1077.5 1717.5,1077.3 1718,1077.2 1718.5,1077 1719,1076.9 1719.5,1076.7 1720,1076.6 1720.5,1076.4 1721,1076.2 1721.5,1076.1 1722,1075.9 1722.5,1075.8 1723,1075.6 1723.5,1075.5 1724,1075.3 1724.5,1075.2 1725,1075 1725.5,1074.8 1726,1074.6 1726.5,1074.4 1727,1074.2 1727.5,1074 1728,1073.8 1728.5,1073.6 1729,1073.4 1729.5,1073.2 1730,1073 1730.5,1072.8 1731,1072.6 1731.5,1072.4 1732,1072.2 1732.5,1072 1733,1071.8 1733.5,1071.6 1734,1071.3 1734.5,1071.1 1735,1070.9 1735.5,1070.7 1736,1070.5 1736.5,1070.3 1737,1070.1 1737.5,1069.9 1738,1069.7 1738.5,1069.5 1739,1069.3 1739.5,1069.1 1740,1068.9 1740.5,1068.7 1741,1068.5 1741.5,1068.3 1742,1068.1 1742.5,1067.9 1743,1067.7 1743.5,1067.5 1744,1067.3 1744.5,1067.1 1745,1066.9 1745.5,1066.7 1746,1066.6 1746.5,1066.5 1747,1066.4 1747.5,1066.2 1748,1066.1 1748.5,1066 1749,1065.9 1749.5,1065.7 1750,1065.6 1750.5,1065.5 1751,1065.4 1751.5,1065.2 1752,1065.1 1752.5,1065 1753,1064.9 1753.5,1064.7 1754,1064.6 1754.5,1064.5 1755,1064.3 1755.5,1064.2 1756,1064.1 1756.5,1064 1757,1063.8 1757.5,1063.7 1758,1063.6 1758.5,1063.5 1759,1063.3 1759.5,1063.2 1760,1059.9 1760.5,1059.7 1761,1059.5 1761.5,1059.4 1762,1059.2 1762.5,1059 1763,1058.8 1763.5,1058.7 1764,1058.5 1764.5,1058.3 1765,1058.2 1765.5,1058 1766,1057.8 1766.5,1057.7 1767,1057.5 1767.5,1057.3 1768,1057.2 1768.5,1057 1769,1056.8 1769.5,1056.6 1770,1056.4 1770.5,1056.2 1771,1056.1 1771.5,1055.9 1772,1055.7 1772.5,1055.5 1773,1055.3 1773.5,1055.1 1774,1054.9 1774.5,1054.7 1775,1054.5 1775.5,1054.3 1776,1054 1776.5,1053.8 1777,1053.6 1777.5,1053.4 1778,1053.1 1778.5,1052.9 1779,1052.7 1779.5,1052.4 1780,1052.2 1780.5,1051.9 1781,1051.7 1781.5,1051.4 1782,1051.1 1782.5,1050.8 1783,1050.5 1783.5,1050.2 1784,1049.9 1784.5,1049.6 1785,1049.3 1785.5,1048.9 1786,1048.6 1786.5,1048.3 1787,1047.9 1787.5,1047.5 1788,1047.2 1788.5,1046.8 1789,1046.4 1789.5,1046 1790,1045.6 1790.5,1045.2 1791,1044.8 1791.5,1044.3 1792,1043.9 1792.5,1043.4 1793,1042.9 1793.5,1042.4 1794,1041.9 1794.5,1041.3 1795,1040.8 1795.5,1040.2 1796,1039.6 1796.5,1039 1797,1038.3 1797.5,1037.7 1798,1037 1798.5,1036.2 1799,1035.5 1799.5,1034.7 1800,1033.9 1800.5,1033 1801,1032.1 1801.5,1031.2 1802,1030.2 1802.5,1029.1 1803,1028 1803.5,1026.8 1804,1025.5 1804.5,1024.1 1805,1022.6 1805.5,1021 1806,1019.2 1806.5,1017.2 1807,1014.9 1807.5,1012.4 1808,1009.4 1808.5,1006.1 1809,1002.2 1809.5,997.6 1810,992.3 1810.5,986.2 1811,979.2 1811.5,971.1 1812,962 1812.5,951.8 1813,940.5 1813.5,928.2 1814,915 1814.5,901 1815,886.3 1815.5,871.2 1816,855.8 1816.5,840.3 1817,824.9 1817.5,809.6 1818,794.7 1818.5,780.3 1819,766.4 1819.5,753.3 1820,740.8 1820.5,729.3 1821,718.6 1821.5,708.9 1822,700.4 1822.5,693 1823,687.1 1823.5,682.5 1824,679.6 1824.5,678.4 1825,678.9 1825.5,681.1 1826,685 1826.5,690.4 1827,697.1 1827.5,705.2 1828,714.4 1828.5,724.6 1829,735.7 1829.5,747.8 1830,760.6 1830.5,774 1831,788.1 1831.5,802.7 1832,817.7 1832.5,832.8 1833,848.1 1833.5,863.3 1834,878.2 1834.5,892.7 1835,906.6 1835.5,919.7 1836,931.9 1836.5,943.1 1837,953.3 1837.5,962.3 1838,970.2 1838.5,977.1 1839,983.1 1839.5,988.2 1840,992.5 1840.5,996.1 1841,999.2 1841.5,1001.8 1842,1004 1842.5,1005.9 1843,1007.6 1843.5,1009 1844,1010.2 1844.5,1011.3 1845,1012.3 1845.5,1013.2 1846,1014 1846.5,1014.7 1847,1015.3 1847.5,1015.9 1848,1016.4 1848.5,1016.8 1849,1017.3 1849.5,1017.6 1850,1017.9 1850.5,1018.2 1851,1018.5 1851.5,1018.7 1852,1018.8 1852.5,1019 1853,1019.1 1853.5,1019.1 1854,1019.1 1854.5,1019.1 1855,1019.1 1855.5,1019 1856,1018.9 1856.5,1018.8 1857,1018.6 1857.5,1018.4 1858,1018.2 1858.5,1017.9 1859,1017.6 1859.5,1017.3 1860,1016.9 1860.5,1016.4 1861,1016 1861.5,1015.4 1862,1014.8 1862.5,1014.2 1863,1013.4 1863.5,1012.6 1864,1011.7 1864.5,1010.6 1865,1009.5 1865.5,1008.1 1866,1006.5 1866.5,1004.7 1867,1002.6 1867.5,1000.2 1868,997.3 1868.5,993.9 1869,990 1869.5,985.4 1870,980.1 1870.5,974.1 1871,967.2 1871.5,959.4 1872,950.8 1872.5,941.3 1873,931 1873.5,919.9 1874,908.2 1874.5,895.9 1875,883.2 1875.5,870.1 1876,856.9 1876.5,843.7 1877,830.5 1877.5,817.5 1878,804.7 1878.5,792.3 1879,780.4 1879.5,768.9 1880,758.1 1880.5,747.8 1881,738.3 1881.5,729.5 1882,721.6 1882.5,714.6 1883,708.7 1883.5,703.9 1884,700.5 1884.5,698.5 1885,698.1 1885.5,699.1 1886,701.7 1886.5,705.6 1887,710.8 1887.5,717.2 1888,724.5 1888.5,732.8 1889,741.9 1889.5,751.7 1890,762.1 1890.5,773.2 1891,784.8 1891.5,796.9 1892,809.3 1892.5,822.1 1893,835.1 1893.5,848.3 1894,861.4 1894.5,874.5 1895,887.3 1895.5,899.7 1896,911.6 1896.5,922.9 1897,933.5 1897.5,943.3 1898,952.3 1898.5,960.4 1899,967.6 1899.5,974 1900,979.6 1900.5,984.4 1901,988.6 1901.5,992.1 1902,995.2 1902.5,997.8 1903,1000 1903.5,1001.9 1904,1003.5 1904.5,1004.9 1905,1006.1 1905.5,1007.1 1906,1008.1 1906.5,1008.9 1907,1009.7 1907.5,1010.3 1908,1011 1908.5,1011.5 1909,1012 1909.5,1012.5 1910,1013 1910.5,1013.4 1911,1013.8 1911.5,1014.1 1912,1014.4 1912.5,1014.8 1913,1015 1913.5,1015.3 1914,1015.6 1914.5,1015.8 1915,1016 1915.5,1016.2 1916,1016.4 1916.5,1016.6 1917,1016.8 1917.5,1016.9 1918,1017 1918.5,1017.2 1919,1017.3 1919.5,1017.4 1920,1017.5 1920.5,1017.6 1921,1017.7 1921.5,1017.8 1922,1017.8 1922.5,1017.9 1923,1017.9 1923.5,1018 1924,1018 1924.5,1018.1 1925,1018.1 1925.5,1018.1 1926,1018.1 1926.5,1018.2 1927,1018.2 1927.5,1018.2 1928,1018.2 1928.5,1018.2 1929,1018.2 1929.5,1018.2 1930,1018.2 1930.5,1018.2 1931,1018.1 1931.5,1018.1 1932,1018.1 1932.5,1018.1 1933,1018 1933.5,1018 1934,1018 1934.5,1017.9 1935,1017.9 1935.5,1017.9 1936,1017.8 1936.5,1017.8 1937,1017.7 1937.5,1017.7 1938,1017.6 1938.5,1017.6 1939,1017.5 1939.5,1017.5 1940,1017.4 1940.5,1017.4 1941,1017.3 1941.5,1017.3 1942,1017.2 1942.5,1017.1 1943,1017.1 1943.5,1017 1944,1017 1944.5,1016.9 1945,1016.8 1945.5,1016.8 1946,1016.7 1946.5,1016.7 1947,1016.6 1947.5,1016.5 1948,1016.4 1948.5,1016.4 1949,1016.3 1949.5,1016.2" fill="none" stroke="#f41010" stroke-width="4.2" stroke-linejoin="round"/>
<polyline points="347,978.3 348,978.6 349,978.9 350,979.2 351,979.5 352,979.8 353,980.1 354,980.4 355,980.7 356,981 357,981.3 358,981.6 359,981.9 360,982.2 361,982.5 362,982.8 363,983.1 364,983.4 365,983.7 366,984 367,984.2 368,984.5 369,984.7 370,985 371,985.2 372,985.5 373,985.7 374,986 375,986.2 376,986.5 377,986.7 378,986.9 379,987.2 380,987.4 381,987.7 382,988 383,988.2 384,988.5 385,988.8 386,989 387,989.3 388,989.6 389,989.9 390,990.1 391,990.4 392,990.7 393,990.9 394,991.2 395,991.5 396,991.7 397,992 398,992.3 399,992.6 400,992.8 401,993.1 402,993.4 403,993.6 404,993.9 405,994.2 406,994.4 407,994.6 408,994.8 409,995.1 410,995.3 411,995.5 412,995.7 413,996 414,996.2 415,996.4 416,996.7 417,996.9 418,997.1 419,997.3 420,997.6 421,997.8 422,998 423,998.2 424,998.5 425,998.7 426,998.9 427,999.1 428,999.4 429,999.6 430,999.8 431,1000 432,1000.2 433,1000.4 434,1000.6 435,1000.9 436,1001.1 437,1001.3 438,1001.5 439,1001.7 440,1001.9 441,1002.2 442,1002.4 443,1002.6 444,1002.8 445,1003 446,1003.2 447,1003.4 448,1003.7 449,1003.9 450,1004.1 451,1004.3 452,1004.4 453,1004.5 454,1004.6 455,1004.7 456,1004.7 457,1004.8 458,1004.9 459,1005 460,1005.1 461,1005.2 462,1005.3 463,1005.4 464,1005.5 465,1005.6 466,1005.6 467,1005.7 468,1005.8 469,1005.9 470,1006 471,1006.1 472,1006.3 473,1006.4 474,1006.5 475,1006.7 476,1006.8 477,1006.9 478,1007.1 479,1007.2 480,1007.3 481,1007.5 482,1007.6 483,1007.8 484,1007.9 485,1008 486,1008.2 487,1008.3 488,1008.4 489,1008.6 490,1008.7 491,1008.8 492,1009 493,1009.1 494,1009.2 495,1009.4 496,1009.5 497,1009.7 498,1009.9 499,1010.1 500,1010.4 501,1010.6 502,1010.8 503,1011 504,1011.2 505,1011.4 506,1011.7 507,1011.9 508,1012.1 509,1012.3 510,1012.5 511,1012.7 512,1013 513,1013.2 514,1013.4 515,1013.6 516,1013.8 517,1014 518,1014.2 519,1014.5 520,1014.7 521,1014.8 522,1015 523,1015.2 524,1015.3 525,1015.5 526,1015.7 527,1015.8 528,1016 529,1016.2 530,1016.3 531,1016.5 532,1016.6 533,1016.8 534,1017 535,1017.1 536,1017.3 537,1017.5 538,1017.6 539,1017.8 540,1018 541,1018.1 542,1018.4 543,1018.6 544,1018.9 545,1019.1 546,1019.4 547,1019.6 548,1019.9 549,1020.1 550,1020.4 551,1020.6 552,1020.9 553,1021.1 554,1021.4 555,1021.6 556,1021.9 557,1022.1 558,1022.4 559,1022.6 560,1022.9 561,1023.1 562,1023.4 563,1023.7 564,1024 565,1024.3 566,1024.6 567,1024.9 568,1025.2 569,1025.5 570,1025.8 571,1026.1 572,1026.4 573,1026.7 574,1027 575,1027.3 576,1027.6 577,1027.9 578,1028.2 579,1028.5 580,1028.9 581,1029.2 582,1029.5 583,1029.8 584,1030.2 585,1030.5 586,1030.8 587,1031.1 588,1031.4 589,1031.8 590,1032.1 591,1032.4 592,1032.7 593,1033.1 594,1033.4 595,1033.7 596,1034 597,1034.4 598,1034.7 599,1035 600,1035.3 601,1035.7 602,1036 603,1036.3 604,1036.6 605,1036.9 606,1037.2 607,1037.5 608,1037.7 609,1038 610,1038.3 611,1038.6 612,1038.9 613,1039.2 614,1039.5 615,1039.8 616,1040 617,1040.3 618,1040.6 619,1040.9 620,1041.2 621,1041.5 622,1041.8 623,1042.1 624,1042.4 625,1042.8 626,1043.2 627,1043.6 628,1044 629,1044.4 630,1044.8 631,1045.2 632,1045.6 633,1046 634,1046.4 635,1046.8 636,1047.2 637,1047.6 638,1048 639,1048.5 640,1048.9 641,1049.3 642,1049.6 643,1049.9 644,1050.2 645,1050.4 646,1050.7 647,1051 648,1051.3 649,1051.6 650,1051.9 651,1052.2 652,1052.5 653,1052.8 654,1053.1 655,1053.4 656,1053.7 657,1054 658,1054.3 659,1054.6 660,1055 661,1055.3 662,1055.7 663,1056.1 664,1056.4 665,1056.8 666,1057.2 667,1057.5 668,1057.9 669,1058.2 670,1058.6 671,1059 672,1059.3 673,1059.7 674,1060.1 675,1060.4 676,1060.8 677,1061.2 678,1061.5 679,1061.7 680,1062 681,1062.3 682,1062.6 683,1062.9 684,1063.2 685,1063.4 686,1063.7 687,1064 688,1064.3 689,1064.6 690,1064.8 691,1065.1 692,1065.4 693,1065.7 694,1066 695,1066.2 696,1066.5 697,1066.8 698,1067.1 699,1067.4 700,1067.7 701,1067.9 702,1068.2 703,1068.5 704,1068.8 705,1069.1 706,1069.3 707,1069.6 708,1069.9 709,1070.2 710,1070.5 711,1070.7 712,1071 713,1071.2 714,1071.5 715,1071.7 716,1071.9 717,1072.1 718,1072.3 719,1072.5 720,1072.8 721,1073 722,1073.2 723,1073.4 724,1073.6 725,1073.9 726,1074.1 727,1074.3 728,1074.5 729,1074.7 730,1074.9 731,1075.2 732,1075.4 733,1075.6 734,1075.8 735,1076 736,1076.2 737,1076.5 738,1076.7 739,1076.9 740,1077.1 741,1077.3 742,1077.6 743,1077.8 744,1078 745,1078.2 746,1078.4 747,1078.6 748,1078.9 749,1079.1 750,1079.3 751,1079.5 752,1079.7 753,1079.8 754,1080 755,1080.1 756,1080.3 757,1080.4 758,1080.6 759,1080.7 760,1080.9 761,1081 762,1081.2 763,1081.3 764,1081.5 765,1081.6 766,1081.8 767,1081.9 768,1082.1 769,1082.2 770,1082.4 771,1082.5 772,1082.7 773,1082.8 774,1083 775,1083.1 776,1083.3 777,1083.4 778,1083.5 779,1083.6 780,1083.6 781,1083.7 782,1083.8 783,1083.9 784,1084 785,1084.1 786,1084.1 787,1084.2 788,1084.3 789,1084.4 790,1084.5 791,1084.6 792,1084.6 793,1084.7 794,1084.8 795,1084.9 796,1085 797,1085.1 798,1085.2 799,1085.2 800,1085.3 801,1085.4 802,1085.5 803,1085.6 804,1085.7 805,1085.7 806,1085.8 807,1085.7 808,1085.7 809,1085.7 810,1085.6 811,1085.6 812,1085.5 813,1085.5 814,1085.4 815,1085.4 816,1085.3 817,1085.3 818,1085.3 819,1085.2 820,1085.2 821,1085.1 822,1085.1 823,1085 824,1085 825,1084.9 826,1084.9 827,1084.9 828,1084.8 829,1084.8 830,1084.7 831,1084.7 832,1084.6 833,1084.6 834,1084.4 835,1084.3 836,1084.1 837,1083.9 838,1083.8 839,1083.6 840,1083.5 841,1083.3 842,1083.2 843,1083 844,1082.8 845,1082.7 846,1082.5 847,1082.4 848,1082.2 849,1082.1 850,1081.9 851,1081.7 852,1081.6 853,1081.4 854,1081.3 855,1081.1 856,1081 857,1080.8 858,1080.6 859,1080.5 860,1080.3 861,1080.2 862,1080 863,1079.9 864,1079.7 865,1079.5 866,1079.4 867,1079.2 868,1079.1 869,1078.9 870,1078.8 871,1078.6 872,1078.4 873,1078.3 874,1078.1 875,1077.9 876,1077.7 877,1077.5 878,1077.3 879,1077.1 880,1077 881,1076.8 882,1076.6 883,1076.4 884,1076.2 885,1076 886,1075.8 887,1075.7 888,1075.5 889,1075.3 890,1075.1 891,1074.9 892,1074.7 893,1074.5 894,1074.3 895,1074.2 896,1074 897,1073.8 898,1073.6 899,1073.4 900,1073.2 901,1073 902,1072.8 903,1072.7 904,1072.5 905,1072.3 906,1072.1 907,1071.9 908,1071.7 909,1071.5 910,1071.4 911,1071.2 912,1071 913,1070.8 914,1070.7 915,1070.5 916,1070.4 917,1070.2 918,1070.1 919,1069.9 920,1069.8 921,1069.6 922,1069.5 923,1069.3 924,1069.2 925,1069 926,1068.9 927,1068.7 928,1068.6 929,1068.4 930,1068.3 931,1068.1 932,1068 933,1067.8 934,1067.7 935,1067.5 936,1067.4 937,1067.2 938,1067.1 939,1067 940,1066.9 941,1066.8 942,1066.7 943,1066.5 944,1066.4 945,1066.3 946,1066.2 947,1066.1 948,1065.9 949,1065.8 950,1065.7 951,1065.6 952,1065.5 953,1065.4 954,1065.2 955,1065.1 956,1065 957,1064.9 958,1064.8 959,1064.7 960,1064.5 961,1064.4 962,1064.3 963,1064.2 964,1064.1 965,1063.9 966,1063.8 967,1063.7 968,1063.6 969,1063.5 970,1063.3 971,1063.2 972,1063.1 973,1063 974,1062.8 975,1062.7 976,1062.6 977,1062.5 978,1062.4 979,1062.2 980,1062.1 981,1062 982,1061.9 983,1061.8 984,1061.6 985,1061.5 986,1061.4 987,1061.3 988,1061.1 989,1061 990,1060.9 991,1060.8 992,1060.7 993,1060.6 994,1060.5 995,1060.4 996,1060.3 997,1060.2 998,1060.1 999,1060 1000,1059.9 1001,1059.8 1002,1059.7 1003,1059.6 1004,1059.5 1005,1059.4 1006,1059.3 1007,1059.2 1008,1059.1 1009,1059 1010,1058.9 1011,1058.8 1012,1058.7 1013,1058.6 1014,1058.5 1015,1058.5 1016,1058.4 1017,1058.4 1018,1058.3 1019,1058.3 1020,1058.2 1021,1058.2 1022,1058.1 1023,1058.1 1024,1058 1025,1058 1026,1057.9 1027,1057.8 1028,1057.8 1029,1057.7 1030,1057.7 1031,1057.6 1032,1057.6 1033,1057.5 1034,1057.5 1035,1057.4 1036,1057.3 1037,1057.3 1038,1057.2 1039,1057.1 1040,1057 1041,1057 1042,1056.9 1043,1056.8 1044,1056.7 1045,1056.7 1046,1056.6 1047,1056.5 1048,1056.4 1049,1056.4 1050,1056.3 1051,1056.2 1052,1056.1 1053,1056 1054,1056 1055,1055.9 1056,1055.8 1057,1055.7 1058,1055.7 1059,1055.6 1060,1055.5 1061,1055.4 1062,1055.3 1063,1055.2 1064,1055.1 1065,1055 1066,1054.9 1067,1054.8 1068,1054.7 1069,1054.6 1070,1054.6 1071,1054.5 1072,1054.4 1073,1054.3 1074,1054.2 1075,1054.1 1076,1054 1077,1053.9 1078,1053.8 1079,1053.7 1080,1053.6 1081,1053.5 1082,1053.4 1083,1053.4 1084,1053.3 1085,1053.2 1086,1053.1 1087,1053 1088,1052.9 1089,1052.9 1090,1052.8 1091,1052.7 1092,1052.6 1093,1052.5 1094,1052.4 1095,1052.4 1096,1052.3 1097,1052.2 1098,1052.1 1099,1052 1100,1052 1101,1051.9 1102,1051.8 1103,1051.7 1104,1051.6 1105,1051.6 1106,1051.5 1107,1051.4 1108,1051.3 1109,1051.2 1110,1051.2 1111,1051.1 1112,1051.1 1113,1051 1114,1051 1115,1051 1116,1050.9 1117,1050.9 1118,1050.8 1119,1050.8 1120,1050.7 1121,1050.7 1122,1050.6 1123,1050.6 1124,1050.6 1125,1050.5 1126,1050.5 1127,1050.4 1128,1050.4 1129,1050.3 1130,1050.3 1131,1050.2 1132,1050.2 1133,1050.2 1134,1050.1 1135,1050.1 1136,1050 1137,1050 1138,1050 1139,1050 1140,1050 1141,1050 1142,1050 1143,1050 1144,1050 1145,1050 1146,1050 1147,1050 1148,1050 1149,1050 1150,1050 1151,1050 1152,1050 1153,1050 1154,1050 1155,1050 1156,1050 1157,1050 1158,1050 1159,1050 1160,1050 1161,1050 1162,1050.1 1163,1050.3 1164,1050.4 1165,1050.6 1166,1050.7 1167,1050.8 1168,1051 1169,1051.1 1170,1051.3 1171,1051.4 1172,1051.6 1173,1051.7 1174,1051.8 1175,1052 1176,1052.1 1177,1052.3 1178,1052.4 1179,1052.6 1180,1052.7 1181,1052.8 1182,1053 1183,1053.1 1184,1053.3 1185,1053.4 1186,1053.6 1187,1053.7 1188,1053.9 1189,1054.1 1190,1054.4 1191,1054.6 1192,1054.8 1193,1055 1194,1055.2 1195,1055.5 1196,1055.7 1197,1055.9 1198,1056.1 1199,1056.3 1200,1056.6 1201,1056.8 1202,1057 1203,1057.2 1204,1057.4 1205,1057.7 1206,1057.9 1207,1058.1 1208,1058.3 1209,1058.5 1210,1058.7 1211,1058.9 1212,1059.1 1213,1059.3 1214,1059.5 1215,1059.7 1216,1059.9 1217,1060.1 1218,1060.3 1219,1060.5 1220,1060.7 1221,1060.9 1222,1061.1 1223,1061.3 1224,1061.5 1225,1061.7 1226,1061.9 1227,1062.1 1228,1062.3 1229,1062.6 1230,1062.8 1231,1063 1232,1063.2 1233,1063.4 1234,1063.6 1235,1063.8 1236,1064.1 1237,1064.3 1238,1064.5 1239,1064.7 1240,1064.9 1241,1065.1 1242,1065.3 1243,1065.5 1244,1065.8 1245,1066 1246,1066.2 1247,1066.4 1248,1066.6 1249,1066.8 1250,1067 1251,1067.3 1252,1067.5 1253,1067.7 1254,1068 1255,1068.2 1256,1068.5 1257,1068.7 1258,1069 1259,1069.2 1260,1069.5 1261,1069.7 1262,1070 1263,1070.2 1264,1070.5 1265,1070.7 1266,1071 1267,1071.2 1268,1071.5 1269,1071.7 1270,1072 1271,1072.2 1272,1072.5 1273,1072.9 1274,1073.2 1275,1073.5 1276,1073.9 1277,1074.2 1278,1074.5 1279,1074.9 1280,1075.2 1281,1075.5 1282,1075.9 1283,1076.2 1284,1076.5 1285,1076.9 1286,1077.2 1287,1077.5 1288,1077.9 1289,1078.2 1290,1078.5 1291,1078.9 1292,1079.2 1293,1079.5 1294,1079.8 1295,1080.1 1296,1080.3 1297,1080.6 1298,1080.9 1299,1081.1 1300,1081.4 1301,1081.7 1302,1081.9 1303,1082.2 1304,1082.4 1305,1082.7 1306,1083 1307,1083.2 1308,1083.5 1309,1083.8 1310,1084 1311,1084.3 1312,1084.6 1313,1084.8 1314,1085.1 1315,1085.4 1316,1085.6 1317,1085.9 1318,1086.2 1319,1086.5 1320,1086.7 1321,1087 1322,1087.3 1323,1087.6 1324,1087.9 1325,1088.2 1326,1088.4 1327,1088.7 1328,1089 1329,1089.3 1330,1089.6 1331,1089.9 1332,1090.1 1333,1090.4 1334,1090.7 1335,1091 1336,1091.3 1337,1091.6 1338,1091.9 1339,1092.2 1340,1092.5 1341,1092.8 1342,1093.1 1343,1093.4 1344,1093.7 1345,1093.9 1346,1094.2 1347,1094.5 1348,1094.8 1349,1095.1 1350,1095.4 1351,1095.7 1352,1096 1353,1096.3 1354,1096.6 1355,1096.9 1356,1097.2 1357,1097.5 1358,1097.8 1359,1098.1 1360,1098.4 1361,1098.6 1362,1098.9 1363,1099.2 1364,1099.5 1365,1099.8 1366,1100.1 1367,1100.4 1368,1100.7 1369,1101 1370,1101.3 1371,1101.6 1372,1101.8 1373,1102.1 1374,1102.3 1375,1102.5 1376,1102.7 1377,1103 1378,1103.2 1379,1103.4 1380,1103.6 1381,1103.8 1382,1104.1 1383,1104.3 1384,1104.5 1385,1104.7 1386,1104.9 1387,1105.2 1388,1105.4 1389,1105.6 1390,1105.8 1391,1106 1392,1106.3 1393,1106.5 1394,1106.7 1395,1106.9 1396,1107 1397,1107.2 1398,1107.3 1399,1107.5 1400,1107.6 1401,1107.8 1402,1107.9 1403,1108.1 1404,1108.2 1405,1108.4 1406,1108.5 1407,1108.7 1408,1108.8 1409,1109 1410,1109.1 1411,1109.3 1412,1109.4 1413,1109.6 1414,1109.7 1415,1109.9 1416,1110 1417,1110.2 1418,1110.3 1419,1110.5 1420,1110.6 1421,1110.8 1422,1111 1423,1111.1 1424,1111.3 1425,1111.5 1426,1111.6 1427,1111.8 1428,1112 1429,1112.1 1430,1112.3 1431,1112.5 1432,1112.6 1433,1112.8 1434,1113 1435,1113.1 1436,1113.3 1437,1113.5 1438,1113.6 1439,1113.8 1440,1114 1441,1114.1 1442,1114.2 1443,1114.3 1444,1114.4 1445,1114.4 1446,1114.5 1447,1114.6 1448,1114.6 1449,1114.7 1450,1114.7 1451,1114.8 1452,1114.9 1453,1114.9 1454,1115 1455,1115.1 1456,1115.1 1457,1115.2 1458,1115.2 1459,1115.3 1460,1115.4 1461,1115.4 1462,1115.5 1463,1115.6 1464,1115.6 1465,1115.7 1466,1115.7 1467,1115.8 1468,1115.9 1469,1115.9 1470,1116 1471,1116 1472,1116.1 1473,1116.2 1474,1116.2 1475,1116.3 1476,1116.3 1477,1116.4 1478,1116.5 1479,1116.5 1480,1116.6 1481,1116.6 1482,1116.7 1483,1116.7 1484,1116.8 1485,1116.9 1486,1116.9 1487,1117 1488,1117 1489,1117.1 1490,1117.1 1491,1117.2 1492,1117.3 1493,1117.3 1494,1117.4 1495,1117.4 1496,1117.4 1497,1117.4 1498,1117.4 1499,1117.4 1500,1117.4 1501,1117.4 1502,1117.4 1503,1117.4 1504,1117.4 1505,1117.4 1506,1117.4 1507,1117.4 1508,1117.4 1509,1117.4 1510,1117.4 1511,1117.4 1512,1117.4 1513,1117.4 1514,1117.4 1515,1117.4 1516,1117.4 1517,1117.4 1518,1117.4 1519,1117.4 1520,1117.4 1521,1117.4 1522,1117.4 1523,1117.4 1524,1117.3 1525,1117.2 1526,1117.1 1527,1117 1528,1116.9 1529,1116.8 1530,1116.7 1531,1116.6 1532,1116.5 1533,1116.4 1534,1116.3 1535,1116.2 1536,1116.1 1537,1116 1538,1115.9 1539,1115.7 1540,1115.6 1541,1115.4 1542,1115.3 1543,1115.1 1544,1115 1545,1114.8 1546,1114.7 1547,1114.5 1548,1114.4 1549,1114.2 1550,1114.1 1551,1113.9 1552,1113.8 1553,1113.6 1554,1113.5 1555,1113.4 1556,1113.2 1557,1113.1 1558,1112.9 1559,1112.7 1560,1112.6 1561,1112.4 1562,1112.3 1563,1112.1 1564,1112 1565,1111.8 1566,1111.6 1567,1111.5 1568,1111.3 1569,1111.2 1570,1111 1571,1110.9 1572,1110.7 1573,1110.5 1574,1110.4 1575,1110.2 1576,1110.1 1577,1109.9 1578,1109.8 1579,1109.6 1580,1109.4 1581,1109.3 1582,1109.1 1583,1108.9 1584,1108.8 1585,1108.6 1586,1108.4 1587,1108.2 1588,1108.1 1589,1107.9 1590,1107.7 1591,1107.6 1592,1107.4 1593,1107.2 1594,1107 1595,1106.9 1596,1106.7 1597,1106.5 1598,1106.4 1599,1106.2 1600,1106 1601,1105.8 1602,1105.7 1603,1105.5 1604,1105.3 1605,1105.2 1606,1105 1607,1104.8 1608,1104.6 1609,1104.4 1610,1104.3 1611,1104.1 1612,1103.9 1613,1103.7 1614,1103.5 1615,1103.4 1616,1103.2 1617,1103 1618,1102.8 1619,1102.7 1620,1102.5 1621,1102.3 1622,1102.1 1623,1101.9 1624,1101.8 1625,1101.6 1626,1101.3 1627,1101.1 1628,1100.8 1629,1100.6 1630,1100.3 1631,1100.1 1632,1099.8 1633,1099.5 1634,1099.3 1635,1099 1636,1098.8 1637,1098.5 1638,1098.3 1639,1098 1640,1097.8 1641,1097.5 1642,1097.3 1643,1097 1644,1096.8 1645,1096.5 1646,1096.3 1647,1096.1 1648,1095.9 1649,1095.7 1650,1095.6 1651,1095.4 1652,1095.3 1653,1095.1 1654,1094.9 1655,1094.8 1656,1094.6 1657,1094.4 1658,1094.3 1659,1094.1 1660,1093.9 1661,1093.8 1662,1093.6 1663,1093.5 1664,1093.3 1665,1093.1 1666,1093 1667,1092.8 1668,1092.6 1669,1092.3 1670,1092 1671,1091.7 1672,1091.4 1673,1091.1 1674,1090.8 1675,1090.5 1676,1090.2 1677,1089.9 1678,1089.6 1679,1089.3 1680,1089 1681,1088.7 1682,1088.4 1683,1088.1 1684,1087.8 1685,1087.6 1686,1087.3 1687,1087 1688,1086.7 1689,1086.4 1690,1086.1 1691,1085.7 1692,1085.4 1693,1085.1 1694,1084.8 1695,1084.5 1696,1084.1 1697,1083.8 1698,1083.5 1699,1083.2 1700,1082.9 1701,1082.6 1702,1082.2 1703,1081.9 1704,1081.6 1705,1081.3 1706,1081 1707,1080.6 1708,1080.3 1709,1080 1710,1079.7 1711,1079.4 1712,1079.1 1713,1078.8 1714,1078.4 1715,1078.1 1716,1077.8 1717,1077.5 1718,1077.2 1719,1076.9 1720,1076.6 1721,1076.2 1722,1075.9 1723,1075.6 1724,1075.3 1725,1075 1726,1074.6 1727,1074.2 1728,1073.8 1729,1073.4 1730,1073 1731,1072.6 1732,1072.2 1733,1071.8 1734,1071.3 1735,1070.9 1736,1070.5 1737,1070.1 1738,1069.7 1739,1069.3 1740,1068.9 1741,1068.5 1742,1068.1 1743,1067.7 1744,1067.3 1745,1066.9 1746,1066.6 1747,1066.4 1748,1066.1 1749,1065.9 1750,1065.6 1751,1065.4 1752,1065.1 1753,1064.9 1754,1064.6 1755,1064.3 1756,1064.1 1757,1063.8 1758,1063.6 1759,1063.3 1760,1063.1 1761,1062.8 1762,1062.6 1763,1062.3 1764,1062.1 1765,1061.9 1766,1061.7 1767,1061.5 1768,1061.4 1769,1061.2 1770,1061 1771,1060.8 1772,1060.6 1773,1060.4 1774,1060.2 1775,1060 1776,1059.8 1777,1059.6 1778,1059.4 1779,1059.2 1780,1059 1781,1058.8 1782,1058.5 1783,1058.3 1784,1058 1785,1057.8 1786,1057.6 1787,1057.3 1788,1057.1 1789,1056.9 1790,1056.6 1791,1056.4 1792,1056.1 1793,1055.9 1794,1055.7 1795,1055.4 1796,1055.2 1797,1055 1798,1054.7 1799,1054.5 1800,1054.2 1801,1054 1802,1053.8 1803,1053.5 1804,1053.3 1805,1053 1806,1052.8 1807,1052.6 1808,1052.3 1809,1052.1 1810,1051.8 1811,1051.6 1812,1051.3 1813,1051.1 1814,1050.9 1815,1050.6 1816,1050.4 1817,1050.1 1818,1049.9 1819,1049.6 1820,1049.4 1821,1049.1 1822,1048.9 1823,1048.7 1824,1048.4 1825,1048.2 1826,1047.9 1827,1047.6 1828,1047.4 1829,1047.1 1830,1046.8 1831,1046.5 1832,1046.3 1833,1046 1834,1045.7 1835,1045.5 1836,1045.2 1837,1044.9 1838,1044.6 1839,1044.4 1840,1044.1 1841,1043.8 1842,1043.6 1843,1043.3 1844,1043 1845,1042.8 1846,1042.6 1847,1042.3 1848,1042.1 1849,1041.9 1850,1041.7 1851,1041.5 1852,1041.3 1853,1041.1 1854,1040.9 1855,1040.6 1856,1040.4 1857,1040.2 1858,1040 1859,1039.8 1860,1039.6 1861,1039.4 1862,1039.1 1863,1038.9 1864,1038.6 1865,1038.4 1866,1038.1 1867,1037.9 1868,1037.6 1869,1037.4 1870,1037.1 1871,1036.9 1872,1036.7 1873,1036.4 1874,1036.2 1875,1035.9 1876,1035.7 1877,1035.4 1878,1035.2 1879,1034.9 1880,1034.7 1881,1034.4 1882,1034.2 1883,1033.9 1884,1033.7 1885,1033.4 1886,1033.2 1887,1032.9 1888,1032.7 1889,1032.4 1890,1032.1 1891,1031.9 1892,1031.6 1893,1031.4 1894,1031.1 1895,1030.9 1896,1030.6 1897,1030.4 1898,1030.2 1899,1029.9 1900,1029.7 1901,1029.5 1902,1029.2 1903,1029 1904,1028.8 1905,1028.6 1906,1028.3 1907,1028.1 1908,1027.9 1909,1027.7 1910,1027.4 1911,1027.2 1912,1027 1913,1026.8 1914,1026.5 1915,1026.3 1916,1026.1 1917,1025.9 1918,1025.6 1919,1025.4 1920,1025.1 1921,1024.9 1922,1024.7 1923,1024.4 1924,1024.2 1925,1024 1926,1023.7 1927,1023.5 1928,1023.2 1929,1023 1930,1022.8 1931,1022.5 1932,1022.3 1933,1022.1 1934,1021.8 1935,1021.6 1936,1021.3 1937,1021.1 1938,1020.9 1939,1020.6 1940,1020.4 1941,1020.2 1942,1020 1943,1019.8 1944,1019.5 1945,1019.3 1946,1019.1 1947,1018.9 1948,1018.6 1949,1018.4" fill="none" stroke="#00e810" stroke-width="11.5" stroke-linecap="round" stroke-dasharray="0 22.3"/>
<polyline points="348,1410.5 350,1410.4 352,1410.6 354,1410.7 356,1410.8 358,1410.6 360,1410.5 362,1410.5 364,1410.7 366,1410.8 368,1410.6 370,1410.4 372,1410.5 374,1410.8 376,1410.6 378,1410.3 380,1410.6 382,1410.4 384,1410.5 386,1410.5 388,1410.5 390,1410.7 392,1410.6 394,1410.5 396,1410.7 398,1410.7 400,1410.4 402,1410.6 404,1410.5 406,1410.6 408,1410.4 410,1410.6 412,1410.6 414,1410.6 416,1410.4 418,1410.5 420,1410.4 422,1410.4 424,1410.6 426,1410.4 428,1410.8 430,1410.7 432,1410.3 434,1410.6 436,1410.4 438,1410.6 440,1410.6 442,1410.3 444,1410.6 446,1410.6 448,1410.7 450,1410.4 452,1410.7 454,1410.4 456,1410.6 458,1410.5 460,1410.8 462,1410.7 464,1411 466,1410.7 468,1410.7 470,1410.7 472,1410.5 474,1410.6 476.5,1412.1 477.5,1398.4 478.5,1398.4 479.2,1410.6 481,1411.8 483,1410.6 486,1410.5 488,1410.6 490,1410.6 492,1410.6 494,1410.5 496,1410.7 498,1410.4 500,1410.4 502,1410.4 504,1410.7 506,1410.5 508,1410.5 510,1410.4 512,1410.7 514,1410.4 516,1410.4 518,1410.7 520,1410.4 522,1410.6 524,1410.6 526,1410.5 528,1410.6 530,1410.8 532,1410.5 534,1410.4 536,1410.3 538,1410.6 540,1410.5 542,1410.6 544,1410.5 546,1410.5 548,1410.5 550,1410.5 552,1410.6 554,1410.5 556,1410.6 558,1410.9 560,1410.7 562,1410.4 564,1410.9 566,1410.7 568,1410.5 570,1410.7 572,1410.6 574,1410.5 576,1410.5 578,1410.5 580,1410.6 582,1410.8 584,1410.6 586,1410.7 588,1410.9 590,1410.4 592,1410.6 594,1410.6 596,1410.4 598,1410.4 600,1410.6 602,1410.7 604,1410.5 606,1410.6 608,1410.7 610,1410.6 612,1412.6 613.5,1398 614.5,1396 615.5,1406 616.5,1427.5 617.5,1427.5 618.5,1412 620,1416 622,1411 624,1413 627,1410.6 630,1410.7 632,1410.7 634,1410.8 636,1410.6 638,1410.4 640,1410.9 642,1410.8 644,1410.4 646,1410.8 648,1410.6 650,1410.3 652,1410.5 654,1410.5 656,1410.8 658,1410.5 660,1410.6 662,1410.6 664,1410.5 666,1410.5 668,1410.6 670,1410.8 672,1410.7 674,1410.5 676,1410.4 678,1410.6 680,1410.5 682,1410.5 684,1410.3 686,1410.9 688,1410.7 690,1410.5 692,1410.7 694,1410.8 696,1410.2 698,1410.5 700,1410.5 702,1410.7 704,1410.6 706,1410.6 708,1410.6 710,1410.9 712,1410.9 714,1410.5 716,1410.5 718,1411 720,1410.5 722,1410.5 724,1410.6 726,1410.7 728,1410.8 730,1410.7 732,1410.5 734,1410.7 736,1410.6 738,1410.9 740,1410.6 742,1410.4 744,1410.4 746,1410.8 748,1410.5 750,1410.3 752,1410.5 754,1410.6 756,1410.8 758,1410.4 760,1410.7 762,1410.7 764,1410.5 766,1410.6 768,1410.9 770,1410.9 772,1410.7 774,1410.6 776,1410.8 778,1410.6 780,1410.6 782,1410.5 784,1410.6 786,1410.6 788,1411 790,1410.6 792,1410.8 794,1410.8 796,1410.6 798,1410.8 800,1410.3 802,1410.6 804,1410.7 806,1410.2 808,1410.4 810,1410.8 812,1410.6 814,1410.4 816,1410.5 818,1410.5 820,1410.7 822,1410.7 824,1410.6 826,1410.5 828,1410.6 830,1410.8 832,1410.7 834,1410.7 836,1410.6 838,1410.4 840,1410.5 842,1410.7 844,1410.6 846,1410.5 848,1410.4 850,1410.6 852,1410.5 854,1410.5 856,1410.6 858,1410.6 860,1410.6 862,1410.7 864,1410.7 866,1410.8 868,1410.7 870,1410.5 872,1410.6 874,1410.7 876,1410.6 878,1410.7 880,1410.8 882,1410.5 884,1410.3 886,1410.8 888,1410.6 890,1410.7 892,1410.4 894,1410.9 896,1410.7 898,1410.6 900,1410.5 902,1410.6 904,1410.6 906,1410.6 908,1410.4 910,1410.8 912,1410.6 914,1410.6 916,1410.6 918,1410.2 920,1410.7 922,1410.6 924,1410.6 926,1410.6 928,1410.5 930,1410.7 932,1410.5 934,1410.5 936,1410.5 938,1410.6 940,1410.7 942,1410.5 944,1410.4 946,1410.8 948,1410.4 950,1410.8 952,1410.6 954,1410.5 956,1410.5 958,1410.7 960,1410.7 962,1410.6 964,1410.7 966,1410.9 968,1410.6 970,1410.4 972,1410.4 974,1410.4 976,1410.5 978,1410.5 980,1410.4 982,1410.7 984,1410.2 986,1410.4 988,1410.9 990,1410.8 992,1410.7 994,1410.7 996,1410.9 998,1410.7 1000,1410.6 1002,1410.4 1004,1410.6 1006,1410.5 1008,1410.5 1010,1410.5 1012,1410.6 1014,1410.6 1016,1410.7 1018,1410.4 1020,1410.6 1022,1410.9 1024,1410.6 1026,1410.6 1029,1413.6 1032,1425 1034,1437 1036,1428 1037.5,1412 1038.5,1334 1040.5,1333.5 1041.3,1412 1042,1476.5 1043.8,1476.5 1044.6,1412 1046,1396 1047.5,1406 1049,1404 1052,1408 1056,1407 1059,1410 1064,1410.6 1066,1410.7 1068,1410.7 1070,1410.7 1072,1410.5 1074,1410.5 1076,1410.7 1078,1410.6 1080,1410.6 1082,1410.2 1084,1410.2 1086,1410.7 1088,1410.6 1090,1410.8 1092,1410.7 1094,1410.6 1096,1410.6 1098,1410.4 1100,1410.7 1102,1410.5 1104,1410.7 1106,1410.6 1108,1410.6 1110,1410.7 1112,1410.5 1114,1410.5 1116,1410.5 1118,1410.5 1120,1410.8 1122,1410.5 1124,1410.8 1126,1410.7 1128,1410.7 1130,1410.7 1132,1410.4 1134,1410.7 1136,1410.8 1138,1410.5 1140,1410.6 1142,1410.5 1144,1410.6 1146,1410.4 1148,1410.8 1150,1410.5 1152,1410.4 1154,1410.9 1156,1410.7 1158,1410.7 1160,1410.7 1162,1410.5 1164,1410.6 1166,1410.7 1168,1410.7 1170,1410.7 1172,1410.6 1174,1410.5 1176,1410.6 1178,1410.8 1180,1410.8 1182,1410.5 1184,1410.5 1186,1410.8 1188,1410.7 1190,1410.7 1192,1410.4 1194,1410.5 1196,1410.5 1198,1410.6 1200,1410.3 1202,1410.8 1204,1410.6 1206,1410.7 1208,1410.4 1210,1410.6 1212,1410.8 1214,1410.4 1216,1410.6 1218,1410.7 1220,1410.5 1222,1410.7 1224,1410.6 1226,1410.8 1228,1410.7 1230,1410.6 1232,1410.9 1234,1410.7 1236,1410.8 1238,1410.4 1240,1410.5 1242,1410.7 1244,1410.7 1246,1410.6 1248,1410.7 1250,1410.4 1252,1410.6 1254,1410.4 1256,1410.7 1258,1410.5 1260,1410.5 1262,1410.6 1264,1410.9 1266,1410.4 1268,1410.5 1270,1410.8 1272,1410.5 1274,1410.9 1276,1410.6 1278,1410.6 1280,1410.7 1282,1410.9 1284,1410.7 1287,1410.6 1289,1405 1290.5,1415 1292,1408 1294,1410.6 1296,1410.7 1298,1410.7 1300,1410.7 1302,1410.5 1304,1410.7 1306,1410.5 1308,1410.7 1310,1410.5 1312,1410.6 1314,1410.7 1316,1410.6 1318,1410.7 1320,1410.7 1322,1410.7 1324,1410.8 1326,1410.4 1328,1410.4 1330,1410.7 1332,1410.7 1334,1410.9 1336,1410.7 1338,1410.7 1340,1410.5 1342,1410.7 1344,1410.7 1346,1410.4 1348,1410.5 1350,1410.6 1352,1410.6 1354,1410.2 1356,1410.6 1358,1410.6 1360,1410.6 1362,1410.6 1364,1410.7 1366,1410.4 1368,1410.7 1370,1410.6 1372,1410.5 1374,1410.6 1376,1410.8 1378,1410.4 1380,1410.4 1382,1410.4 1384,1410.9 1386,1410.6 1388,1410.6 1390,1410.5 1392,1410.5 1394,1410.3 1396,1410.6 1398,1410.6 1400,1410.3 1402,1410.4 1404,1410.5 1406,1410.6 1408,1410.6 1410,1410.8 1412,1410.8 1414,1410.8 1416,1410.8 1418,1410.4 1420,1410.5 1422,1410.8 1424,1410.6 1426,1410.6 1428,1410.3 1430,1410.3 1432,1410.7 1434,1410.7 1436,1410.6 1438,1410.5 1440,1410.3 1442,1410.7 1444,1410.8 1446,1410.8 1448,1410.6 1450,1410.6 1452,1410.4 1454,1410.8 1456,1410.9 1458,1410.5 1460,1410.6 1462,1410.6 1464,1410.5 1466,1410.2 1468,1410.5 1470,1410.7 1472,1410.4 1474,1410.5 1476,1410.1 1478,1410.8 1480,1410.7 1482,1410.6 1484,1410.6 1486,1410.5 1488,1410.6 1490,1410.6 1492,1410.6 1494,1410.6 1496,1410.6 1498,1410.8 1500,1410.4 1502,1410.6 1504,1410.5 1506,1410.4 1508,1410.2 1510,1410.7 1512,1410.5 1514,1410.5 1516,1410.7 1518,1410.4 1520,1410.6 1522,1410.6 1524,1410.7 1526,1410.8 1528,1410.5 1530,1410.7 1532,1410.6 1534,1410.6 1536,1410.6 1538,1410.7 1540,1410.4 1542,1410.6 1544,1410.8 1546,1410.6 1548,1410.9 1550,1410.5 1552,1410.6 1554,1410.5 1556,1410.5 1558,1410.4 1560,1410.5 1562,1410.6 1564,1410.5 1566,1410.7 1568,1410.8 1570,1410.4 1572,1410.7 1574,1410.6 1576,1410.6 1578,1411 1580,1410.8 1582,1410.6 1584,1410.6 1586,1410.3 1588,1410.7 1590,1410.5 1592,1410.6 1594,1410.6 1596,1410.7 1598,1410.9 1600,1410.7 1602,1410.8 1604,1410.6 1606,1410.7 1608,1410.7 1610,1410.4 1612,1410.9 1614,1410.5 1616,1410.4 1618,1410.8 1620,1410.9 1622,1410.5 1624,1410.5 1626,1411.1 1628,1410.6 1630,1410.3 1632,1410.5 1634,1410.9 1636,1410.7 1638,1410.7 1640,1410.8 1642,1410.7 1644,1410.6 1646,1410.4 1648,1410.7 1650,1410.4 1652,1410.6 1654,1410.9 1656,1410.7 1658,1410.6 1660,1410.6 1662,1410.7 1664,1410.7 1666,1410.4 1668,1410.6 1670,1410.9 1672,1410.7 1674,1410.5 1676,1410.5 1678,1410.3 1680,1410.5 1682,1410.8 1684,1410.6 1686,1410.5 1688,1410.5 1690,1410.6 1692,1410.6 1694,1410.5 1696,1410.5 1698,1410.7 1700,1410.8 1702,1410.5 1704,1410.5 1706,1410.8 1708,1410.4 1710,1410.5 1712,1410.5 1714,1410.6 1716,1410.6 1718,1410.5 1720,1410.6 1722,1410.4 1724,1410.3 1726,1410.3 1728,1410.7 1730,1410.3 1732,1410.7 1734,1410.7 1736,1410.7 1738,1410.6 1740,1410.5 1742,1410.6 1744,1410.5 1746,1410.4 1748,1410.8 1750,1410.5 1752,1410.9 1754,1410.7 1756,1410.5 1758,1410.7 1760,1410.8 1762,1410.4 1764,1410.5 1766,1410.4 1768,1410.6 1770,1410.7 1772,1410.6 1774,1410.5 1776,1410.5 1778,1410.8 1780,1410.8 1782,1410.6 1784,1410.4 1786,1410.7 1788,1410.6 1790,1410.6 1792,1410.9 1794,1410.7 1796,1410.5 1798,1410.5 1800,1410.8 1802,1410.6 1804,1410.7 1806,1410.6 1808,1410.5 1810,1410.6 1812,1410.8 1814,1410.7 1816,1410.4 1818,1410.6 1820,1410.5 1822,1410.6 1824,1410.8 1826,1410.9 1828,1410.6 1830,1410.5 1832,1410.6 1834,1410.6 1836,1410.6 1838,1410.6 1840,1410.6 1842,1410.4 1844,1410.7 1846,1410.6 1848,1410.5 1850,1410.7 1852,1410.5 1854,1410.9 1856,1410.7 1858,1410.6 1860,1410.5 1862,1410.6 1864,1410.7 1866,1410.5 1868,1410.7 1870,1410.3 1872,1410.6 1874,1410.7 1876,1410.7 1878,1410.6 1880,1410.8 1882,1410.5 1884,1410.5 1886,1410.6 1888,1410.8 1890,1410.7 1892,1410.6 1894,1410.7 1896,1410.7 1898,1410.4 1900,1410.2 1902,1410.5 1904,1410.4 1906,1410.5 1908,1410.4 1910,1410.5 1912,1410.7 1914,1410.6 1916,1410.6 1918,1410.9 1920,1410.5 1922,1410.6 1924,1410.8 1926,1410.4 1928,1410.4 1930,1410.8 1932,1410.7 1934,1410.7 1936,1410.7 1938,1410.8 1940,1410.5 1942,1410.6 1944,1410.4 1946,1410.6 1948,1410.7 1950,1410.5" fill="none" stroke="#1a1a9a" stroke-width="2.5" stroke-linejoin="round"/>
<circle cx="321.5" cy="64" r="14.8" fill="#fff" stroke="#000" stroke-width="2.2"/>
<rect x="793" y="62.8" width="184.3" height="5.2" fill="#c21f1f"/>
<circle cx="1376.5" cy="65" r="5.6" fill="#00e810"/>
<circle cx="1404.1" cy="65" r="5.6" fill="#00e810"/>
<circle cx="1431.7" cy="65" r="5.6" fill="#00e810"/>
<circle cx="1459.3" cy="65" r="5.6" fill="#00e810"/>
<circle cx="1486.9" cy="65" r="5.6" fill="#00e810"/>
<circle cx="1514.5" cy="65" r="5.6" fill="#00e810"/>
<circle cx="1542.1" cy="65" r="5.6" fill="#00e810"/>
<rect x="1207.8" y="1334.4" width="177.8" height="2.6" fill="#1a1a8a"/>
<g font-family="'Liberation Serif','Times New Roman',serif" fill="#000">
<text x="430.2" y="91.5" font-size="80">measured</text>
<text x="994.3" y="91.5" font-size="80">calculated</text>
<text x="1579.2" y="91.5" font-size="79.5">background</text>
<text x="1266.8" y="246" font-size="80" font-style="italic">ρ</text>
<text x="1316.4" y="246" font-size="80">:</text>
<text x="1345.4" y="246" font-size="80">2.0×10</text>
<text x="1574.4" y="214" font-size="46">15</text>
<text x="1638.5" y="246" font-size="80">m</text>
<text x="1702.6" y="214.4" font-size="46">-2</text>
<text x="1408" y="343.6" font-size="78" font-style="italic">M</text>
<text x="1476.7" y="343.6" font-size="80">:</text>
<text x="1507.5" y="343.6" font-size="78">0.3</text>
<text x="1115.6" y="442.8" font-size="80">Crystallite size</text>
<text x="1602" y="442.8" font-size="80">:</text>
<text x="1629.6" y="442.8" font-size="80">70.2 nm</text>
<text x="204.1" y="384" font-size="91">10</text>
<text x="293.4" y="343.7" font-size="57">4</text>
<text x="204.1" y="716.6" font-size="91">10</text>
<text x="293.2" y="678.4" font-size="57">3</text>
<text x="204.1" y="1051.5" font-size="91">10</text>
<text x="293.5" y="1011.6" font-size="57">2</text>
<text x="196.8" y="1303" font-size="64">2000</text>
<text x="196.8" y="1365" font-size="64">1000</text>
<text x="292.8" y="1428" font-size="64">0</text>
<text x="175.5" y="1492" font-size="64">-1000</text>
<text x="175.5" y="1554" font-size="64">-2000</text>
<text x="320.9" y="1631" font-size="97">4</text>
<text x="699" y="1631" font-size="97">6</text>
<text x="1077.9" y="1631" font-size="97">8</text>
<text x="1430.7" y="1631" font-size="97">10</text>
<text x="1808.9" y="1631" font-size="97">12</text>
<text x="905.4" y="1765.8" font-size="124" font-style="italic">K</text>
<text x="1016.4" y="1770.5" font-size="122">[</text>
<text x="1054.3" y="1765.8" font-size="122">nm</text>
<text x="1208.9" y="1714.3" font-size="66">-1</text>
<text x="1267.7" y="1770.5" font-size="122">]</text>
<text transform="translate(130.1 1076.1) rotate(-90)" font-size="118.3">Intensity [counts]</text>
<text transform="translate(121.3 1558.5) rotate(-90)" font-size="93.8">Residue</text>
<text transform="translate(433 654.9) rotate(-90)" font-size="90.8">111</text>
<text transform="translate(585.9 474.4) rotate(-90)" font-size="93">200</text>
<text transform="translate(1000.7 349.9) rotate(-90)" font-size="94.9">220</text>
<text transform="translate(1249.8 658.3) rotate(-90)" font-size="90.3">311</text>
<text transform="translate(1412.3 947.5) rotate(-90)" font-size="94">222</text>
<text transform="translate(1607.1 951.8) rotate(-90)" font-size="90.1">400</text>
<text transform="translate(1777.1 776.8) rotate(-90)" font-size="88">331</text>
<text transform="translate(1903.7 663.9) rotate(-90)" font-size="93.1">420</text>
<text x="1402.6" y="1363" font-size="84" font-style="italic">I</text>
<text x="1430.2" y="1367.8" font-size="47">measured</text>
<text x="1630.8" y="1363" font-size="80">-</text>
<text x="1675.7" y="1363" font-size="84" font-style="italic">I</text>
<text x="1702.5" y="1367.6" font-size="47">calculated</text>
</g>
</svg>
</body></html>
